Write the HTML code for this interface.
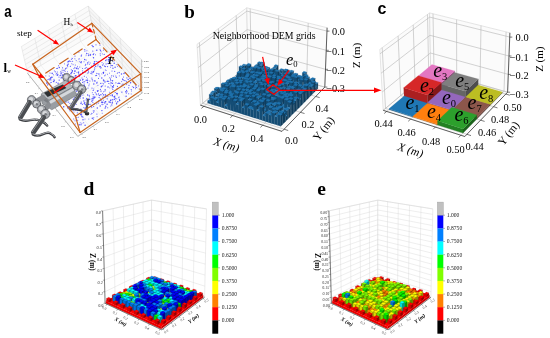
<!DOCTYPE html>
<html><head><meta charset="utf-8"><title>Figure</title>
<style>
html,body{margin:0;padding:0;background:#fff;}
body{width:550px;height:338px;overflow:hidden;}
svg{display:block;}
.ka{fill:#144d75;stroke:#144d75}.kb{fill:#103d5d;stroke:#103d5d}.kc{fill:#1e72ad;stroke:#1e72ad}.kd{fill:#b55f9b;stroke:#b55f9b}.ke{fill:#8c4978;stroke:#8c4978}.kf{fill:#e377c2;stroke:#e377c2}.kg{fill:#656565;stroke:#656565}.kh{fill:#4e4e4e;stroke:#4e4e4e}.ki{fill:#7f7f7f;stroke:#7f7f7f}.kj{fill:#96971b;stroke:#96971b}.kk{fill:#747515;stroke:#747515}.kl{fill:#bcbd22;stroke:#bcbd22}.km{fill:#ab1f20;stroke:#ab1f20}.kn{fill:#841818;stroke:#841818}.ko{fill:#d62728;stroke:#d62728}.kp{fill:#765297;stroke:#765297}.kq{fill:#5b3f75;stroke:#5b3f75}.kr{fill:#9467bd;stroke:#9467bd}.ks{fill:#70443c;stroke:#70443c}.kt{fill:#56352e;stroke:#56352e}.ku{fill:#8c564b;stroke:#8c564b}.kv{fill:#185f90;stroke:#185f90}.kw{fill:#13496f;stroke:#13496f}.kx{fill:#1f77b4;stroke:#1f77b4}.ky{fill:#cc650b;stroke:#cc650b}.kz{fill:#9e4e08;stroke:#9e4e08}.kaa{fill:#ff7f0e;stroke:#ff7f0e}.kab{fill:#238023;stroke:#238023}.kac{fill:#1b631b;stroke:#1b631b}.kad{fill:#2ca02c;stroke:#2ca02c}.kae{fill:#ea0000;stroke:#ea0000}.kaf{fill:#cc0000;stroke:#cc0000}.kag{fill:#ff0000;stroke:#ff0000}.kah{fill:#db0000;stroke:#720000}.kai{fill:#930000;stroke:#720000}.kaj{fill:#ff0000;stroke:#720000}.kak{fill:#006edb;stroke:#003972}.kal{fill:#004a93;stroke:#003972}.kam{fill:#0080ff;stroke:#003972}.kan{fill:#00db00;stroke:#007200}.kao{fill:#009300;stroke:#007200}.kap{fill:#00ff00;stroke:#007200}.kaq{fill:#00dbdb;stroke:#007272}.kar{fill:#009393;stroke:#007272}.kas{fill:#00ffff;stroke:#007272}.kat{fill:#6edb00;stroke:#397200}.kau{fill:#4a9300;stroke:#397200}.kav{fill:#80ff00;stroke:#397200}.kaw{fill:#0000db;stroke:#000072}.kax{fill:#000093;stroke:#000072}.kay{fill:#0000ff;stroke:#000072}.kaz{fill:#dbdb00;stroke:#727200}.kba{fill:#939300;stroke:#727200}.kbb{fill:#ffff00;stroke:#727200}.kbc{fill:#db6e00;stroke:#723900}.kbd{fill:#934a00;stroke:#723900}.kbe{fill:#ff8000;stroke:#723900}
</style></head><body>
<svg width="550" height="338" viewBox="0 0 550 338">
<rect width="550" height="338" fill="#fff"/>
<g id="panel-a">
<polygon points="27.6,73.4 94,33.5 141.8,93.3 77.8,136.4" fill="#fcfcfc"/>
<line x1="27.6" y1="73.4" x2="94" y2="33.5" stroke="#e2e2e2" stroke-width="0.4"/>
<line x1="37.6" y1="86" x2="103.6" y2="45.5" stroke="#e2e2e2" stroke-width="0.4"/>
<line x1="47.7" y1="98.6" x2="113.1" y2="57.4" stroke="#e2e2e2" stroke-width="0.4"/>
<line x1="57.7" y1="111.2" x2="122.7" y2="69.4" stroke="#e2e2e2" stroke-width="0.4"/>
<line x1="67.8" y1="123.8" x2="132.2" y2="81.3" stroke="#e2e2e2" stroke-width="0.4"/>
<line x1="77.8" y1="136.4" x2="141.8" y2="93.3" stroke="#e2e2e2" stroke-width="0.4"/>
<line x1="27.6" y1="73.4" x2="77.8" y2="136.4" stroke="#e2e2e2" stroke-width="0.4"/>
<line x1="40.9" y1="65.4" x2="90.6" y2="127.8" stroke="#e2e2e2" stroke-width="0.4"/>
<line x1="54.2" y1="57.4" x2="103.4" y2="119.2" stroke="#e2e2e2" stroke-width="0.4"/>
<line x1="67.4" y1="49.5" x2="116.2" y2="110.5" stroke="#e2e2e2" stroke-width="0.4"/>
<line x1="80.7" y1="41.5" x2="129" y2="101.9" stroke="#e2e2e2" stroke-width="0.4"/>
<line x1="94" y1="33.5" x2="141.8" y2="93.3" stroke="#e2e2e2" stroke-width="0.4"/>
<polygon points="21.4,46.5 88.3,6 94,33.5 27.6,73.4" fill="#fafafa"/>
<line x1="21.4" y1="46.5" x2="88.3" y2="6" stroke="#d6d6d6" stroke-width="0.45"/>
<line x1="22.4" y1="51" x2="89.2" y2="10.6" stroke="#d6d6d6" stroke-width="0.45"/>
<line x1="23.5" y1="55.5" x2="90.2" y2="15.2" stroke="#d6d6d6" stroke-width="0.45"/>
<line x1="24.5" y1="60" x2="91.2" y2="19.8" stroke="#d6d6d6" stroke-width="0.45"/>
<line x1="25.5" y1="64.4" x2="92.1" y2="24.3" stroke="#d6d6d6" stroke-width="0.45"/>
<line x1="26.6" y1="68.9" x2="93" y2="28.9" stroke="#d6d6d6" stroke-width="0.45"/>
<line x1="27.6" y1="73.4" x2="94" y2="33.5" stroke="#d6d6d6" stroke-width="0.45"/>
<line x1="21.4" y1="46.5" x2="27.6" y2="73.4" stroke="#d6d6d6" stroke-width="0.45"/>
<line x1="34.8" y1="38.4" x2="40.9" y2="65.4" stroke="#d6d6d6" stroke-width="0.45"/>
<line x1="48.2" y1="30.3" x2="54.2" y2="57.4" stroke="#d6d6d6" stroke-width="0.45"/>
<line x1="61.5" y1="22.2" x2="67.4" y2="49.5" stroke="#d6d6d6" stroke-width="0.45"/>
<line x1="74.9" y1="14.1" x2="80.7" y2="41.5" stroke="#d6d6d6" stroke-width="0.45"/>
<line x1="88.3" y1="6" x2="94" y2="33.5" stroke="#d6d6d6" stroke-width="0.45"/>
<polygon points="88.3,6 141.6,59.6 141.8,93.3 94,33.5" fill="#f6f6f6"/>
<line x1="88.3" y1="6" x2="141.6" y2="59.6" stroke="#d6d6d6" stroke-width="0.45"/>
<line x1="89.2" y1="10.6" x2="141.6" y2="65.2" stroke="#d6d6d6" stroke-width="0.45"/>
<line x1="90.2" y1="15.2" x2="141.7" y2="70.8" stroke="#d6d6d6" stroke-width="0.45"/>
<line x1="91.2" y1="19.8" x2="141.7" y2="76.5" stroke="#d6d6d6" stroke-width="0.45"/>
<line x1="92.1" y1="24.3" x2="141.7" y2="82.1" stroke="#d6d6d6" stroke-width="0.45"/>
<line x1="93" y1="28.9" x2="141.8" y2="87.7" stroke="#d6d6d6" stroke-width="0.45"/>
<line x1="94" y1="33.5" x2="141.8" y2="93.3" stroke="#d6d6d6" stroke-width="0.45"/>
<line x1="88.3" y1="6" x2="94" y2="33.5" stroke="#d6d6d6" stroke-width="0.45"/>
<line x1="99" y1="16.7" x2="103.6" y2="45.5" stroke="#d6d6d6" stroke-width="0.45"/>
<line x1="109.6" y1="27.4" x2="113.1" y2="57.4" stroke="#d6d6d6" stroke-width="0.45"/>
<line x1="120.3" y1="38.2" x2="122.7" y2="69.4" stroke="#d6d6d6" stroke-width="0.45"/>
<line x1="130.9" y1="48.9" x2="132.2" y2="81.3" stroke="#d6d6d6" stroke-width="0.45"/>
<line x1="141.6" y1="59.6" x2="141.8" y2="93.3" stroke="#d6d6d6" stroke-width="0.45"/>
<path d="M108.8 81.5h0M122.5 78.8h0M116.8 98.9h0M74.1 92.3h0M54.3 70.9h0M81 109.9h0M71.9 105.3h0M63.2 80.9h0M106.7 56.5h0M102.3 53.9h0M93.2 110.9h0M51.1 82.5h0M78.9 52.3h0M100.8 100.5h0M73.2 110.6h0M118.4 83.2h0M87.5 73.1h0M101.1 51.8h0M132.3 86.7h0M105.3 75h0M121.3 85.2h0M64.7 70.4h0M106.8 59.4h0M63.4 86.1h0M124.9 72.4h0M110.8 106.1h0M111.8 75.5h0M93.4 46.7h0M82 116.8h0M110.4 78.8h0M93.9 53.6h0M131.2 94h0M101.9 73.9h0M65.6 93.8h0M115.4 101.1h0M61.2 72.6h0M100.5 66.6h0M110.7 82.2h0M80.5 74h0M106.3 57.1h0M72 58.3h0M106.1 70.5h0M91.9 71.6h0M103.4 63.9h0M135.5 88.7h0M95.5 54.8h0M110.2 83.9h0M105.7 94.4h0M110.4 79.7h0M52.1 73h0M88.8 61.9h0M72 92.1h0M63.9 85.7h0M81.6 87h0M100.3 55.6h0M74.9 77h0M58.8 94.3h0M82.4 93.5h0M98.2 103.3h0M64.5 91.1h0M135.5 87h0M75.3 124h0M73.9 104.7h0M80.2 79.8h0M102.2 113.3h0M80.6 98.1h0M76.9 86.6h0M78.9 74.4h0M76.2 89.8h0M71.3 59.5h0M85.6 107.3h0M97.1 116.7h0M101.7 86.1h0M88.5 104.4h0M83 72.3h0M103.6 91.8h0M111.9 65.7h0M85 49.9h0M105.4 89.9h0M79.6 81.6h0M98.8 62.1h0M93 96.9h0M85 119.1h0M79.2 90.5h0M76.4 117.6h0M109.7 92.3h0M138.4 86h0M87.1 113.4h0M76.6 110h0M81.4 61.6h0M67.5 107.7h0M48.5 79.3h0M83.1 117.2h0M93.8 89h0M81.7 54.9h0M113 68.5h0M82.4 70.8h0M68.9 98.6h0M80.9 108.9h0M81.2 56.2h0M79.1 98.8h0M98 64.4h0M53.6 74.8h0M58.2 84.8h0M81.6 114.1h0M69.9 76.5h0M65.3 92.4h0M98.5 101.8h0M97.9 85.4h0M47.3 79.8h0M104.5 102.8h0M110.5 67.2h0M64.9 96.8h0M78.9 81.2h0M66.7 79.5h0M77 72.4h0M109.1 61.1h0M112.7 65.7h0M91.3 66.1h0M50.9 85.6h0M111.8 60.4h0M76.5 91.2h0M62.2 77.8h0M92.3 92.7h0M86.9 50.8h0M119.3 66.8h0M50.7 79.3h0M80.2 122.8h0M60.3 95.3h0M55.9 92.3h0M77 67.7h0M62 70.1h0M112.8 100.1h0M72.3 58.6h0M92 74h0M79.6 75.6h0M63 72.3h0M90.7 106.3h0M56.2 86.9h0M55.5 86.5h0M65.5 75.9h0M76.4 87.2h0M114.9 97.5h0M105.3 69.9h0M109.8 87.9h0M63.3 91.3h0M89.3 64.4h0M102.4 93.6h0M67.6 71.8h0M78.5 99.7h0M55.8 94.7h0M75.3 110.6h0M95.7 97.1h0M65.1 71.5h0M84.1 83.9h0M117.6 66.3h0M96.5 103.9h0M74.9 58.8h0M68.8 88.7h0M84.4 92h0M70.5 86.9h0M110.2 95.6h0M101.3 100h0M86.1 55.2h0M91.5 106.6h0M111.3 77h0M94.2 80.8h0M55.5 92.4h0M99.8 76h0M127.1 82.8h0M107.6 74.3h0M97.5 90.9h0M65.3 69.2h0M87.8 101.7h0M74 112.1h0M131.5 91h0M104.9 91.3h0M91 114.4h0M57.2 96.8h0M119.3 75.9h0M63.5 93.3h0M91.6 98.9h0M69.1 83.9h0M84 61.8h0M76.2 60.6h0M93.7 98.6h0M93.7 112.4h0M88.8 119.1h0M97.2 82.2h0M102 83.4h0M71.8 63.7h0M102 62.6h0M90.2 63h0M56.1 74.2h0M81.1 62.9h0M117.8 83.5h0M133.5 87.3h0M51.1 78h0M82.5 79.8h0M67.7 66.4h0M79.3 61.7h0M116.3 64.7h0M112.3 87h0M80.9 89.5h0M73.1 86.5h0M105 94.8h0M103.6 100.2h0M87.3 64.1h0M73.1 64.7h0M108.4 61.3h0M73.7 119h0M56.6 68.5h0M64.3 103.2h0M84.8 81.6h0M118.7 97.7h0M100.7 68.1h0M114.4 96.8h0M84.9 51.3h0M126.4 84.4h0M121.7 81.6h0M113.9 61.2h0M73.4 88.2h0M73.9 107h0M66.8 67.9h0M51.5 87.7h0M72.2 104.1h0M78.9 124.8h0M94 63.4h0M77.5 66.4h0M52.2 77.4h0M83.2 79.3h0M82.5 68.5h0M77.6 110.5h0M84.3 49.6h0M109.7 77.8h0M64.5 63.9h0M78.9 76.7h0M86.4 77.3h0M135.8 85.3h0M81.9 123.3h0M85.2 89.2h0M109.6 73.2h0M92.4 80.9h0M49.2 76.1h0M93.8 117.6h0M86.1 105.7h0M91.7 72.9h0M101.8 104.3h0M51 82.4h0M45.8 75.9h0" stroke="#2424ff" stroke-opacity=".78" stroke-width=".9" stroke-linecap="round" fill="none"/>
<path d="M77.7 120.2h0M105 89.8h0M83.7 122.7h0M49.5 79.8h0M117.2 94.7h0M81.7 115.8h0M54.3 92.7h0M102.9 104.6h0M104.2 54.4h0M60 92.8h0M76.2 104.2h0M94.1 96.3h0M62.6 74.8h0M109.1 101.3h0M119.9 83.5h0M72.8 76.7h0M103.6 83.8h0M90 104.2h0M107.2 98.8h0M92.9 72.3h0M75.5 84.8h0M93.8 97.2h0M64.7 86.7h0M104.9 103.1h0M52.6 87.4h0M75.3 65h0M66.3 96.6h0M68.4 102.1h0M74.3 90.6h0M70.3 92.4h0M93.1 72.5h0M102.9 97.1h0M105 108.1h0M92 88.1h0M78.6 73.1h0M59 77.1h0M100 45.1h0M70.4 66.3h0M86.1 60h0M70.7 77.4h0M88.5 55.6h0M95.2 92.2h0M72.3 78.4h0M82.5 82.3h0M110.9 80.2h0M96.9 114.1h0M105.6 66.6h0M99.5 95.5h0M81.6 111.2h0M117.5 86.3h0M88.9 85.7h0M128.7 93.7h0M89.2 95.3h0M53.6 91.2h0M99.3 95.4h0M91.8 101.3h0M96.9 73.4h0M81.7 114h0M77.3 112.8h0M100.3 98.7h0M117.1 88.6h0M107.1 81.3h0M92.1 45.4h0M62.6 67.8h0M56.8 73.5h0M94 64.5h0M131.2 89.5h0M82.7 79.8h0M103.2 72.2h0M112.6 83.5h0M96.7 102.2h0M117.2 93.4h0M69.1 85.4h0M79.7 67h0M78.8 59h0M53 91.7h0M46.9 83.4h0M93.6 106.5h0M47.6 84.9h0M99.1 97.4h0M112.7 99.5h0M83.9 81.9h0M98 61.8h0M87.6 62.8h0M93 99.9h0M90 104.5h0M66.9 102h0M68.7 108.7h0M67.2 94.3h0M81.3 55.7h0M63.2 70.2h0M65.8 68.4h0M67.4 87h0M92.8 51.1h0M107.6 66.6h0M68.5 82.1h0M84.4 76.2h0M96.6 75.2h0M65.8 95.2h0M74.5 79.5h0M74 68.6h0M88.6 54h0M79.2 58.8h0M67.8 61.9h0M98.5 93.9h0M113.5 76.1h0M88.5 71.1h0M101.1 67.7h0M106.1 63.9h0M112.4 86.5h0M72.5 70.7h0M86.2 67.5h0M74.7 90.6h0M81.2 102.1h0M112.9 68h0M88.6 72.7h0M70.8 61.3h0M57.3 72h0M75 70.7h0M103.4 50h0M51.9 77h0M126.6 90.4h0M62.8 75.1h0M96.8 94.7h0M124.4 87.5h0M109.1 102.2h0M54.6 90.4h0M50.9 80h0M107.7 107.7h0M82.9 95h0M115.8 76h0M48.8 83.9h0M58.5 65.7h0M100.5 89.3h0M100.2 53.8h0M111 85.7h0M104.7 82h0M89.9 81h0M82 78h0M85.1 72.2h0M69.7 83.1h0M74.2 105.7h0M56.3 82.3h0M76.9 91.2h0M71.3 69.7h0M94.7 67.9h0M67.4 78.4h0M78.7 71.7h0M108.8 83.5h0M126.9 77.9h0M98.5 78.3h0M90.9 73.3h0M119.1 97h0M85.3 65.2h0M83.9 107.6h0M113.6 85.4h0M91.9 78.1h0M123.5 77h0M98.4 90.7h0M74.9 67.3h0M126.3 93.1h0M110.7 65h0M97.9 65.8h0M116.3 77.4h0M89.2 84h0M96 44.8h0M55.3 71.8h0M98.2 62.5h0M114.7 71.4h0M71.3 76.1h0M65.8 74.3h0M69.3 86.4h0M67.1 97h0M90.1 55.5h0M103.4 94.9h0M81.3 124.7h0M57.6 68.3h0M115.9 82.8h0M112 65.5h0M111.8 104.9h0M87.6 79h0M105.6 107.8h0M74.2 73.4h0M116.6 104h0M97.3 90.7h0M50 73h0M86.6 98.6h0M73.5 94.7h0M50.5 77.7h0M92.1 66.4h0M115.7 98.6h0M107.8 96.2h0M72.6 61.2h0M128.7 87.8h0M100.1 49.2h0M94.1 110.9h0M127.1 91.7h0M60.8 71.7h0M70 110.8h0M61.3 77.4h0M76.2 75.8h0M123.6 80h0M57.2 75.4h0M93.2 90.4h0M61.1 78h0M133.7 87.6h0M96.2 61.5h0M129 85.4h0M85.7 64.3h0M87.6 70h0M96.1 93.8h0M126.4 81.2h0M112.8 89.5h0M49.9 84h0M52.5 89.8h0M80.6 80.2h0M82.4 104.3h0M100.5 83.2h0M105.2 81.9h0M88 68.4h0M71.7 78.9h0M92.2 79.5h0M51.4 77.2h0M116.4 103.8h0M84.9 86.4h0M103.5 94.9h0M104.7 75.7h0M69.9 103.3h0M63.4 91.1h0M92.8 102.2h0M87.8 62.9h0M75 56.1h0M93.3 119.1h0M80.9 95.7h0M117.4 73.1h0M102.7 85.8h0M89.4 96.7h0M94.6 69.8h0M91.8 107.2h0M93.2 94.6h0M112 71h0M104.6 97.4h0M105.2 86h0M64.5 91.7h0M82.2 116.7h0M103.5 73.3h0M110.6 59.9h0M114.9 96.1h0M110.6 100.5h0M112.4 102.1h0M67.9 107.9h0M78.6 72.2h0M86.2 99.9h0M105.8 95.3h0M78.2 117.2h0M75 120.7h0M115.2 92.5h0M112.2 88h0M108.3 59.9h0M136.5 87.5h0M92.1 100.3h0M85.1 68.4h0M88 88.1h0M91.9 113.4h0M108.6 57.4h0M119.4 99.3h0M62.1 75.8h0M97.6 91.3h0M54 79.2h0M77.1 94h0" stroke="#2424ff" stroke-opacity=".78" stroke-width="1.15" stroke-linecap="round" fill="none"/>
<path d="M130.6 82.8h0M105.8 106.3h0M78 95h0M116.8 93.4h0M75.4 75.7h0M68.7 61.5h0M108 87h0M98.8 101h0M96.8 83h0M115.1 67.3h0M79.9 124.7h0M105.5 96.8h0M58.2 86h0M59.2 80.1h0M112.3 94.9h0M85.2 104.4h0M108.1 63.5h0M70.3 107h0M85.1 108.7h0M84.2 85.2h0M72 77.9h0M61.1 96h0M110.9 99.9h0M73.4 99.3h0M74.9 71.3h0M68.4 85.4h0M79.6 75.2h0M97.3 108h0M81 103.4h0M84.7 59.5h0M72.2 92.6h0M52.2 73.6h0M93.5 57.8h0M92.8 98.5h0M114.1 96.7h0M76.9 109.1h0M114.4 99.2h0M126.1 96.3h0M119.2 72.6h0M100.5 50.6h0M54.2 80.7h0M73.5 93h0M94.5 97.7h0M78.2 90h0M80.7 114.4h0M105.8 60.4h0M87.6 94.9h0M112.3 95.8h0M94.5 103.7h0M77.8 98.5h0M124 73.4h0M79.2 95.7h0M84.3 103.3h0M93.6 71.5h0M102.7 65.1h0M62.6 90.7h0M72.3 90.5h0M68.5 77.5h0M71.5 72.4h0M83.2 98h0M83.9 100.9h0M100.2 106h0M111.8 83h0M108.9 59.4h0M79.3 75.9h0M47.1 82.4h0M95.9 75.6h0M61 97.4h0M57.8 74.7h0M113.3 86.9h0M58.1 83.2h0M75.7 77.9h0M114.2 63.3h0M133.5 82.1h0M69.4 93.6h0M102.7 102.3h0M60.2 75.5h0M130 78.2h0M100.9 94.7h0M107.1 104.3h0M116.7 103.1h0M101.3 86.8h0M121.9 92.1h0M76.4 68.5h0M92.3 118.2h0M58.4 97.7h0M89.7 99.3h0M112.5 80.7h0M63.7 106.8h0M50.1 78.6h0M103.5 79.9h0M81.5 85.5h0M93.3 54.5h0M84.8 102.7h0M68.5 106.6h0M88.4 104.2h0M82.5 91.7h0M68.3 64.1h0M60.9 90.8h0M92.9 46.6h0M86.2 80.2h0M59.3 67.4h0M72.4 70.9h0M61.1 73.8h0M121.5 74h0M78.8 89.9h0M119.7 100.5h0M72.8 95.6h0M71.8 72.6h0M109.7 59.1h0M98.9 73.9h0M80.3 96.5h0M89.3 99.4h0M87.5 82.5h0M103.5 72.5h0M128.2 79.4h0M90.4 54.7h0M96.8 50.2h0M103.9 80.8h0M93.8 84h0M123 84.2h0M61.9 100.6h0M119.1 83.2h0M95.7 66.3h0M102.7 102.6h0M101.7 102.2h0M95 80.9h0M124.9 80.6h0M64.5 98.2h0M94.5 61.7h0M70.9 73.8h0M68.8 92.5h0M117.8 101.7h0M87.6 80.6h0M68.5 90.3h0M66.7 81.9h0M112.2 102.9h0M80.9 62.2h0M53.5 81.4h0M104.6 66.1h0M68.2 82h0M70.8 77.8h0M85.1 125.2h0M82.8 72.8h0M110.2 102.3h0M101 91.1h0M67.4 65.3h0M69.9 94.8h0M99.8 66.7h0M107.9 81.2h0M105.3 101.8h0M86.7 70.5h0M101.9 110.6h0M58.6 95.1h0M83 119.7h0M64.7 73.9h0M69.2 60.9h0M69 98.7h0M105.7 101.7h0M86.8 53.4h0M94.2 63.5h0M84.5 86.2h0M101.8 78h0M78.1 68.7h0M64.8 75.8h0M75 97.5h0M65.9 86h0M122.7 79.6h0M65 101.9h0M125.8 91.7h0" stroke="#2424ff" stroke-opacity=".78" stroke-width="1.45" stroke-linecap="round" fill="none"/>
<line x1="27.6" y1="73.4" x2="77.8" y2="136.4" stroke="#8a8a8a" stroke-width="0.6"/>
<line x1="77.8" y1="136.4" x2="141.8" y2="93.3" stroke="#8a8a8a" stroke-width="0.6"/>
<line x1="141.8" y1="93.3" x2="141.6" y2="59.6" stroke="#9a9a9a" stroke-width="0.5"/>
<line x1="30.6" y1="77.2" x2="29.4" y2="77.9" stroke="#8a8a8a" stroke-width="0.4"/>
<text x="27.6" y="82.6" font-family="'Liberation Serif',serif" font-size="2.7" text-anchor="middle" fill="#444">0.0</text>
<line x1="39.4" y1="88.3" x2="38.2" y2="89" stroke="#8a8a8a" stroke-width="0.4"/>
<text x="36.4" y="93.7" font-family="'Liberation Serif',serif" font-size="2.7" text-anchor="middle" fill="#444">0.1</text>
<line x1="48.3" y1="99.4" x2="47.1" y2="100.1" stroke="#8a8a8a" stroke-width="0.4"/>
<text x="45.3" y="104.8" font-family="'Liberation Serif',serif" font-size="2.7" text-anchor="middle" fill="#444">0.2</text>
<line x1="57.1" y1="110.4" x2="55.9" y2="111.1" stroke="#8a8a8a" stroke-width="0.4"/>
<text x="54.1" y="115.8" font-family="'Liberation Serif',serif" font-size="2.7" text-anchor="middle" fill="#444">0.3</text>
<line x1="66" y1="121.5" x2="64.8" y2="122.2" stroke="#8a8a8a" stroke-width="0.4"/>
<text x="63" y="126.9" font-family="'Liberation Serif',serif" font-size="2.7" text-anchor="middle" fill="#444">0.4</text>
<line x1="74.8" y1="132.6" x2="73.6" y2="133.3" stroke="#8a8a8a" stroke-width="0.4"/>
<text x="71.8" y="138" font-family="'Liberation Serif',serif" font-size="2.7" text-anchor="middle" fill="#444">0.5</text>
<line x1="81.6" y1="133.8" x2="82.4" y2="135" stroke="#8a8a8a" stroke-width="0.4"/>
<text x="84.2" y="137.8" font-family="'Liberation Serif',serif" font-size="2.7" text-anchor="middle" fill="#444">0.0</text>
<line x1="92.9" y1="126.2" x2="93.7" y2="127.4" stroke="#8a8a8a" stroke-width="0.4"/>
<text x="95.5" y="130.2" font-family="'Liberation Serif',serif" font-size="2.7" text-anchor="middle" fill="#444">0.1</text>
<line x1="104.2" y1="118.6" x2="105" y2="119.8" stroke="#8a8a8a" stroke-width="0.4"/>
<text x="106.8" y="122.6" font-family="'Liberation Serif',serif" font-size="2.7" text-anchor="middle" fill="#444">0.2</text>
<line x1="115.4" y1="111.1" x2="116.2" y2="112.3" stroke="#8a8a8a" stroke-width="0.4"/>
<text x="118" y="115.1" font-family="'Liberation Serif',serif" font-size="2.7" text-anchor="middle" fill="#444">0.3</text>
<line x1="126.7" y1="103.5" x2="127.5" y2="104.7" stroke="#8a8a8a" stroke-width="0.4"/>
<text x="129.3" y="107.5" font-family="'Liberation Serif',serif" font-size="2.7" text-anchor="middle" fill="#444">0.4</text>
<line x1="138" y1="95.9" x2="138.8" y2="97.1" stroke="#8a8a8a" stroke-width="0.4"/>
<text x="140.6" y="99.9" font-family="'Liberation Serif',serif" font-size="2.7" text-anchor="middle" fill="#444">0.5</text>
<line x1="141.8" y1="61.4" x2="142.9" y2="61.4" stroke="#8a8a8a" stroke-width="0.35"/>
<text x="146.2" y="62.3" font-family="'Liberation Serif',serif" font-size="2.7" text-anchor="middle" fill="#444">0.00</text>
<line x1="141.8" y1="66.6" x2="142.9" y2="66.6" stroke="#8a8a8a" stroke-width="0.35"/>
<text x="146.2" y="67.5" font-family="'Liberation Serif',serif" font-size="2.7" text-anchor="middle" fill="#444">-0.05</text>
<line x1="141.8" y1="71.8" x2="142.9" y2="71.8" stroke="#8a8a8a" stroke-width="0.35"/>
<text x="146.2" y="72.7" font-family="'Liberation Serif',serif" font-size="2.7" text-anchor="middle" fill="#444">-0.10</text>
<line x1="141.8" y1="77.1" x2="142.9" y2="77.1" stroke="#8a8a8a" stroke-width="0.35"/>
<text x="146.2" y="78" font-family="'Liberation Serif',serif" font-size="2.7" text-anchor="middle" fill="#444">-0.15</text>
<line x1="141.8" y1="82.3" x2="142.9" y2="82.3" stroke="#8a8a8a" stroke-width="0.35"/>
<text x="146.2" y="83.2" font-family="'Liberation Serif',serif" font-size="2.7" text-anchor="middle" fill="#444">-0.20</text>
<line x1="141.8" y1="87.5" x2="142.9" y2="87.5" stroke="#8a8a8a" stroke-width="0.35"/>
<text x="146.2" y="88.4" font-family="'Liberation Serif',serif" font-size="2.7" text-anchor="middle" fill="#444">-0.25</text>
<line x1="141.8" y1="92.7" x2="142.9" y2="92.7" stroke="#8a8a8a" stroke-width="0.35"/>
<text x="146.2" y="93.6" font-family="'Liberation Serif',serif" font-size="2.7" text-anchor="middle" fill="#444">-0.30</text>
<g stroke-linecap="round" stroke-linejoin="round" fill="none">
<circle cx="66.6" cy="77.4" r="3.9" fill="#a9acb1" stroke="#54575c" stroke-width="0.8"/>
<circle cx="66.0" cy="76.7" r="1.95" fill="#d9dbde"/>
<circle cx="71.4" cy="80.0" r="3.5" fill="#a9acb1" stroke="#54575c" stroke-width="0.8"/>
<circle cx="70.80000000000001" cy="79.3" r="1.75" fill="#d9dbde"/>
<circle cx="71.7" cy="80.3" r="1.05" fill="#797c81"/>
<path d="M88.0 99.5 L86.3 112.0" stroke="#3a3c40" stroke-width="2.0"/>
<path d="M88.0 99.5 L86.3 112.0" stroke="#8b8e93" stroke-width="0.6" transform="translate(0 0)"/>
<ellipse cx="87.0" cy="113.8" rx="2.3" ry="1.6" fill="#26282b"/>
</g>
<polygon points="41.2,94 65.8,80.4 73,87 49,100.4" fill="#b4b8bd" stroke="#6f7277" stroke-width="0.5" stroke-linejoin="round"/>
<polygon points="44,92.8 62.8,84.4 66.4,88 47.7,96.9" fill="#2d3033"/>
<polygon points="41.2,94.6 49,100.4 73,87 77,95 51.8,109.8 42,103.6" fill="#9a9ea3" stroke="#5f6267" stroke-width="0.5" stroke-linejoin="round"/>
<polygon points="49.4,101 72.8,87.9 74.2,90.4 50.4,104" fill="#d5d8dc"/>
<polygon points="41.6,95.4 48.6,100.8 49.6,104.6 42.3,99.6" fill="#7c7f84"/>
<g stroke-linecap="round" stroke-linejoin="round" fill="none">
<circle cx="77.0" cy="85.6" r="4.4" fill="#a9acb1" stroke="#54575c" stroke-width="0.8"/>
<circle cx="76.4" cy="84.89999999999999" r="2.2" fill="#d9dbde"/>
<circle cx="81.8" cy="89.2" r="4.2" fill="#a9acb1" stroke="#54575c" stroke-width="0.8"/>
<circle cx="81.2" cy="88.5" r="2.1" fill="#d9dbde"/>
<circle cx="82.1" cy="89.5" r="1.26" fill="#797c81"/>
<path d="M80.6 92.4 L71.0 107.6" stroke="#54575c" stroke-width="4.0"/>
<path d="M80.6 92.4 L71.0 107.6" stroke="#9a9da2" stroke-width="0.9" transform="translate(-0.9 -0.4)"/>
<path d="M70.2 109.2 Q76 108.6 80.5 110.2 T88.0 113.2" stroke="#2c2e31" stroke-width="2.2"/>
<path d="M70.2 109.2 Q76 108.6 80.5 110.2 T88.0 113.2" stroke="#85888d" stroke-width="0.6" transform="translate(0 -0.4)"/>
<path d="M36 101.5 L43 97.5" stroke="#8b8e93" stroke-width="5"/>
<path d="M44.5 110.5 L48.5 105" stroke="#8b8e93" stroke-width="5"/>
<circle cx="31.6" cy="99.8" r="4.2" fill="#a9acb1" stroke="#54575c" stroke-width="0.8"/>
<circle cx="31.0" cy="99.1" r="2.1" fill="#d9dbde"/>
<circle cx="36.6" cy="104.0" r="4.0" fill="#a9acb1" stroke="#54575c" stroke-width="0.8"/>
<circle cx="36.0" cy="103.3" r="2.0" fill="#d9dbde"/>
<circle cx="36.9" cy="104.3" r="1.2" fill="#797c81"/>
<path d="M29.4 102.4 L20.4 117.4" stroke="#4a4d51" stroke-width="4.8"/>
<path d="M29.4 102.4 L20.4 117.4" stroke="#8e9196" stroke-width="1.0" transform="translate(-1.2 -0.6)"/>
<path d="M19.8 119.4 Q24 121.6 30 120.2 T40.6 121.0 Q45 122.6 47.2 125.6" stroke="#3a3c40" stroke-width="2.4"/>
<path d="M19.8 119.4 Q24 121.6 30 120.2 T40.6 121.0 Q45 122.6 47.2 125.6" stroke="#b4b7bb" stroke-width="0.9" transform="translate(0 -0.4)"/>
<circle cx="41.6" cy="109.4" r="4.2" fill="#a9acb1" stroke="#54575c" stroke-width="0.8"/>
<circle cx="41.0" cy="108.7" r="2.1" fill="#d9dbde"/>
<circle cx="45.4" cy="114.0" r="4.5" fill="#a9acb1" stroke="#54575c" stroke-width="0.8"/>
<circle cx="44.8" cy="113.3" r="2.25" fill="#d9dbde"/>
<circle cx="45.699999999999996" cy="114.3" r="1.3499999999999999" fill="#797c81"/>
<path d="M43.8 117.4 L33.4 132.4" stroke="#4a4d51" stroke-width="4.8"/>
<path d="M43.8 117.4 L33.4 132.4" stroke="#8e9196" stroke-width="1.0" transform="translate(-1.2 -0.6)"/>
<path d="M32.8 134.4 Q37 137.0 43 134.2 T51.0 134.0 Q53.8 135.2 54.6 137.2" stroke="#3a3c40" stroke-width="2.4"/>
<path d="M32.8 134.4 Q37 137.0 43 134.2 T51.0 134.0 Q53.8 135.2 54.6 137.2" stroke="#b4b7bb" stroke-width="0.9" transform="translate(0 -0.4)"/>
</g>
<line x1="32.8" y1="64.2" x2="91.9" y2="23.3" stroke="#c8641e" stroke-width="1.2" stroke-linecap="round"/>
<line x1="91.9" y1="23.3" x2="140.8" y2="73.8" stroke="#c8641e" stroke-width="1.2" stroke-linecap="round"/>
<line x1="140.8" y1="73.8" x2="75.4" y2="116.2" stroke="#c8641e" stroke-width="1.2" stroke-linecap="round"/>
<line x1="75.4" y1="116.2" x2="32.8" y2="64.2" stroke="#c8641e" stroke-width="1.2" stroke-linecap="round"/>
<line x1="32.8" y1="64.2" x2="39.5" y2="77.3" stroke="#c8641e" stroke-width="1.2" stroke-linecap="round"/>
<line x1="140.8" y1="73.8" x2="141.1" y2="90.4" stroke="#c8641e" stroke-width="1.2" stroke-linecap="round"/>
<line x1="75.4" y1="116.2" x2="80.1" y2="132.5" stroke="#c8641e" stroke-width="1.2" stroke-linecap="round"/>
<line x1="39.5" y1="77.3" x2="80.1" y2="132.5" stroke="#c8641e" stroke-width="1.2" stroke-linecap="round"/>
<line x1="80.1" y1="132.5" x2="141.1" y2="90.4" stroke="#c8641e" stroke-width="1.2" stroke-linecap="round"/>
<line x1="91.9" y1="23.3" x2="96.1" y2="39.6" stroke="#c8641e" stroke-width="1.2" stroke-linecap="round" stroke-dasharray="3.6 3"/>
<line x1="96.1" y1="39.6" x2="39.5" y2="77.3" stroke="#c8641e" stroke-width="1.2" stroke-linecap="round" stroke-dasharray="10 6.8"/>
<line x1="96.1" y1="39.6" x2="141.1" y2="90.4" stroke="#c8641e" stroke-width="1.2" stroke-linecap="round" stroke-dasharray="5.5 5.5"/>
<line x1="37.6" y1="30.2" x2="54.6" y2="41.7" stroke="#ff0000" stroke-width="1.2"/>
<polygon points="59.2,44.8 52.9,43.4 55.6,39.5" fill="#ff0000"/>
<line x1="77.3" y1="22.6" x2="88.8" y2="29.9" stroke="#ff0000" stroke-width="1.2"/>
<polygon points="93.5,32.8 87.1,31.6 89.7,27.6" fill="#ff0000"/>
<line x1="15" y1="65" x2="39.8" y2="75.8" stroke="#ff0000" stroke-width="1.2"/>
<polygon points="44.8,78 38.3,77.8 40.3,73.4" fill="#ff0000"/>
<line x1="54" y1="93" x2="112.4" y2="52.8" stroke="#ff0000" stroke-width="1.2"/>
<polygon points="117.3,49.4 113.4,55.2 110.5,50.9" fill="#ff0000"/>
<text x="17" y="36.2" font-family="'Liberation Serif',serif" font-size="9.2">step</text>
<text x="63.6" y="25.2" font-family="'Liberation Serif',serif" font-size="9.4">H<tspan font-size="4.6" dy="0.8">h</tspan></text>
<text x="3.6" y="72" font-family="'Liberation Serif',serif" font-size="13"><tspan font-weight="bold">l</tspan><tspan font-size="5.2" dy="1.2">w</tspan></text>
<text x="111.3" y="64" font-family="'Liberation Serif',serif" font-size="9.6" font-weight="bold" font-style="italic" text-anchor="middle">F</text>
<text x="8" y="17.4" font-family="'Liberation Sans',sans-serif" font-size="17" font-weight="bold" text-anchor="middle" textLength="7.4" lengthAdjust="spacingAndGlyphs">a</text>
</g>
<g id="panel-b">
<polygon points="200.4,105.2 282,131.4 324.8,87.1 247.9,65.2" fill="#fbfbfb" stroke="#cccccc" stroke-width="0.5" stroke-linejoin="round"/>
<polygon points="200.4,105.2 247.9,65.2 246.8,7.8 197,44.3" fill="#fbfbfb" stroke="#cccccc" stroke-width="0.5" stroke-linejoin="round"/>
<polygon points="247.9,65.2 324.8,87.1 327.1,27.7 246.8,7.8" fill="#fbfbfb" stroke="#cccccc" stroke-width="0.5" stroke-linejoin="round"/>
<line x1="203.9" y1="106.3" x2="251.2" y2="66.2" stroke="#b6b6b6" stroke-width="0.6"/>
<line x1="251.2" y1="66.2" x2="250.2" y2="8.6" stroke="#b6b6b6" stroke-width="0.6"/>
<line x1="232.7" y1="115.6" x2="278.5" y2="73.9" stroke="#b6b6b6" stroke-width="0.6"/>
<line x1="278.5" y1="73.9" x2="278.7" y2="15.7" stroke="#b6b6b6" stroke-width="0.6"/>
<line x1="262.7" y1="125.2" x2="306.7" y2="82" stroke="#b6b6b6" stroke-width="0.6"/>
<line x1="306.7" y1="82" x2="308.2" y2="23" stroke="#b6b6b6" stroke-width="0.6"/>
<line x1="202.7" y1="103.3" x2="284.1" y2="129.2" stroke="#b6b6b6" stroke-width="0.6"/>
<line x1="202.7" y1="103.3" x2="199.4" y2="42.5" stroke="#b6b6b6" stroke-width="0.6"/>
<line x1="220.8" y1="88" x2="300.4" y2="112.3" stroke="#b6b6b6" stroke-width="0.6"/>
<line x1="220.8" y1="88" x2="218.4" y2="28.6" stroke="#b6b6b6" stroke-width="0.6"/>
<line x1="237.8" y1="73.7" x2="315.8" y2="96.5" stroke="#b6b6b6" stroke-width="0.6"/>
<line x1="237.8" y1="73.7" x2="236.2" y2="15.5" stroke="#b6b6b6" stroke-width="0.6"/>
<line x1="200.4" y1="105.2" x2="247.9" y2="65.2" stroke="#b6b6b6" stroke-width="0.6"/>
<line x1="247.9" y1="65.2" x2="324.8" y2="87.1" stroke="#b6b6b6" stroke-width="0.6"/>
<line x1="199.4" y1="86.9" x2="247.6" y2="47.9" stroke="#b6b6b6" stroke-width="0.6"/>
<line x1="247.6" y1="47.9" x2="325.5" y2="69.3" stroke="#b6b6b6" stroke-width="0.6"/>
<line x1="198.3" y1="67.5" x2="247.2" y2="29.6" stroke="#b6b6b6" stroke-width="0.6"/>
<line x1="247.2" y1="29.6" x2="326.3" y2="50.3" stroke="#b6b6b6" stroke-width="0.6"/>
<line x1="197.2" y1="47.8" x2="246.9" y2="11.1" stroke="#b6b6b6" stroke-width="0.6"/>
<line x1="246.9" y1="11.1" x2="327" y2="31.1" stroke="#b6b6b6" stroke-width="0.6"/>
<g stroke-width=".2" stroke-linejoin="round">
<path class="ka" d="M246.8 67.6l2.7 .8-.1-3-2.6-.8z"/>
<path class="kb" d="M249.5 68.4l1.5-1.3 0-3-1.6 1.3z"/>
<path class="kc" d="M246.8 64.6l2.6 .8 1.6-1.3-2.7-.8z"/>
<path class="kc" d="M249.5 68.4l2.7 .8 1.5-1.3-2.7-.8z"/>
<path class="kc" d="M252.2 69.2l2.7 .8 1.5-1.3-2.7-.8z"/>
<path class="ka" d="M254.8 66l2.7 .8 0-.5-2.7-.8z"/>
<path class="kc" d="M254.8 65.5l2.7 .8 1.5-1.3-2.7-.8z"/>
<path class="ka" d="M257.5 66.5l2.7 .8 0-3.7-2.7-.8z"/>
<path class="kc" d="M257.5 62.8l2.7 .8 1.5-1.3-2.7-.8z"/>
<path class="ka" d="M260.2 64l2.7 .8 0-.9-2.7-.8z"/>
<path class="kb" d="M263 67.1l1.5-1.3-.1-3.2-1.5 1.3z"/>
<path class="kc" d="M260.2 63.1l2.7 .8 1.5-1.3-2.7-.8z"/>
<path class="ka" d="M263 67.4l2.7 .8 0-.3-2.7-.8z"/>
<path class="kb" d="M265.7 68.1l1.5-1.3 0-.3-1.5 1.4z"/>
<path class="kc" d="M263 67.1l2.7 .8 1.5-1.4-2.7-.7z"/>
<path class="ka" d="M265.7 69.7l2.8 .8-.1-1.6-2.7-.8z"/>
<path class="kb" d="M268.5 70.8l1.4-1.3 0-2-1.5 1.4z"/>
<path class="kc" d="M265.7 68.1l2.7 .8 1.5-1.4-2.7-.7z"/>
<path class="ka" d="M268.5 71.8l2.7 .8 0-1-2.7-.8z"/>
<path class="kc" d="M268.5 70.8l2.7 .8 1.5-1.3-2.8-.8z"/>
<path class="kc" d="M271.2 70.4l2.8 .8 1.4-1.3-2.7-.8z"/>
<path class="ka" d="M274 66.6l2.8 .8 0-.9-2.8-.8z"/>
<path class="kb" d="M276.7 75.2l1.5-1.3 0-8.7-1.4 1.3z"/>
<path class="kc" d="M274 65.7l2.8 .8 1.4-1.3-2.7-.8z"/>
<path class="kc" d="M276.7 75.2l2.8 .8 1.5-1.3-2.8-.8z"/>
<path class="ka" d="M279.5 72.6l2.8 .8 .1-2.9-2.8-.8z"/>
<path class="kb" d="M282.3 77.4l1.5-1.3 0-6.9-1.4 1.3z"/>
<path class="kc" d="M279.6 69.7l2.8 .8 1.4-1.3-2.8-.8z"/>
<path class="kc" d="M282.3 77.4l2.8 .8 1.5-1.3-2.8-.8z"/>
<path class="kb" d="M287.9 77.9l1.5-1.3 0-6.5-1.4 1.3z"/>
<path class="kc" d="M285.2 70.6l2.8 .8 1.4-1.3-2.8-.8z"/>
<path class="kc" d="M287.9 77.9l2.8 .9 1.5-1.4-2.8-.8z"/>
<path class="kb" d="M293.6 79l1.4-1.4 0-.2-1.4 1.4z"/>
<path class="kc" d="M290.8 78l2.8 .8 1.4-1.4-2.8-.8z"/>
<path class="kc" d="M293.6 79l2.8 .8 1.5-1.4-2.9-.8z"/>
<path class="ka" d="M296.4 79.1l2.9 .8 0-1.1-2.8-.8z"/>
<path class="kb" d="M299.3 80.4l1.4-1.3 0-1.7-1.4 1.4z"/>
<path class="kc" d="M296.5 78l2.8 .8 1.4-1.4-2.8-.8z"/>
<path class="kc" d="M299.3 80.4l2.8 .8 1.5-1.3-2.9-.8z"/>
<path class="ka" d="M302.2 79l2.9 .8 .1-6.3-2.9-.8z"/>
<path class="kb" d="M305.1 79.9l1.4-1.3 .1-6.5-1.4 1.4z"/>
<path class="kc" d="M302.3 72.7l2.9 .8 1.4-1.4-2.9-.8z"/>
<path class="kb" d="M307.9 82.2l1.4-1.4 .1-1.4-1.4 1.4z"/>
<path class="kc" d="M305.1 79.9l2.9 .9 1.4-1.4-2.9-.8z"/>
<path class="kc" d="M307.9 82.2l2.9 .8 1.4-1.4-2.9-.8z"/>
<path class="kb" d="M313.7 83.3l1.4-1.4 .1-3.6-1.4 1.4z"/>
<path class="kc" d="M310.9 78.8l2.9 .9 1.4-1.4-2.9-.8z"/>
<path class="ka" d="M313.7 85.3l2.9 .9 0-2.1-2.9-.8z"/>
<path class="kb" d="M316.5 89.9l1.3-1.4 .2-5.8-1.4 1.4z"/>
<path class="kc" d="M313.7 83.3l2.9 .8 1.4-1.4-2.9-.8z"/>
<path class="kc" d="M245.3 68.9l2.7 .8 1.5-1.3-2.7-.8z"/>
<path class="kb" d="M250.6 68.8l1.6-1.3-.1-.6-1.5 1.3z"/>
<path class="kc" d="M247.9 67.4l2.7 .8 1.5-1.3-2.6-.8z"/>
<path class="kc" d="M250.6 68.8l2.7 .8 1.5-1.3-2.6-.8z"/>
<path class="ka" d="M253.3 68.5l2.7 .8 0-1.2-2.7-.8z"/>
<path class="kc" d="M253.3 67.3l2.7 .8 1.5-1.3-2.7-.8z"/>
<path class="ka" d="M256.1 72l2.7 .8-.1-4.2-2.7-.8z"/>
<path class="kc" d="M256 67.8l2.7 .8 1.5-1.3-2.7-.8z"/>
<path class="ka" d="M258.7 69.6l2.8 .8-.1-4.3-2.7-.8z"/>
<path class="kb" d="M261.5 68.7l1.5-1.3-.1-2.6-1.5 1.3z"/>
<path class="kc" d="M258.7 65.3l2.7 .8 1.5-1.3-2.7-.8z"/>
<path class="kb" d="M264.2 71l1.5-1.3 0-1.5-1.5 1.3z"/>
<path class="kc" d="M261.5 68.7l2.7 .8 1.5-1.3-2.7-.8z"/>
<path class="ka" d="M264.2 72.2l2.8 .8 0-1.2-2.8-.8z"/>
<path class="kb" d="M267 73.2l1.5-1.4 0-1.3-1.5 1.3z"/>
<path class="kc" d="M264.2 71l2.8 .8 1.5-1.3-2.8-.8z"/>
<path class="ka" d="M267 73.2l2.7 .8 0-.1-2.7-.7z"/>
<path class="kc" d="M267 73.2l2.7 .7 1.5-1.3-2.7-.8z"/>
<path class="ka" d="M269.7 75.1l2.8 .8 0-5-2.8-.8z"/>
<path class="kc" d="M269.7 70.1l2.8 .8 1.5-1.3-2.8-.8z"/>
<path class="ka" d="M272.5 74.8l2.8 .8 0-6.9-2.8-.8z"/>
<path class="kb" d="M275.3 73.7l1.5-1.4 0-4.9-1.5 1.3z"/>
<path class="kc" d="M272.5 67.9l2.8 .8 1.5-1.3-2.8-.8z"/>
<path class="kc" d="M275.3 73.7l2.8 .8 1.4-1.4-2.7-.8z"/>
<path class="kb" d="M280.9 75.9l1.4-1.4 0-1.1-1.4 1.3z"/>
<path class="kc" d="M278.1 74l2.8 .7 1.4-1.3-2.8-.8z"/>
<path class="ka" d="M280.9 78.8l2.8 .8 0-2.9-2.8-.8z"/>
<path class="kc" d="M280.9 75.9l2.8 .8 1.4-1.4-2.8-.8z"/>
<path class="ka" d="M283.7 75l2.8 .8 .1-4.9-2.9-.8z"/>
<path class="kb" d="M286.5 73l1.5-1.3 0-2.2-1.4 1.4z"/>
<path class="kc" d="M283.7 70.1l2.9 .8 1.4-1.4-2.8-.7z"/>
<path class="kc" d="M286.5 73l2.9 .8 1.4-1.3-2.8-.8z"/>
<path class="ka" d="M289.3 78l2.9 .8 .1-6.6-2.9-.8z"/>
<path class="kb" d="M292.2 74.8l1.5-1.3 0-2.7-1.4 1.4z"/>
<path class="kc" d="M289.4 71.4l2.9 .8 1.4-1.4-2.8-.8z"/>
<path class="ka" d="M292.2 78.1l2.8 .9 .1-3.4-2.9-.8z"/>
<path class="kb" d="M295 80.4l1.4-1.3 .1-4.8-1.4 1.3z"/>
<path class="kc" d="M292.2 74.8l2.9 .8 1.4-1.3-2.8-.8z"/>
<path class="kc" d="M295 80.4l2.9 .8 1.4-1.3-2.9-.8z"/>
<path class="kb" d="M300.8 80.4l1.4-1.4 .1-2.8-1.5 1.3z"/>
<path class="kc" d="M297.9 76.7l2.9 .8 1.5-1.3-2.9-.9z"/>
<path class="kc" d="M300.8 80.4l2.9 .8 1.4-1.4-2.9-.8z"/>
<path class="ka" d="M303.7 80l2.9 .9 .1-4.6-2.9-.9z"/>
<path class="kb" d="M306.5 83.2l1.4-1.3 .2-7-1.4 1.4z"/>
<path class="kc" d="M303.8 75.4l2.9 .9 1.4-1.4-2.9-.8z"/>
<path class="kc" d="M306.5 83.2l2.9 .9 1.4-1.4-2.9-.8z"/>
<path class="ka" d="M309.5 82l2.9 .9 .1-2.4-3-.8z"/>
<path class="kb" d="M312.3 86.7l1.4-1.4 .2-6.2-1.4 1.4z"/>
<path class="kc" d="M309.5 79.7l3 .8 1.4-1.4-3-.8z"/>
<path class="kb" d="M315.1 91.3l1.4-1.4 .1-3.7-1.4 1.4z"/>
<path class="kc" d="M312.3 86.7l2.9 .9 1.4-1.4-2.9-.9z"/>
<path class="kc" d="M243.8 70.2l2.6 .8 1.6-1.3-2.7-.8z"/>
<path class="ka" d="M246.4 70.7l2.7 .7-.1-5.3-2.7-.8z"/>
<path class="kb" d="M249.1 68.6l1.5-1.3 0-2.5-1.6 1.3z"/>
<path class="kc" d="M246.3 65.3l2.7 .8 1.6-1.3-2.7-.7z"/>
<path class="kb" d="M251.8 69.8l1.5-1.3 0-.4-1.5 1.3z"/>
<path class="kc" d="M249.1 68.6l2.7 .8 1.5-1.3-2.7-.8z"/>
<path class="ka" d="M251.8 72.2l2.7 .7 0-2.3-2.7-.8z"/>
<path class="kb" d="M254.5 73.3l1.6-1.3-.1-2.7-1.5 1.3z"/>
<path class="kc" d="M251.8 69.8l2.7 .8 1.5-1.3-2.7-.8z"/>
<path class="kc" d="M254.5 73.3l2.8 .8 1.5-1.3-2.7-.8z"/>
<path class="ka" d="M257.2 72.1l2.8 .8 0-1.2-2.8-.7z"/>
<path class="kc" d="M257.2 71l2.8 .7 1.5-1.3-2.8-.8z"/>
<path class="ka" d="M260 71.2l2.7 .8 0-2.5-2.8-.8z"/>
<path class="kb" d="M262.7 73.6l1.5-1.4 0-4-1.5 1.3z"/>
<path class="kc" d="M259.9 68.7l2.8 .8 1.5-1.3-2.8-.8z"/>
<path class="kb" d="M265.5 74.6l1.5-1.4 0-.2-1.5 1.3z"/>
<path class="kc" d="M262.7 73.6l2.8 .7 1.5-1.3-2.8-.8z"/>
<path class="kb" d="M268.2 76.4l1.5-1.3 0-1.1-1.5 1.4z"/>
<path class="kc" d="M265.5 74.6l2.7 .8 1.5-1.4-2.7-.8z"/>
<path class="kc" d="M268.2 76.4l2.8 .8 1.5-1.3-2.8-.8z"/>
<path class="kc" d="M271 76.2l2.8 .8 1.5-1.4-2.8-.8z"/>
<path class="ka" d="M273.8 75.1l2.8 .8 0-1.5-2.8-.8z"/>
<path class="kc" d="M273.8 73.6l2.8 .8 1.5-1.3-2.8-.8z"/>
<path class="kb" d="M279.4 80.2l1.5-1.4 0-5.6-1.5 1.3z"/>
<path class="kc" d="M276.6 73.7l2.8 .8 1.5-1.3-2.8-.8z"/>
<path class="kc" d="M279.4 80.2l2.8 .8 1.5-1.4-2.8-.8z"/>
<path class="kc" d="M282.2 76.3l2.9 .9 1.4-1.4-2.8-.8z"/>
<path class="kb" d="M287.9 79.3l1.4-1.3 .1-4.5-1.5 1.4z"/>
<path class="kc" d="M285.1 74l2.8 .9 1.5-1.4-2.9-.8z"/>
<path class="kc" d="M287.9 79.3l2.8 .8 1.5-1.3-2.9-.8z"/>
<path class="kc" d="M290.7 79.5l2.9 .8 1.4-1.3-2.8-.9z"/>
<path class="kb" d="M296.5 76.5l1.5-1.4 0-1.4-1.4 1.3z"/>
<path class="kc" d="M293.7 74.2l2.9 .8 1.4-1.3-2.9-.8z"/>
<path class="ka" d="M296.5 78.7l2.9 .9 0-2.3-2.9-.8z"/>
<path class="kc" d="M296.5 76.5l2.9 .8 1.5-1.4-2.9-.8z"/>
<path class="ka" d="M299.4 81.1l2.8 .8 .1-4-2.9-.8z"/>
<path class="kb" d="M302.3 81.4l1.4-1.4 .1-3.5-1.5 1.4z"/>
<path class="kc" d="M299.4 77.1l2.9 .8 1.5-1.4-2.9-.8z"/>
<path class="kc" d="M302.3 81.4l2.9 .9 1.4-1.4-2.9-.9z"/>
<path class="ka" d="M305.2 78.2l3 .8 0-.8-2.9-.8z"/>
<path class="kb" d="M308.1 83.4l1.4-1.4 .1-5.1-1.4 1.3z"/>
<path class="kc" d="M305.3 77.4l2.9 .8 1.4-1.3-2.9-.9z"/>
<path class="ka" d="M308 85.1l2.9 .8 .1-1.6-2.9-.9z"/>
<path class="kc" d="M308.1 83.4l2.9 .9 1.4-1.4-2.9-.9z"/>
<path class="ka" d="M311 83.7l2.9 .9 .1-1.9-3-.8z"/>
<path class="kb" d="M313.7 92.7l1.4-1.4 .3-10-1.4 1.4z"/>
<path class="kc" d="M311 81.9l3 .8 1.4-1.4-2.9-.8z"/>
<path class="ka" d="M242.2 71.5l2.7 .8-.1-6.3-2.7-.8z"/>
<path class="kb" d="M244.9 72l1.5-1.3-.1-6-1.5 1.3z"/>
<path class="kc" d="M242.1 65.2l2.7 .8 1.5-1.3-2.7-.8z"/>
<path class="kc" d="M244.9 72l2.7 .7 1.5-1.3-2.7-.7z"/>
<path class="ka" d="M247.5 70l2.8 .8-.1-.7-2.7-.8z"/>
<path class="kb" d="M250.3 73.5l1.5-1.3 0-3.5-1.6 1.4z"/>
<path class="kc" d="M247.5 69.3l2.7 .8 1.6-1.4-2.7-.7z"/>
<path class="ka" d="M250.3 73.9l2.7 .8 0-.4-2.7-.8z"/>
<path class="kc" d="M250.3 73.5l2.7 .8 1.5-1.4-2.7-.7z"/>
<path class="ka" d="M253 71.1l2.7 .8 0-3.4-2.8-.8z"/>
<path class="kb" d="M255.7 73.4l1.5-1.3 0-4.9-1.5 1.3z"/>
<path class="kc" d="M252.9 67.7l2.8 .8 1.5-1.3-2.8-.8z"/>
<path class="ka" d="M255.7 74.1l2.8 .8 0-.7-2.8-.8z"/>
<path class="kc" d="M255.7 73.4l2.8 .8 1.5-1.3-2.8-.8z"/>
<path class="kc" d="M258.4 72.5l2.8 .8 1.5-1.3-2.7-.8z"/>
<path class="ka" d="M261.2 72.3l2.8 .8-.1-.7-2.7-.8z"/>
<path class="kc" d="M261.2 71.6l2.7 .8 1.6-1.4-2.8-.8z"/>
<path class="kb" d="M266.7 73.7l1.5-1.4 0-2.9-1.5 1.3z"/>
<path class="kc" d="M263.9 69.9l2.8 .8 1.5-1.3-2.8-.8z"/>
<path class="kc" d="M266.7 73.7l2.8 .7 1.5-1.3-2.8-.8z"/>
<path class="ka" d="M269.5 75.2l2.8 .8 0-5.5-2.8-.8z"/>
<path class="kb" d="M272.3 76.4l1.5-1.3 0-5.9-1.5 1.3z"/>
<path class="kc" d="M269.5 69.7l2.8 .8 1.5-1.3-2.8-.8z"/>
<path class="ka" d="M272.3 77.6l2.8 .8 0-1.2-2.8-.8z"/>
<path class="kc" d="M272.3 76.4l2.8 .8 1.5-1.3-2.8-.8z"/>
<path class="ka" d="M275.1 78.7l2.8 .8 0-7.8-2.8-.8z"/>
<path class="kb" d="M277.9 81.1l1.5-1.4 0-9.3-1.5 1.3z"/>
<path class="kc" d="M275.1 70.9l2.8 .8 1.5-1.3-2.8-.8z"/>
<path class="kc" d="M277.9 81.1l2.8 .8 1.5-1.4-2.8-.8z"/>
<path class="ka" d="M280.7 78.4l2.9 .8 0-2.7-2.8-.8z"/>
<path class="kc" d="M280.8 75.7l2.8 .8 1.5-1.3-2.9-.8z"/>
<path class="ka" d="M283.6 81l2.8 .8 .1-7.2-2.9-.8z"/>
<path class="kc" d="M283.6 73.8l2.9 .8 1.4-1.4-2.8-.8z"/>
<path class="ka" d="M286.5 75.5l2.8 .8 .1-2.6-2.9-.8z"/>
<path class="kb" d="M289.3 79.4l1.4-1.3 .1-5.8-1.4 1.4z"/>
<path class="kc" d="M286.5 72.9l2.9 .8 1.4-1.4-2.8-.8z"/>
<path class="kc" d="M289.3 79.4l2.9 .8 1.4-1.3-2.9-.8z"/>
<path class="kb" d="M295 80.1l1.5-1.4 .1-3.9-1.5 1.4z"/>
<path class="kc" d="M292.2 75.4l2.9 .8 1.5-1.4-2.9-.8z"/>
<path class="kb" d="M297.9 82.5l1.5-1.4 0-1.5-1.5 1.4z"/>
<path class="kc" d="M295 80.1l2.9 .9 1.5-1.4-2.9-.9z"/>
<path class="kc" d="M297.9 82.5l2.9 .8 1.4-1.4-2.8-.8z"/>
<path class="kc" d="M300.9 80.7l2.9 .8 1.4-1.4-2.9-.8z"/>
<path class="ka" d="M303.7 84.4l2.9 .9 .1-4.9-2.9-.8z"/>
<path class="kb" d="M306.6 86.5l1.4-1.4 .2-6.1-1.5 1.4z"/>
<path class="kc" d="M303.8 79.6l2.9 .8 1.5-1.4-3-.8z"/>
<path class="kc" d="M306.6 86.5l2.9 .8 1.4-1.4-2.9-.8z"/>
<path class="ka" d="M309.6 85.2l2.9 .9 0-.1-2.9-.9z"/>
<path class="kb" d="M312.3 94.2l1.4-1.5 .2-8.1-1.4 1.4z"/>
<path class="kc" d="M309.6 85.1l2.9 .9 1.4-1.4-2.9-.9z"/>
<path class="kc" d="M240.7 72.8l2.7 .8 1.5-1.3-2.7-.8z"/>
<path class="kc" d="M243.3 73l2.7 .8 1.6-1.3-2.7-.8z"/>
<path class="kb" d="M248.8 75.2l1.5-1.3 0-3.1-1.6 1.3z"/>
<path class="kc" d="M246 71.4l2.7 .7 1.6-1.3-2.8-.8z"/>
<path class="kc" d="M248.8 75.2l2.7 .8 1.5-1.3-2.7-.8z"/>
<path class="kb" d="M254.2 75.5l1.5-1.4 0-2.2-1.5 1.4z"/>
<path class="kc" d="M251.4 72.5l2.8 .8 1.5-1.4-2.7-.8z"/>
<path class="kc" d="M254.2 75.5l2.7 .8 1.6-1.4-2.8-.8z"/>
<path class="ka" d="M256.9 74.8l2.8 .8-.1-6.7-2.8-.8z"/>
<path class="kb" d="M259.7 73.6l1.5-1.3-.1-4.7-1.5 1.3z"/>
<path class="kc" d="M256.8 68.1l2.8 .8 1.5-1.3-2.7-.8z"/>
<path class="kc" d="M259.7 73.6l2.7 .8 1.6-1.3-2.8-.8z"/>
<path class="ka" d="M262.4 74.3l2.8 .8 0-3.7-2.8-.8z"/>
<path class="kb" d="M265.2 74.3l1.5-1.3 0-2.9-1.5 1.3z"/>
<path class="kc" d="M262.4 70.6l2.8 .8 1.5-1.3-2.8-.8z"/>
<path class="kb" d="M268 76.5l1.5-1.3 0-1.4-1.5 1.3z"/>
<path class="kc" d="M265.2 74.3l2.8 .8 1.5-1.3-2.8-.8z"/>
<path class="kb" d="M270.8 78.9l1.5-1.3 0-1.6-1.5 1.3z"/>
<path class="kc" d="M268 76.5l2.8 .8 1.5-1.3-2.8-.8z"/>
<path class="kb" d="M273.6 80l1.5-1.3 0-.3-1.5 1.3z"/>
<path class="kc" d="M270.8 78.9l2.8 .8 1.5-1.3-2.8-.8z"/>
<path class="kc" d="M273.6 80l2.8 .9 1.5-1.4-2.8-.8z"/>
<path class="ka" d="M276.4 80l2.9 .8 0-3.1-2.9-.8z"/>
<path class="kb" d="M279.3 79.8l1.4-1.4 .1-2-1.5 1.3z"/>
<path class="kc" d="M276.4 76.9l2.9 .8 1.5-1.3-2.9-.8z"/>
<path class="kb" d="M282.1 82.3l1.5-1.3 0-1.8-1.5 1.4z"/>
<path class="kc" d="M279.3 79.8l2.8 .8 1.5-1.4-2.9-.8z"/>
<path class="kc" d="M282.1 82.3l2.8 .9 1.5-1.4-2.8-.8z"/>
<path class="ka" d="M285 79.8l2.8 .8 .1-2.9-2.9-.9z"/>
<path class="kb" d="M287.9 77.9l1.4-1.4 0-.2-1.4 1.4z"/>
<path class="kc" d="M285 76.8l2.9 .9 1.4-1.4-2.8-.8z"/>
<path class="kc" d="M287.9 77.9l2.8 .8 1.5-1.4-2.9-.8z"/>
<path class="ka" d="M290.7 83.6l2.9 .8 .1-7.4-2.9-.8z"/>
<path class="kb" d="M293.7 77.1l1.4-1.4 0-.1-1.4 1.4z"/>
<path class="kc" d="M290.8 76.2l2.9 .8 1.4-1.4-2.9-.8z"/>
<path class="ka" d="M293.6 82.4l2.9 .9 .1-5.4-2.9-.8z"/>
<path class="kb" d="M296.5 83.3l1.4-1.4 .1-5.4-1.4 1.4z"/>
<path class="kc" d="M293.7 77.1l2.9 .8 1.4-1.4-2.9-.8z"/>
<path class="ka" d="M296.4 86.2l2.9 .8 .1-2.8-2.9-.9z"/>
<path class="kc" d="M296.5 83.3l2.9 .9 1.4-1.4-2.9-.9z"/>
<path class="ka" d="M299.3 86l2.9 .9 .2-6.7-2.9-.9z"/>
<path class="kb" d="M302.3 85.8l1.4-1.4 .1-5.6-1.4 1.4z"/>
<path class="kc" d="M299.5 79.3l2.9 .9 1.4-1.4-2.9-.9z"/>
<path class="ka" d="M302.2 88.1l2.9 .9 .1-2.3-2.9-.9z"/>
<path class="kc" d="M302.3 85.8l2.9 .9 1.4-1.4-2.9-.9z"/>
<path class="ka" d="M305.2 88.1l2.9 .8 .1-3-3-.8z"/>
<path class="kb" d="M308.2 86.7l1.4-1.5 0-.7-1.4 1.4z"/>
<path class="kc" d="M305.2 85.1l3 .8 1.4-1.4-2.9-.9z"/>
<path class="kb" d="M310.9 95.6l1.4-1.4 .2-8.1-1.4 1.4z"/>
<path class="kc" d="M308.2 86.7l2.9 .8 1.4-1.4-2.9-.9z"/>
<path class="ka" d="M239 71.5l2.7 .8-.1-4.8-2.7-.8z"/>
<path class="kb" d="M241.6 68.7l1.6-1.3 0-1.2-1.6 1.3z"/>
<path class="kc" d="M238.9 66.7l2.7 .8 1.6-1.3-2.7-.8z"/>
<path class="ka" d="M241.7 70l2.7 .7 0-1.2-2.8-.8z"/>
<path class="kb" d="M244.4 71.6l1.6-1.3-.1-2.1-1.5 1.3z"/>
<path class="kc" d="M241.6 68.7l2.8 .8 1.5-1.3-2.7-.8z"/>
<path class="ka" d="M244.5 75.7l2.7 .8-.1-4.1-2.7-.8z"/>
<path class="kb" d="M247.2 76.1l1.6-1.4-.1-3.6-1.6 1.3z"/>
<path class="kc" d="M244.4 71.6l2.7 .8 1.6-1.3-2.7-.8z"/>
<path class="kc" d="M247.2 76.1l2.7 .8 1.6-1.4-2.7-.8z"/>
<path class="ka" d="M250 77.3l2.7 .8-.1-4.9-2.7-.8z"/>
<path class="kb" d="M252.6 75l1.6-1.4 0-1.7-1.6 1.3z"/>
<path class="kc" d="M249.9 72.4l2.7 .8 1.6-1.3-2.8-.8z"/>
<path class="ka" d="M252.7 76.8l2.7 .8 0-1.8-2.8-.8z"/>
<path class="kb" d="M255.4 76.1l1.5-1.3 0-.4-1.5 1.4z"/>
<path class="kc" d="M252.6 75l2.8 .8 1.5-1.4-2.7-.8z"/>
<path class="ka" d="M255.4 76.7l2.8 .8 0-.6-2.8-.8z"/>
<path class="kc" d="M255.4 76.1l2.8 .8 1.5-1.3-2.8-.8z"/>
<path class="ka" d="M258.2 77.8l2.7 .8 0-4.6-2.8-.8z"/>
<path class="kb" d="M260.9 75.7l1.5-1.4 0-1.6-1.5 1.3z"/>
<path class="kc" d="M258.1 73.2l2.8 .8 1.5-1.3-2.8-.8z"/>
<path class="ka" d="M260.9 76.4l2.8 .8 0-.7-2.8-.8z"/>
<path class="kc" d="M260.9 75.7l2.8 .8 1.5-1.4-2.8-.8z"/>
<path class="ka" d="M263.7 75.3l2.8 .8 0-2.1-2.8-.8z"/>
<path class="kb" d="M266.5 75.7l1.5-1.4 0-1.7-1.5 1.4z"/>
<path class="kc" d="M263.7 73.2l2.8 .8 1.5-1.4-2.8-.8z"/>
<path class="ka" d="M266.5 79.2l2.8 .9 0-3.6-2.8-.8z"/>
<path class="kc" d="M266.5 75.7l2.8 .8 1.5-1.4-2.8-.8z"/>
<path class="ka" d="M269.3 76.9l2.8 .8 0-3.9-2.8-.8z"/>
<path class="kb" d="M272.1 75.6l1.5-1.3 0-1.9-1.5 1.4z"/>
<path class="kc" d="M269.3 73l2.8 .8 1.5-1.4-2.8-.8z"/>
<path class="ka" d="M272.1 78.7l2.8 .9 0-3.2-2.8-.8z"/>
<path class="kb" d="M274.9 81.4l1.5-1.4 0-4.9-1.5 1.3z"/>
<path class="kc" d="M272.1 75.6l2.8 .8 1.5-1.3-2.8-.8z"/>
<path class="ka" d="M274.9 82l2.9 .8 0-.6-2.9-.8z"/>
<path class="kc" d="M274.9 81.4l2.9 .8 1.5-1.4-2.9-.8z"/>
<path class="kb" d="M280.6 80.5l1.5-1.4 0-1.2-1.5 1.4z"/>
<path class="kc" d="M277.8 78.5l2.8 .8 1.5-1.4-2.8-.8z"/>
<path class="kc" d="M280.6 80.5l2.9 .8 1.5-1.4-2.9-.8z"/>
<path class="kc" d="M283.5 81.2l2.8 .8 1.5-1.4-2.8-.8z"/>
<path class="ka" d="M286.4 81.7l2.8 .8 .1-4-2.9-.8z"/>
<path class="kb" d="M289.2 85l1.5-1.4 .1-6.5-1.5 1.4z"/>
<path class="kc" d="M286.4 77.7l2.9 .8 1.5-1.4-2.9-.8z"/>
<path class="kc" d="M289.2 85l2.9 .8 1.5-1.4-2.9-.8z"/>
<path class="ka" d="M292.1 83.9l2.9 .8 0 0-2.9-.9z"/>
<path class="kb" d="M295 87.6l1.4-1.4 .1-2.9-1.5 1.4z"/>
<path class="kc" d="M292.1 83.8l2.9 .9 1.5-1.4-2.9-.9z"/>
<path class="kc" d="M295 87.6l2.9 .8 1.4-1.4-2.9-.8z"/>
<path class="ka" d="M297.9 89.1l2.9 .8 0-1.6-2.9-.9z"/>
<path class="kb" d="M300.8 89.6l1.4-1.5 0-1.2-1.4 1.4z"/>
<path class="kc" d="M297.9 87.4l2.9 .9 1.4-1.4-2.9-.9z"/>
<path class="kc" d="M300.8 89.6l2.9 .8 1.4-1.4-2.9-.9z"/>
<path class="ka" d="M303.7 90.9l2.9 .9 .1-1.5-3-.8z"/>
<path class="kc" d="M303.7 89.5l3 .8 1.4-1.4-2.9-.8z"/>
<path class="kb" d="M309.5 97.1l1.4-1.5 .2-9.7-1.4 1.4z"/>
<path class="kc" d="M306.8 86.4l2.9 .9 1.4-1.4-2.9-.9z"/>
<path class="ka" d="M237.5 74.2l2.7 .8 0-1.4-2.7-.8z"/>
<path class="kc" d="M237.5 72.8l2.7 .8 1.5-1.3-2.7-.8z"/>
<path class="ka" d="M240.2 75.7l2.7 .8-.1-4.4-2.7-.8z"/>
<path class="kb" d="M242.9 77.1l1.6-1.4-.1-5-1.6 1.4z"/>
<path class="kc" d="M240.1 71.3l2.7 .8 1.6-1.4-2.7-.7z"/>
<path class="kc" d="M242.9 77.1l2.8 .8 1.5-1.4-2.7-.8z"/>
<path class="ka" d="M245.6 76.1l2.8 .8-.1-1.6-2.7-.8z"/>
<path class="kb" d="M248.4 78.7l1.6-1.4-.1-3.3-1.6 1.3z"/>
<path class="kc" d="M245.6 74.5l2.7 .8 1.6-1.3-2.7-.8z"/>
<path class="kc" d="M248.4 78.7l2.7 .8 1.6-1.4-2.7-.8z"/>
<path class="kc" d="M251.1 78.1l2.8 .8 1.5-1.3-2.7-.8z"/>
<path class="kb" d="M256.6 79.1l1.6-1.3 0-.3-1.6 1.3z"/>
<path class="kc" d="M253.9 78l2.7 .8 1.6-1.3-2.8-.8z"/>
<path class="kc" d="M256.6 79.1l2.8 .8 1.5-1.3-2.7-.8z"/>
<path class="kc" d="M259.4 77.7l2.8 .8 1.5-1.3-2.8-.8z"/>
<path class="kb" d="M265 80.6l1.5-1.4 0-3.1-1.5 1.4z"/>
<path class="kc" d="M262.2 76.6l2.8 .9 1.5-1.4-2.8-.8z"/>
<path class="kc" d="M265 80.6l2.8 .8 1.5-1.3-2.8-.9z"/>
<path class="ka" d="M267.8 80.5l2.8 .8 0-2.2-2.8-.8z"/>
<path class="kb" d="M270.6 80.1l1.5-1.4 0-1-1.5 1.4z"/>
<path class="kc" d="M267.8 78.3l2.8 .8 1.5-1.4-2.8-.8z"/>
<path class="kb" d="M273.4 83.3l1.5-1.3 0-2.4-1.5 1.3z"/>
<path class="kc" d="M270.6 80.1l2.8 .8 1.5-1.3-2.8-.9z"/>
<path class="kc" d="M273.4 83.3l2.9 .9 1.5-1.4-2.9-.8z"/>
<path class="ka" d="M276.3 84.2l2.8 .8 0-5.7-2.8-.8z"/>
<path class="kb" d="M279.1 81.4l1.5-1.3 0-2.1-1.5 1.3z"/>
<path class="kc" d="M276.3 78.5l2.8 .8 1.5-1.3-2.8-.9z"/>
<path class="ka" d="M279.1 82.8l2.9 .9 0-1.4-2.9-.9z"/>
<path class="kc" d="M279.1 81.4l2.9 .9 1.5-1.4-2.9-.8z"/>
<path class="kb" d="M284.9 83.1l1.5-1.4 0-1.6-1.5 1.4z"/>
<path class="kc" d="M282 80.7l2.9 .8 1.5-1.4-2.9-.8z"/>
<path class="kc" d="M284.9 83.1l2.9 .8 1.4-1.4-2.8-.8z"/>
<path class="ka" d="M287.8 80.4l2.9 .8 0-.8-2.9-.9z"/>
<path class="kb" d="M290.6 85.3l1.5-1.4 .1-4.9-1.5 1.4z"/>
<path class="kc" d="M287.8 79.5l2.9 .9 1.5-1.4-2.9-.8z"/>
<path class="kc" d="M290.6 85.3l2.9 .8 1.5-1.4-2.9-.8z"/>
<path class="ka" d="M293.6 85.2l2.9 .8 0-2.2-2.9-.9z"/>
<path class="kb" d="M296.4 90.5l1.5-1.4 .1-6.7-1.5 1.4z"/>
<path class="kc" d="M293.6 82.9l2.9 .9 1.5-1.4-2.9-.9z"/>
<path class="ka" d="M296.4 91.4l2.9 .9 0-.9-2.9-.9z"/>
<path class="kc" d="M296.4 90.5l2.9 .9 1.5-1.5-2.9-.8z"/>
<path class="kb" d="M302.2 92.3l1.5-1.4 0-.5-1.4 1.4z"/>
<path class="kc" d="M299.3 91l3 .8 1.4-1.4-2.9-.9z"/>
<path class="kc" d="M302.2 92.3l3 .9 1.4-1.4-2.9-.9z"/>
<path class="kb" d="M308 98.5l1.5-1.4 .2-10.9-1.4 1.5z"/>
<path class="kc" d="M305.3 86.8l3 .9 1.4-1.5-2.9-.8z"/>
<path class="ka" d="M235.9 76.8l2.8 .8-.1-1.2-2.7-.8z"/>
<path class="kb" d="M238.6 77.1l1.6-1.4 0-.7-1.6 1.4z"/>
<path class="kc" d="M235.9 75.6l2.7 .8 1.6-1.4-2.7-.8z"/>
<path class="kc" d="M238.6 77.1l2.8 .8 1.5-1.4-2.7-.8z"/>
<path class="ka" d="M241.3 76.7l2.8 .8-.1-4.3-2.8-.8z"/>
<path class="kb" d="M244.1 77.5l1.5-1.4-.1-4.3-1.5 1.4z"/>
<path class="kc" d="M241.2 72.4l2.8 .8 1.5-1.4-2.7-.8z"/>
<path class="ka" d="M244.1 79.2l2.7 .8 0-1.7-2.7-.8z"/>
<path class="kb" d="M246.8 78.6l1.6-1.4 0-.3-1.6 1.4z"/>
<path class="kc" d="M244.1 77.5l2.7 .8 1.6-1.4-2.8-.8z"/>
<path class="kc" d="M246.8 78.6l2.8 .8 1.5-1.4-2.7-.8z"/>
<path class="ka" d="M249.5 77.2l2.8 .8 0-.4-2.8-.8z"/>
<path class="kb" d="M252.3 78.5l1.5-1.4 0-.8-1.5 1.3z"/>
<path class="kc" d="M249.5 76.8l2.8 .8 1.5-1.3-2.7-.8z"/>
<path class="kc" d="M252.3 78.5l2.8 .8 1.5-1.4-2.8-.8z"/>
<path class="ka" d="M255 74.7l2.8 .8 0-2-2.8-.8z"/>
<path class="kb" d="M257.8 73.6l1.5-1.3 0-.1-1.5 1.3z"/>
<path class="kc" d="M255 72.7l2.8 .8 1.5-1.3-2.8-.8z"/>
<path class="ka" d="M257.8 79l2.8 .8 0-5.4-2.8-.8z"/>
<path class="kb" d="M260.6 76.7l1.5-1.3 0-2.3-1.5 1.3z"/>
<path class="kc" d="M257.8 73.6l2.8 .8 1.5-1.3-2.8-.8z"/>
<path class="ka" d="M260.6 77.8l2.8 .9 0-1.1-2.8-.9z"/>
<path class="kc" d="M260.6 76.7l2.8 .9 1.5-1.4-2.8-.8z"/>
<path class="kb" d="M266.3 81.9l1.5-1.4 0-3.7-1.6 1.3z"/>
<path class="kc" d="M263.4 77.3l2.8 .8 1.6-1.3-2.9-.8z"/>
<path class="kc" d="M266.3 81.9l2.8 .8 1.5-1.4-2.8-.8z"/>
<path class="kc" d="M269.1 77.8l2.8 .9 1.5-1.4-2.8-.8z"/>
<path class="ka" d="M271.9 81.5l2.9 .8 0-3.9-2.9-.8z"/>
<path class="kb" d="M274.8 85.6l1.5-1.4 0-7.2-1.5 1.4z"/>
<path class="kc" d="M271.9 77.6l2.9 .8 1.5-1.4-2.9-.8z"/>
<path class="kc" d="M274.8 85.6l2.8 .8 1.5-1.4-2.8-.8z"/>
<path class="kc" d="M277.6 84.2l2.9 .9 1.5-1.4-2.9-.9z"/>
<path class="ka" d="M280.5 84l2.9 .8 0-4.1-2.9-.8z"/>
<path class="kc" d="M280.5 79.9l2.9 .8 1.5-1.4-2.9-.8z"/>
<path class="ka" d="M283.4 82.6l2.9 .8 0-2-2.9-.9z"/>
<path class="kb" d="M286.3 81.8l1.5-1.4 0-.4-1.5 1.4z"/>
<path class="kc" d="M283.4 80.5l2.9 .9 1.5-1.4-2.9-.9z"/>
<path class="ka" d="M286.3 82l2.9 .9 0-.3-2.9-.8z"/>
<path class="kc" d="M286.3 81.8l2.9 .8 1.5-1.4-2.9-.8z"/>
<path class="ka" d="M289.2 86.6l2.9 .9 0-4.4-2.9-.9z"/>
<path class="kb" d="M292.1 86.6l1.5-1.4 0-3.5-1.5 1.4z"/>
<path class="kc" d="M289.2 82.2l2.9 .9 1.5-1.4-2.9-.9z"/>
<path class="kb" d="M294.9 92.9l1.5-1.5 .1-5.4-1.5 1.4z"/>
<path class="kc" d="M292.1 86.6l2.9 .8 1.5-1.4-2.9-.8z"/>
<path class="kc" d="M294.9 92.9l2.9 .8 1.5-1.4-2.9-.9z"/>
<path class="ka" d="M297.9 88.6l3 .9 0-3.1-2.9-.9z"/>
<path class="kb" d="M300.9 87.6l1.5-1.5 0-1.2-1.5 1.5z"/>
<path class="kc" d="M298 85.5l2.9 .9 1.5-1.5-2.9-.8z"/>
<path class="ka" d="M300.8 91.3l3 .9 .1-3.8-3-.8z"/>
<path class="kc" d="M300.9 87.6l3 .8 1.4-1.4-2.9-.9z"/>
<path class="ka" d="M303.9 87.9l3 .9 0-2.7-2.9-.8z"/>
<path class="kb" d="M306.6 100l1.4-1.5 .4-13.8-1.5 1.4z"/>
<path class="kc" d="M304 85.3l2.9 .8 1.5-1.4-3-.9z"/>
<path class="kc" d="M234.4 78.2l2.7 .8 1.6-1.4-2.8-.8z"/>
<path class="ka" d="M237.1 79l2.7 .8-.2-6.6-2.7-.8z"/>
<path class="kb" d="M239.8 78l1.5-1.3-.1-4.8-1.6 1.3z"/>
<path class="kc" d="M236.9 72.4l2.7 .8 1.6-1.3-2.7-.8z"/>
<path class="kb" d="M242.5 80.6l1.6-1.4 0-1.7-1.6 1.3z"/>
<path class="kc" d="M239.8 78l2.7 .8 1.6-1.3-2.8-.8z"/>
<path class="kc" d="M242.5 80.6l2.8 .8 1.5-1.4-2.7-.8z"/>
<path class="ka" d="M245.3 80.5l2.7 .8-.1-4.6-2.7-.8z"/>
<path class="kb" d="M248 78.5l1.5-1.3 0-1.9-1.6 1.4z"/>
<path class="kc" d="M245.2 75.9l2.7 .8 1.6-1.4-2.8-.8z"/>
<path class="ka" d="M248 82.2l2.8 .8-.1-3.7-2.7-.8z"/>
<path class="kc" d="M248 78.5l2.7 .8 1.6-1.3-2.8-.8z"/>
<path class="ka" d="M250.8 81.1l2.7 .8 0-4.3-2.8-.9z"/>
<path class="kc" d="M250.7 76.7l2.8 .9 1.5-1.4-2.8-.8z"/>
<path class="ka" d="M253.5 77.2l2.8 .8-.1-1.1-2.8-.9z"/>
<path class="kb" d="M256.3 80.4l1.5-1.4 0-3.5-1.6 1.4z"/>
<path class="kc" d="M253.4 76l2.8 .9 1.6-1.4-2.8-.8z"/>
<path class="kc" d="M256.3 80.4l2.8 .8 1.5-1.4-2.8-.8z"/>
<path class="ka" d="M259.1 80.5l2.8 .8 0-1.3-2.8-.8z"/>
<path class="kc" d="M259.1 79.2l2.8 .8 1.5-1.3-2.8-.9z"/>
<path class="ka" d="M261.9 77.2l2.8 .8 0-.6-2.9-.8z"/>
<path class="kb" d="M264.7 77.9l1.5-1.3 0-.6-1.5 1.4z"/>
<path class="kc" d="M261.8 76.6l2.9 .8 1.5-1.4-2.8-.8z"/>
<path class="ka" d="M264.7 83.7l2.9 .8-.1-5.7-2.8-.9z"/>
<path class="kc" d="M264.7 77.9l2.8 .9 1.6-1.4-2.9-.8z"/>
<path class="ka" d="M267.6 85l2.8 .8 0-8.4-2.9-.8z"/>
<path class="kb" d="M270.4 82.8l1.5-1.3 0-5.4-1.5 1.3z"/>
<path class="kc" d="M267.5 76.6l2.9 .8 1.5-1.3-2.8-.9z"/>
<path class="ka" d="M270.4 83.5l2.8 .8 0-.6-2.8-.9z"/>
<path class="kb" d="M273.2 85l1.6-1.4 0-1.3-1.6 1.4z"/>
<path class="kc" d="M270.4 82.8l2.8 .9 1.6-1.4-2.9-.8z"/>
<path class="kc" d="M273.2 85l2.9 .8 1.5-1.4-2.8-.8z"/>
<path class="ka" d="M276.1 83.1l2.9 .9 0-2.2-2.9-.9z"/>
<path class="kb" d="M279 85.4l1.5-1.4 0-3.6-1.5 1.4z"/>
<path class="kc" d="M276.1 80.9l2.9 .9 1.5-1.4-2.9-.9z"/>
<path class="kc" d="M279 85.4l2.9 .8 1.5-1.4-2.9-.8z"/>
<path class="kc" d="M281.9 84l2.9 .8 1.5-1.4-2.9-.8z"/>
<path class="ka" d="M284.8 88.2l2.9 .8 0-4.7-2.9-.8z"/>
<path class="kb" d="M287.7 88.1l1.5-1.5 0-3.7-1.5 1.4z"/>
<path class="kc" d="M284.8 83.5l2.9 .8 1.5-1.4-2.9-.9z"/>
<path class="ka" d="M287.7 88.9l2.9 .9 0-.9-2.9-.8z"/>
<path class="kc" d="M287.7 88.1l2.9 .8 1.5-1.4-2.9-.9z"/>
<path class="ka" d="M290.5 93.4l3 .8 0-5.4-2.9-.8z"/>
<path class="kc" d="M290.6 88l2.9 .8 1.5-1.4-2.9-.8z"/>
<path class="ka" d="M293.5 91.8l2.9 .8 .1-6.6-2.9-.9z"/>
<path class="kb" d="M296.5 90l1.4-1.4 .1-4.1-1.5 1.5z"/>
<path class="kc" d="M293.6 85.1l2.9 .9 1.5-1.5-2.9-.8z"/>
<path class="ka" d="M296.4 92.3l3 .8 0-2.2-2.9-.9z"/>
<path class="kb" d="M299.4 92.8l1.4-1.5 .1-1.8-1.5 1.4z"/>
<path class="kc" d="M296.5 90l2.9 .9 1.5-1.4-3-.9z"/>
<path class="kc" d="M299.4 92.8l2.9 .9 1.5-1.5-3-.9z"/>
<path class="ka" d="M302.4 89.4l3 .9 0-.1-3-.8z"/>
<path class="kb" d="M305.1 101.4l1.5-1.4 .3-11.2-1.5 1.4z"/>
<path class="kc" d="M302.4 89.4l3 .8 1.5-1.4-3-.9z"/>
<path class="kc" d="M232.8 79.5l2.7 .8 1.6-1.3-2.7-.8z"/>
<path class="kc" d="M235.5 80.3l2.7 .8 1.6-1.3-2.7-.8z"/>
<path class="ka" d="M238.2 81.1l2.7 .8 0-1.8-2.7-.8z"/>
<path class="kb" d="M240.9 81.9l1.6-1.3 0-1.9-1.6 1.4z"/>
<path class="kc" d="M238.2 79.3l2.7 .8 1.6-1.4-2.7-.8z"/>
<path class="kc" d="M240.9 81.9l2.8 .9 1.6-1.4-2.8-.8z"/>
<path class="ka" d="M243.7 82l2.7 .9 0-.2-2.7-.8z"/>
<path class="kb" d="M246.5 83.6l1.5-1.4 0-.9-1.6 1.4z"/>
<path class="kc" d="M243.7 81.9l2.7 .8 1.6-1.4-2.7-.8z"/>
<path class="kc" d="M246.5 83.6l2.7 .8 1.6-1.4-2.8-.8z"/>
<path class="ka" d="M249.2 82.6l2.8 .8 0-.2-2.8-.8z"/>
<path class="kc" d="M249.2 82.4l2.8 .8 1.5-1.3-2.7-.8z"/>
<path class="ka" d="M252 83.2l2.8 .8-.1-4.6-2.8-.8z"/>
<path class="kc" d="M251.9 78.6l2.8 .8 1.6-1.4-2.8-.8z"/>
<path class="ka" d="M254.7 77.3l2.8 .8 0-1.7-2.9-.8z"/>
<path class="kb" d="M257.5 81.9l1.6-1.4-.1-5.5-1.5 1.4z"/>
<path class="kc" d="M254.6 75.6l2.9 .8 1.5-1.4-2.8-.8z"/>
<path class="kc" d="M257.5 81.9l2.8 .8 1.6-1.4-2.8-.8z"/>
<path class="ka" d="M260.3 83.9l2.9 .8-.1-5.3-2.8-.9z"/>
<path class="kb" d="M263.2 85.1l1.5-1.4 0-5.7-1.6 1.4z"/>
<path class="kc" d="M260.3 78.5l2.8 .9 1.6-1.4-2.8-.8z"/>
<path class="kb" d="M266 86.4l1.6-1.4 0-.5-1.6 1.4z"/>
<path class="kc" d="M263.2 85.1l2.8 .8 1.6-1.4-2.9-.8z"/>
<path class="kc" d="M266 86.4l2.9 .8 1.5-1.4-2.8-.8z"/>
<path class="kc" d="M268.9 84.9l2.8 .8 1.5-1.4-2.8-.8z"/>
<path class="kc" d="M271.7 85l2.9 .9 1.5-1.5-2.9-.8z"/>
<path class="ka" d="M274.6 85l2.9 .9 0-.5-2.9-.9z"/>
<path class="kb" d="M277.5 86l1.5-1.4 0-.6-1.5 1.4z"/>
<path class="kc" d="M274.6 84.5l2.9 .9 1.5-1.4-2.9-.9z"/>
<path class="ka" d="M277.5 88.1l2.8 .9 .1-2.2-2.9-.8z"/>
<path class="kc" d="M277.5 86l2.9 .8 1.5-1.4-2.9-.8z"/>
<path class="ka" d="M280.4 87.3l2.9 .8 0-3.2-2.9-.8z"/>
<path class="kb" d="M283.3 89.6l1.5-1.4 0-4.7-1.5 1.4z"/>
<path class="kc" d="M280.4 84.1l2.9 .8 1.5-1.4-2.9-.9z"/>
<path class="kc" d="M283.3 89.6l2.9 .9 1.5-1.5-2.9-.8z"/>
<path class="ka" d="M286.1 93.1l3 .9 0-2.8-2.9-.8z"/>
<path class="kb" d="M289 94.8l1.5-1.4 .1-3.6-1.5 1.4z"/>
<path class="kc" d="M286.2 90.4l2.9 .8 1.5-1.4-2.9-.9z"/>
<path class="kc" d="M289 94.8l3 .9 1.5-1.5-3-.8z"/>
<path class="kc" d="M292 93.2l2.9 .9 1.5-1.5-2.9-.8z"/>
<path class="kc" d="M294.9 93.7l3 .9 1.5-1.5-3-.8z"/>
<path class="kc" d="M298 91.3l2.9 .8 1.5-1.4-3-.9z"/>
<path class="kb" d="M303.7 102.9l1.4-1.5 .3-11.1-1.5 1.5z"/>
<path class="kc" d="M301 90.9l2.9 .9 1.5-1.5-3-.9z"/>
<path class="kb" d="M233.9 81.7l1.6-1.4 0-.1-1.6 1.4z"/>
<path class="kc" d="M231.2 80.8l2.7 .8 1.6-1.4-2.7-.8z"/>
<path class="kc" d="M233.9 81.7l2.7 .8 1.6-1.4-2.7-.8z"/>
<path class="kc" d="M236.6 82.5l2.8 .8 1.5-1.4-2.7-.8z"/>
<path class="kc" d="M239.4 83.2l2.7 .8 1.6-1.4-2.8-.8z"/>
<path class="kc" d="M242.1 83.4l2.8 .8 1.5-1.3-2.7-.9z"/>
<path class="ka" d="M244.7 77.2l2.8 .8 0-.5-2.8-.8z"/>
<path class="kb" d="M247.6 84l1.6-1.4-.1-6.5-1.6 1.4z"/>
<path class="kc" d="M244.7 76.7l2.8 .8 1.6-1.4-2.8-.8z"/>
<path class="kc" d="M247.6 84l2.8 .8 1.6-1.4-2.8-.8z"/>
<path class="kc" d="M250.4 84.5l2.8 .9 1.6-1.4-2.8-.8z"/>
<path class="kc" d="M253.1 78.7l2.8 .8 1.6-1.4-2.8-.8z"/>
<path class="ka" d="M255.9 80.1l2.8 .8 0-.6-2.8-.8z"/>
<path class="kb" d="M258.8 85.3l1.5-1.4 0-5-1.6 1.4z"/>
<path class="kc" d="M255.9 79.5l2.8 .8 1.6-1.4-2.8-.8z"/>
<path class="kc" d="M258.8 85.3l2.8 .8 1.6-1.4-2.9-.8z"/>
<path class="ka" d="M261.6 86.2l2.9 .9-.1-5.6-2.8-.8z"/>
<path class="kc" d="M261.6 80.7l2.8 .8 1.6-1.4-2.9-.8z"/>
<path class="ka" d="M264.4 83l2.9 .8 0-1.8-2.9-.9z"/>
<path class="kb" d="M267.3 84l1.5-1.4 0-2-1.5 1.4z"/>
<path class="kc" d="M264.4 81.1l2.9 .9 1.5-1.4-2.8-.9z"/>
<path class="ka" d="M267.3 88.3l2.9 .9 0-4.3-2.9-.9z"/>
<path class="kc" d="M267.3 84l2.9 .9 1.5-1.4-2.9-.9z"/>
<path class="kb" d="M273 86.5l1.6-1.5 0-3.3-1.6 1.4z"/>
<path class="kc" d="M270.2 82.3l2.8 .8 1.6-1.4-2.9-.8z"/>
<path class="kb" d="M275.9 89.6l1.6-1.5 0-2.2-1.6 1.4z"/>
<path class="kc" d="M273 86.5l2.9 .8 1.6-1.4-2.9-.9z"/>
<path class="kc" d="M275.9 89.6l2.9 .8 1.5-1.4-2.8-.9z"/>
<path class="kc" d="M278.8 88.7l2.9 .9 1.6-1.5-2.9-.8z"/>
<path class="ka" d="M281.7 93.2l2.9 .9 .1-5.2-2.9-.9z"/>
<path class="kb" d="M284.6 94.6l1.5-1.5 .1-5.7-1.5 1.5z"/>
<path class="kc" d="M281.8 88l2.9 .9 1.5-1.5-2.9-.8z"/>
<path class="kc" d="M284.6 94.6l3 .9 1.5-1.5-3-.9z"/>
<path class="ka" d="M287.6 87.5l3 .9 0-.6-3-.8z"/>
<path class="kb" d="M290.6 87.9l1.5-1.4 0-.1-1.5 1.4z"/>
<path class="kc" d="M287.6 87l3 .8 1.5-1.4-3-.9z"/>
<path class="ka" d="M290.5 92l3 .8 .1-4-3-.9z"/>
<path class="kb" d="M293.5 91.9l1.5-1.4 0-3.2-1.4 1.5z"/>
<path class="kc" d="M290.6 87.9l3 .9 1.4-1.5-2.9-.8z"/>
<path class="kc" d="M293.5 91.9l3 .9 1.5-1.5-3-.8z"/>
<path class="kb" d="M299.5 92l1.5-1.5 0 0-1.5 1.4z"/>
<path class="kc" d="M296.5 91.1l3 .8 1.5-1.4-3-.9z"/>
<path class="kb" d="M302.2 104.4l1.5-1.5 .3-11.5-1.5 1.4z"/>
<path class="kc" d="M299.5 92l3 .8 1.5-1.4-3-.9z"/>
<path class="kb" d="M232.3 83.1l1.6-1.4-.1-1.3-1.6 1.3z"/>
<path class="kc" d="M229.5 80.9l2.7 .8 1.6-1.3-2.7-.8z"/>
<path class="kc" d="M232.3 83.1l2.7 .8 1.6-1.4-2.7-.8z"/>
<path class="kc" d="M235 82.5l2.7 .9 1.6-1.4-2.7-.8z"/>
<path class="ka" d="M237.6 79.5l2.8 .8-.1-1.5-2.7-.8z"/>
<path class="kb" d="M240.4 81.6l1.6-1.4-.1-2.7-1.6 1.3z"/>
<path class="kc" d="M237.6 78l2.7 .8 1.6-1.3-2.7-.8z"/>
<path class="kc" d="M240.4 81.6l2.8 .8 1.6-1.4-2.8-.8z"/>
<path class="ka" d="M243.2 83.9l2.8 .8-.1-5.3-2.8-.8z"/>
<path class="kc" d="M243.1 78.6l2.8 .8 1.6-1.4-2.8-.8z"/>
<path class="ka" d="M245.9 79.9l2.8 .8 0-.6-2.8-.8z"/>
<path class="kb" d="M248.8 84.4l1.6-1.4-.1-4.3-1.6 1.4z"/>
<path class="kc" d="M245.9 79.3l2.8 .8 1.6-1.4-2.8-.8z"/>
<path class="kc" d="M248.8 84.4l2.8 .8 1.6-1.4-2.8-.8z"/>
<path class="ka" d="M251.5 82.8l2.9 .9-.1-5.2-2.8-.8z"/>
<path class="kb" d="M254.3 81.5l1.6-1.4 0-3-1.6 1.4z"/>
<path class="kc" d="M251.5 77.7l2.8 .8 1.6-1.4-2.9-.8z"/>
<path class="kc" d="M254.3 81.5l2.9 .8 1.5-1.4-2.8-.8z"/>
<path class="ka" d="M257.2 85.6l2.8 .9 0-5.5-2.9-.8z"/>
<path class="kb" d="M260.1 87.6l1.5-1.4 0-6.6-1.6 1.4z"/>
<path class="kc" d="M257.1 80.2l2.9 .8 1.6-1.4-2.9-.8z"/>
<path class="kc" d="M260.1 87.6l2.8 .9 1.6-1.4-2.9-.9z"/>
<path class="ka" d="M262.9 84.4l2.8 .9 0-.1-2.8-.8z"/>
<path class="kb" d="M265.8 89.7l1.5-1.4 0-4.5-1.6 1.4z"/>
<path class="kc" d="M262.9 84.4l2.8 .8 1.6-1.4-2.9-.8z"/>
<path class="ka" d="M265.8 90.5l2.8 .9 0-.8-2.8-.9z"/>
<path class="kc" d="M265.8 89.7l2.8 .9 1.6-1.4-2.9-.9z"/>
<path class="ka" d="M268.6 84.3l2.9 .9 0-1.8-2.9-.8z"/>
<path class="kb" d="M271.5 86.3l1.5-1.4 0-2.9-1.5 1.4z"/>
<path class="kc" d="M268.6 82.6l2.9 .8 1.5-1.4-2.8-.8z"/>
<path class="ka" d="M271.5 89.4l2.9 .8 0-3.1-2.9-.8z"/>
<path class="kc" d="M271.5 86.3l2.9 .8 1.5-1.4-2.9-.8z"/>
<path class="kc" d="M274.4 86.4l2.9 .9 1.5-1.5-2.9-.8z"/>
<path class="ka" d="M277.3 87.5l2.9 .8 0-2.1-2.9-.9z"/>
<path class="kb" d="M280.2 94.7l1.5-1.5 .1-8.4-1.6 1.4z"/>
<path class="kc" d="M277.3 85.3l2.9 .9 1.6-1.4-2.9-.9z"/>
<path class="kc" d="M280.2 94.7l2.9 .8 1.5-1.4-2.9-.9z"/>
<path class="kc" d="M283.1 92l3 .8 1.5-1.4-2.9-.9z"/>
<path class="ka" d="M286.1 93l2.9 .8 .1-4-3-.8z"/>
<path class="kb" d="M289 93.4l1.5-1.4 .1-3.6-1.5 1.4z"/>
<path class="kc" d="M286.1 89l3 .8 1.5-1.4-3-.9z"/>
<path class="ka" d="M289 93.5l3 .9 0-.1-3-.9z"/>
<path class="kc" d="M289 93.4l3 .9 1.5-1.5-3-.8z"/>
<path class="ka" d="M292 94.3l3 .9 0-3.5-3-.9z"/>
<path class="kc" d="M292 90.8l3 .9 1.5-1.5-3-.8z"/>
<path class="kb" d="M298 92.8l1.5-1.4 0-.9-1.5 1.5z"/>
<path class="kc" d="M295 91.1l3 .9 1.5-1.5-3-.9z"/>
<path class="ka" d="M297.9 97.8l3 .9 .1-5-3-.9z"/>
<path class="kb" d="M300.8 105.9l1.4-1.5 .3-12.2-1.5 1.5z"/>
<path class="kc" d="M298 92.8l3 .9 1.5-1.5-3-.8z"/>
<path class="kc" d="M227.9 82.1l2.7 .8 1.6-1.4-2.7-.8z"/>
<path class="kc" d="M230.5 79l2.7 .8 1.6-1.3-2.7-.8z"/>
<path class="kb" d="M236 80.8l1.6-1.3 0-1.8-1.7 1.4z"/>
<path class="kc" d="M233.2 78.3l2.7 .8 1.7-1.4-2.8-.8z"/>
<path class="kc" d="M236 80.8l2.8 .9 1.6-1.4-2.8-.8z"/>
<path class="ka" d="M238.9 86.4l2.8 .9-.2-5.7-2.8-.8z"/>
<path class="kb" d="M241.6 85.3l1.6-1.4-.1-3.6-1.6 1.3z"/>
<path class="kc" d="M238.7 80.8l2.8 .8 1.6-1.3-2.7-.9z"/>
<path class="kc" d="M241.6 85.3l2.8 .8 1.6-1.4-2.8-.8z"/>
<path class="ka" d="M244.3 83.3l2.8 .9 0-2.1-2.8-.9z"/>
<path class="kb" d="M247.1 83.1l1.6-1.4 0-1-1.6 1.4z"/>
<path class="kc" d="M244.3 81.2l2.8 .9 1.6-1.4-2.8-.8z"/>
<path class="kb" d="M250 84.2l1.5-1.4 0-.3-1.6 1.4z"/>
<path class="kc" d="M247.1 83.1l2.8 .8 1.6-1.4-2.8-.8z"/>
<path class="kc" d="M250 84.2l2.8 .9 1.6-1.4-2.9-.9z"/>
<path class="ka" d="M252.8 88l2.9 .8-.1-5.5-2.9-.8z"/>
<path class="kb" d="M255.6 87l1.6-1.4 0-3.7-1.6 1.4z"/>
<path class="kc" d="M252.7 82.5l2.9 .8 1.6-1.4-2.9-.8z"/>
<path class="kc" d="M255.6 87l2.9 .9 1.5-1.4-2.8-.9z"/>
<path class="ka" d="M258.5 87.4l2.8 .8 0-4.6-2.9-.8z"/>
<path class="kb" d="M261.3 85.8l1.6-1.4 0-2.2-1.6 1.4z"/>
<path class="kc" d="M258.4 82.8l2.9 .8 1.6-1.4-2.9-.8z"/>
<path class="kb" d="M264.2 92l1.6-1.5-.1-5.2-1.5 1.4z"/>
<path class="kc" d="M261.3 85.8l2.9 .9 1.5-1.4-2.8-.9z"/>
<path class="kc" d="M264.2 92l2.9 .8 1.5-1.4-2.8-.9z"/>
<path class="ka" d="M267.1 91.1l2.9 .8-.1-5.3-2.9-.8z"/>
<path class="kb" d="M270 90.8l1.5-1.4 0-4.2-1.6 1.4z"/>
<path class="kc" d="M267 85.8l2.9 .8 1.6-1.4-2.9-.9z"/>
<path class="ka" d="M270 91.9l2.9 .8 0-1-2.9-.9z"/>
<path class="kc" d="M270 90.8l2.9 .9 1.5-1.5-2.9-.8z"/>
<path class="ka" d="M272.9 88.9l2.9 .9 0-2.7-3-.9z"/>
<path class="kb" d="M275.8 88.9l1.5-1.4 0-1.8-1.5 1.4z"/>
<path class="kc" d="M272.8 86.2l3 .9 1.5-1.4-2.9-.9z"/>
<path class="ka" d="M275.8 89.9l2.9 .8 0-.9-2.9-.9z"/>
<path class="kc" d="M275.8 88.9l2.9 .9 1.5-1.5-2.9-.8z"/>
<path class="ka" d="M278.7 90.8l2.9 .8 0-2.3-2.9-.8z"/>
<path class="kb" d="M281.6 93.1l1.5-1.5 .1-3.7-1.6 1.4z"/>
<path class="kc" d="M278.7 88.5l2.9 .8 1.6-1.4-3-.9z"/>
<path class="ka" d="M281.6 94.4l3 .9 0-1.3-3-.9z"/>
<path class="kb" d="M284.6 94.4l1.5-1.4 0-.5-1.5 1.5z"/>
<path class="kc" d="M281.6 93.1l3 .9 1.5-1.5-3-.9z"/>
<path class="ka" d="M284.5 96.4l3 .9 0-2-2.9-.9z"/>
<path class="kc" d="M284.6 94.4l2.9 .9 1.5-1.5-2.9-.8z"/>
<path class="kc" d="M287.5 94.9l3 .9 1.5-1.4-3-.9z"/>
<path class="ka" d="M290.5 98l2.9 .8 .1-2.2-3-.8z"/>
<path class="kc" d="M290.5 95.8l3 .8 1.5-1.4-3-.9z"/>
<path class="ka" d="M293.4 97.5l3 .9 .1-5.6-3-.9z"/>
<path class="kb" d="M296.4 99.3l1.5-1.5 .1-6.5-1.5 1.5z"/>
<path class="kc" d="M293.5 91.9l3 .9 1.5-1.5-3-.8z"/>
<path class="kb" d="M299.3 107.4l1.5-1.5 .1-7.2-1.5 1.5z"/>
<path class="kc" d="M296.4 99.3l3 .9 1.5-1.5-3-.9z"/>
<path class="ka" d="M226.3 85l2.7 .8-.1-4.1-2.8-.8z"/>
<path class="kc" d="M226.1 80.9l2.8 .8 1.6-1.4-2.7-.8z"/>
<path class="ka" d="M228.9 83.1l2.8 .8-.1-3.5-2.8-.8z"/>
<path class="kc" d="M228.8 79.6l2.8 .8 1.6-1.4-2.8-.8z"/>
<path class="ka" d="M231.6 82.2l2.8 .8-.1-3.7-2.8-.8z"/>
<path class="kb" d="M234.3 80.4l1.6-1.4 0-1.1-1.6 1.4z"/>
<path class="kc" d="M231.5 78.5l2.8 .8 1.6-1.4-2.8-.8z"/>
<path class="ka" d="M234.5 85.2l2.7 .8-.1-4.8-2.8-.8z"/>
<path class="kb" d="M237.3 87.8l1.6-1.4-.2-6.6-1.6 1.4z"/>
<path class="kc" d="M234.3 80.4l2.8 .8 1.6-1.4-2.8-.8z"/>
<path class="kc" d="M237.3 87.8l2.8 .9 1.6-1.4-2.8-.9z"/>
<path class="kc" d="M240 85.2l2.8 .8 1.6-1.4-2.8-.8z"/>
<path class="ka" d="M242.8 88l2.8 .8-.1-3.2-2.8-.9z"/>
<path class="kc" d="M242.7 84.7l2.8 .9 1.6-1.4-2.8-.9z"/>
<path class="ka" d="M245.6 87.2l2.8 .9-.1-5.1-2.8-.8z"/>
<path class="kc" d="M245.5 82.2l2.8 .8 1.6-1.4-2.8-.8z"/>
<path class="ka" d="M248.4 90.8l2.9 .9-.2-9.1-2.8-.9z"/>
<path class="kb" d="M251.2 89.4l1.6-1.4-.1-6.9-1.6 1.5z"/>
<path class="kc" d="M248.3 81.7l2.8 .9 1.6-1.5-2.8-.8z"/>
<path class="kc" d="M251.2 89.4l2.9 .8 1.6-1.4-2.9-.8z"/>
<path class="ka" d="M254 87.3l2.9 .8 0-1.8-2.9-.9z"/>
<path class="kb" d="M256.9 88.8l1.6-1.4-.1-2.6-1.5 1.5z"/>
<path class="kc" d="M254 85.4l2.9 .9 1.5-1.5-2.8-.8z"/>
<path class="ka" d="M256.9 92.1l2.9 .9-.1-3.4-2.8-.8z"/>
<path class="kc" d="M256.9 88.8l2.8 .8 1.6-1.4-2.8-.8z"/>
<path class="ka" d="M259.8 90.5l2.8 .9 0-6.1-2.9-.9z"/>
<path class="kb" d="M262.6 93.1l1.6-1.4 0-7.8-1.6 1.4z"/>
<path class="kc" d="M259.7 84.4l2.9 .9 1.6-1.4-2.9-.9z"/>
<path class="kc" d="M262.6 93.1l2.9 .9 1.6-1.4-2.9-.9z"/>
<path class="kc" d="M265.5 92.5l2.9 .9 1.6-1.5-2.9-.8z"/>
<path class="kc" d="M268.4 93.3l2.9 .9 1.6-1.5-2.9-.8z"/>
<path class="kb" d="M274.2 91.3l1.6-1.4 0-.1-1.6 1.4z"/>
<path class="kc" d="M271.3 90.3l2.9 .9 1.6-1.4-2.9-.9z"/>
<path class="kb" d="M277.1 92.2l1.6-1.4 0-.1-1.6 1.5z"/>
<path class="kc" d="M274.2 91.3l2.9 .9 1.6-1.5-2.9-.8z"/>
<path class="kb" d="M280.1 95.9l1.5-1.5 0-2.8-1.5 1.5z"/>
<path class="kc" d="M277.1 92.2l3 .9 1.5-1.5-2.9-.8z"/>
<path class="kb" d="M283 97.9l1.5-1.5 .1-1.1-1.6 1.5z"/>
<path class="kc" d="M280.1 95.9l2.9 .9 1.6-1.5-3-.9z"/>
<path class="kc" d="M283 97.9l3 .9 1.5-1.5-3-.9z"/>
<path class="kb" d="M288.9 99.4l1.6-1.4 0-2.3-1.5 1.5z"/>
<path class="kc" d="M286 96.3l3 .9 1.5-1.5-3-.8z"/>
<path class="kc" d="M288.9 99.4l3 .9 1.5-1.5-2.9-.8z"/>
<path class="ka" d="M291.9 102.3l3 .9 0-3.3-3-.9z"/>
<path class="kc" d="M291.9 99l3 .9 1.5-1.5-3-.9z"/>
<path class="kb" d="M297.8 108.9l1.5-1.5 .2-9.6-1.5 1.5z"/>
<path class="kc" d="M295 98.4l3 .9 1.5-1.5-3-.9z"/>
<path class="kc" d="M224.6 86.4l2.8 .8 1.6-1.4-2.7-.8z"/>
<path class="ka" d="M227.4 87.2l2.7 .8-.1-2.7-2.7-.9z"/>
<path class="kc" d="M227.3 84.4l2.7 .9 1.7-1.4-2.8-.8z"/>
<path class="ka" d="M230.1 86l2.7 .8 0-2.4-2.8-.8z"/>
<path class="kb" d="M232.8 86.6l1.7-1.4-.1-2.2-1.6 1.4z"/>
<path class="kc" d="M230 83.6l2.8 .8 1.6-1.4-2.8-.8z"/>
<path class="kb" d="M235.6 87.6l1.6-1.4 0-.2-1.6 1.4z"/>
<path class="kc" d="M232.8 86.6l2.8 .8 1.6-1.4-2.7-.8z"/>
<path class="kc" d="M235.6 87.6l2.8 .9 1.6-1.4-2.8-.9z"/>
<path class="ka" d="M238.3 86.6l2.8 .9-.1-4.1-2.8-.8z"/>
<path class="kb" d="M241.2 89.4l1.6-1.4-.1-6-1.7 1.4z"/>
<path class="kc" d="M238.2 82.6l2.8 .8 1.7-1.4-2.8-.8z"/>
<path class="ka" d="M241.2 90l2.8 .9 0-.7-2.8-.8z"/>
<path class="kc" d="M241.2 89.4l2.8 .8 1.6-1.4-2.8-.8z"/>
<path class="kb" d="M246.8 92.3l1.6-1.5 0-2.7-1.6 1.4z"/>
<path class="kc" d="M244 88.7l2.8 .8 1.6-1.4-2.8-.9z"/>
<path class="kc" d="M246.8 92.3l2.9 .8 1.6-1.4-2.9-.9z"/>
<path class="ka" d="M249.6 91.8l2.9 .8-.1-7.1-2.9-.9z"/>
<path class="kb" d="M252.4 88.7l1.6-1.4 0-3.3-1.6 1.5z"/>
<path class="kc" d="M249.5 84.6l2.9 .9 1.6-1.5-2.9-.8z"/>
<path class="ka" d="M252.5 91.6l2.8 .9 0-2.9-2.9-.9z"/>
<path class="kb" d="M255.3 93.6l1.6-1.5 0-4-1.6 1.5z"/>
<path class="kc" d="M252.4 88.7l2.9 .9 1.6-1.5-2.9-.8z"/>
<path class="kc" d="M255.3 93.6l2.9 .8 1.6-1.4-2.9-.9z"/>
<path class="kc" d="M258.2 92l2.8 .8 1.6-1.4-2.8-.9z"/>
<path class="kb" d="M263.9 93.1l1.6-1.5 0-.7-1.6 1.5z"/>
<path class="kc" d="M261 91.5l2.9 .9 1.6-1.5-2.9-.8z"/>
<path class="kc" d="M263.9 93.1l2.9 .9 1.6-1.5-2.9-.9z"/>
<path class="ka" d="M266.8 90.7l2.9 .8 0-4.6-2.9-.9z"/>
<path class="kb" d="M269.7 90.4l1.6-1.4 0-3.6-1.6 1.5z"/>
<path class="kc" d="M266.8 86l2.9 .9 1.6-1.5-2.9-.8z"/>
<path class="ka" d="M269.7 94.5l3 .8 0-4-3-.9z"/>
<path class="kb" d="M272.7 92.7l1.5-1.5 0-1.4-1.5 1.5z"/>
<path class="kc" d="M269.7 90.4l3 .9 1.5-1.5-2.9-.8z"/>
<path class="kb" d="M275.6 93.7l1.5-1.5 0-.1-1.5 1.5z"/>
<path class="kc" d="M272.7 92.7l2.9 .9 1.5-1.5-2.9-.9z"/>
<path class="kc" d="M275.6 93.7l2.9 .9 1.6-1.5-3-.9z"/>
<path class="ka" d="M278.5 98.6l3 .9 0-6.9-3-.8z"/>
<path class="kb" d="M281.5 98l1.5-1.5 .1-5.3-1.6 1.4z"/>
<path class="kc" d="M278.5 91.8l3 .8 1.6-1.4-3-.9z"/>
<path class="kc" d="M281.5 98l3 .9 1.5-1.5-3-.9z"/>
<path class="kc" d="M284.5 95.8l3 .9 1.5-1.5-3-.9z"/>
<path class="kb" d="M290.4 103.8l1.5-1.5 .1-6.8-1.5 1.5z"/>
<path class="kc" d="M287.5 96.1l3 .9 1.5-1.5-3-.9z"/>
<path class="kc" d="M290.4 103.8l3 .9 1.5-1.5-3-.9z"/>
<path class="ka" d="M293.5 98.8l3 .9 0-.8-3-.9z"/>
<path class="kb" d="M296.3 110.5l1.5-1.6 .2-11.5-1.5 1.5z"/>
<path class="kc" d="M293.5 98l3 .9 1.5-1.5-3-.9z"/>
<path class="kb" d="M225.7 88.6l1.7-1.4-.2-3.6-1.6 1.4z"/>
<path class="kc" d="M222.8 84.2l2.8 .8 1.6-1.4-2.7-.8z"/>
<path class="kc" d="M225.7 88.6l2.8 .9 1.6-1.5-2.7-.8z"/>
<path class="ka" d="M228.5 89.4l2.7 .8 0-2-2.8-.8z"/>
<path class="kc" d="M228.4 87.4l2.8 .8 1.6-1.4-2.7-.8z"/>
<path class="ka" d="M231.2 89.6l2.8 .8-.1-4.1-2.8-.9z"/>
<path class="kb" d="M233.9 88.1l1.7-1.4-.1-1.8-1.6 1.4z"/>
<path class="kc" d="M231.1 85.4l2.8 .9 1.6-1.4-2.8-.9z"/>
<path class="kc" d="M233.9 88.1l2.8 .8 1.7-1.4-2.8-.8z"/>
<path class="kb" d="M239.6 91.4l1.6-1.4-.1-2.5-1.6 1.4z"/>
<path class="kc" d="M236.7 88.1l2.8 .8 1.6-1.4-2.8-.9z"/>
<path class="kc" d="M239.6 91.4l2.8 .9 1.6-1.4-2.8-.9z"/>
<path class="ka" d="M242.3 89.2l2.8 .8 0-2.8-2.8-.9z"/>
<path class="kb" d="M245.1 89.6l1.7-1.4-.1-2.5-1.6 1.5z"/>
<path class="kc" d="M242.3 86.3l2.8 .9 1.6-1.5-2.8-.8z"/>
<path class="kb" d="M248 93.2l1.6-1.4 0-2.8-1.6 1.4z"/>
<path class="kc" d="M245.1 89.6l2.9 .8 1.6-1.4-2.8-.8z"/>
<path class="kc" d="M248 93.2l2.9 .9 1.6-1.5-2.9-.8z"/>
<path class="kc" d="M250.9 93.1l2.8 .9 1.6-1.5-2.8-.9z"/>
<path class="ka" d="M253.6 87.2l2.9 .9 0-.4-2.9-.9z"/>
<path class="kb" d="M256.5 90.3l1.6-1.5 0-2.6-1.6 1.5z"/>
<path class="kc" d="M253.6 86.8l2.9 .9 1.6-1.5-2.9-.8z"/>
<path class="ka" d="M256.5 90.9l2.9 .9 0-.7-2.9-.8z"/>
<path class="kc" d="M256.5 90.3l2.9 .8 1.6-1.4-2.9-.9z"/>
<path class="ka" d="M259.4 90.7l2.9 .8 0-.8-2.9-.9z"/>
<path class="kb" d="M262.3 93.9l1.6-1.4 0-3.3-1.6 1.5z"/>
<path class="kc" d="M259.4 89.8l2.9 .9 1.6-1.5-2.9-.9z"/>
<path class="kc" d="M262.3 93.9l2.9 .9 1.6-1.5-2.9-.8z"/>
<path class="ka" d="M265.3 97.6l2.9 .8-.1-5.4-2.9-.9z"/>
<path class="kb" d="M268.2 95.9l1.5-1.4 0-3-1.6 1.5z"/>
<path class="kc" d="M265.2 92.1l2.9 .9 1.6-1.5-2.9-.8z"/>
<path class="ka" d="M268.2 97.8l2.9 .9 0-1.9-2.9-.9z"/>
<path class="kc" d="M268.2 95.9l2.9 .9 1.6-1.5-3-.8z"/>
<path class="ka" d="M271.1 97.1l2.9 .9 0-5-2.9-.9z"/>
<path class="kb" d="M274 94.8l1.6-1.5 0-1.8-1.6 1.5z"/>
<path class="kc" d="M271.1 92.1l2.9 .9 1.6-1.5-2.9-.9z"/>
<path class="ka" d="M274 99.6l3 .9 0-4.8-3-.9z"/>
<path class="kb" d="M277 100.1l1.5-1.5 0-4.4-1.5 1.5z"/>
<path class="kc" d="M274 94.8l3 .9 1.5-1.5-2.9-.9z"/>
<path class="kc" d="M277 100.1l2.9 .9 1.6-1.5-3-.9z"/>
<path class="ka" d="M279.9 100.6l3 .9 0-7.2-2.9-.9z"/>
<path class="kb" d="M282.9 95l1.6-1.5 0-.7-1.6 1.5z"/>
<path class="kc" d="M280 93.4l2.9 .9 1.6-1.5-3-.9z"/>
<path class="ka" d="M282.9 95.6l3 .9 0-.6-3-.9z"/>
<path class="kb" d="M285.9 97.5l1.6-1.5 0-1.6-1.6 1.5z"/>
<path class="kc" d="M282.9 95l3 .9 1.6-1.5-3-.9z"/>
<path class="kc" d="M285.9 97.5l3 .9 1.6-1.5-3-.9z"/>
<path class="ka" d="M288.9 102.7l3 .9 .1-7.2-3-.9z"/>
<path class="kb" d="M291.9 100.3l1.6-1.5 0-3.9-1.5 1.5z"/>
<path class="kc" d="M289 95.5l3 .9 1.5-1.5-3-.9z"/>
<path class="ka" d="M291.9 101l3 .9 .1-.7-3.1-.9z"/>
<path class="kb" d="M294.8 112l1.5-1.5 .2-10.8-1.5 1.5z"/>
<path class="kc" d="M291.9 100.3l3.1 .9 1.5-1.5-3-.9z"/>
<path class="ka" d="M221.3 89.2l2.8 .8-.2-5.4-2.8-.8z"/>
<path class="kc" d="M221.1 83.8l2.8 .8 1.6-1.4-2.7-.8z"/>
<path class="ka" d="M224.1 89.9l2.7 .8-.2-6.4-2.8-.8z"/>
<path class="kb" d="M226.8 90.8l1.7-1.4-.2-6.5-1.7 1.4z"/>
<path class="kc" d="M223.8 83.5l2.8 .8 1.7-1.4-2.8-.8z"/>
<path class="kc" d="M226.8 90.8l2.8 .8 1.6-1.4-2.7-.8z"/>
<path class="ka" d="M229.6 91.7l2.8 .9 0-.8-2.8-.8z"/>
<path class="kc" d="M229.6 91l2.8 .8 1.6-1.4-2.8-.8z"/>
<path class="kc" d="M232.3 88.9l2.8 .9 1.6-1.5-2.8-.8z"/>
<path class="ka" d="M235 86.4l2.8 .8-.1-3.4-2.8-.9z"/>
<path class="kb" d="M237.8 87.6l1.6-1.4-.1-3.9-1.6 1.5z"/>
<path class="kc" d="M234.9 82.9l2.8 .9 1.6-1.5-2.8-.8z"/>
<path class="kb" d="M240.7 90.6l1.6-1.4 0-2.2-1.7 1.5z"/>
<path class="kc" d="M237.8 87.6l2.8 .9 1.7-1.5-2.9-.8z"/>
<path class="kc" d="M240.7 90.6l2.8 .9 1.6-1.5-2.8-.8z"/>
<path class="kb" d="M246.3 87.3l1.6-1.5 0-.4-1.6 1.4z"/>
<path class="kc" d="M243.4 86l2.9 .8 1.6-1.4-2.9-.8z"/>
<path class="ka" d="M246.3 88.6l2.9 .9-.1-1.4-2.8-.8z"/>
<path class="kb" d="M249.2 90.9l1.6-1.5 0-2.7-1.7 1.4z"/>
<path class="kc" d="M246.3 87.3l2.8 .8 1.7-1.4-2.9-.9z"/>
<path class="ka" d="M249.2 93.7l2.9 .9 0-2.8-2.9-.9z"/>
<path class="kc" d="M249.2 90.9l2.9 .9 1.6-1.5-2.9-.9z"/>
<path class="ka" d="M252.1 94.2l2.9 .8-.1-5.5-2.9-.8z"/>
<path class="kb" d="M254.9 92.4l1.6-1.5 0-2.8-1.6 1.4z"/>
<path class="kc" d="M252 88.7l2.9 .8 1.6-1.4-2.9-.9z"/>
<path class="ka" d="M255 95.8l2.9 .9-.1-3.4-2.9-.9z"/>
<path class="kc" d="M254.9 92.4l2.9 .9 1.6-1.5-2.9-.9z"/>
<path class="kc" d="M257.8 92.1l2.9 .9 1.6-1.5-2.9-.8z"/>
<path class="ka" d="M260.8 97.1l2.9 .9-.1-8.1-2.9-.9z"/>
<path class="kb" d="M263.7 99l1.6-1.4-.1-9.2-1.6 1.5z"/>
<path class="kc" d="M260.7 89l2.9 .9 1.6-1.5-2.9-.9z"/>
<path class="kc" d="M263.7 99l2.9 .9 1.6-1.5-2.9-.8z"/>
<path class="kc" d="M266.6 99.3l2.9 .9 1.6-1.5-2.9-.9z"/>
<path class="kb" d="M272.5 101.1l1.5-1.5 0-1.6-1.5 1.5z"/>
<path class="kc" d="M269.5 98.6l3 .9 1.5-1.5-2.9-.9z"/>
<path class="kc" d="M272.5 101.1l2.9 .9 1.6-1.5-3-.9z"/>
<path class="kb" d="M278.4 102.1l1.5-1.5 0-.1-1.5 1.5z"/>
<path class="kc" d="M275.4 101.1l3 .9 1.5-1.5-2.9-.9z"/>
<path class="kc" d="M278.4 102.1l2.9 .9 1.6-1.5-3-.9z"/>
<path class="kc" d="M281.4 97.1l3 .9 1.5-1.5-3-.9z"/>
<path class="ka" d="M284.3 103.3l3 .9 .1-6.6-3-.9z"/>
<path class="kb" d="M287.3 104.2l1.6-1.5 .1-6.6-1.6 1.5z"/>
<path class="kc" d="M284.4 96.7l3 .9 1.6-1.5-3.1-.9z"/>
<path class="kc" d="M287.3 104.2l3 .9 1.6-1.5-3-.9z"/>
<path class="kb" d="M293.3 113.5l1.5-1.5 .1-10.1-1.5 1.5z"/>
<path class="kc" d="M290.4 102.5l3 .9 1.5-1.5-3-.9z"/>
<path class="kc" d="M219.6 90.6l2.8 .8 1.7-1.4-2.8-.8z"/>
<path class="ka" d="M222.4 91.4l2.8 .9 0-.2-2.8-.8z"/>
<path class="kc" d="M222.4 91.3l2.8 .8 1.6-1.4-2.7-.8z"/>
<path class="ka" d="M225 88l2.8 .8-.1-2.3-2.8-.9z"/>
<path class="kb" d="M227.9 93.2l1.7-1.5-.2-6.6-1.7 1.4z"/>
<path class="kc" d="M224.9 85.6l2.8 .9 1.7-1.4-2.8-.9z"/>
<path class="kc" d="M227.9 93.2l2.8 .8 1.7-1.4-2.8-.9z"/>
<path class="ka" d="M230.6 91l2.8 .8-.1-4.5-2.8-.9z"/>
<path class="kb" d="M233.3 87.8l1.7-1.4 0-.5-1.7 1.4z"/>
<path class="kc" d="M230.5 86.4l2.8 .9 1.7-1.4-2.9-.9z"/>
<path class="kc" d="M233.3 87.8l2.8 .9 1.7-1.5-2.8-.8z"/>
<path class="ka" d="M236.2 92.3l2.9 .9-.2-5.6-2.8-.8z"/>
<path class="kc" d="M236.1 86.8l2.8 .8 1.7-1.4-2.9-.8z"/>
<path class="ka" d="M239.1 93.7l2.8 .9-.2-7.3-2.8-.8z"/>
<path class="kc" d="M238.9 86.5l2.8 .8 1.7-1.4-2.9-.9z"/>
<path class="ka" d="M241.9 93.5l2.8 .9-.1-6.9-2.9-.9z"/>
<path class="kb" d="M244.7 90.1l1.6-1.5-.1-2.6-1.6 1.5z"/>
<path class="kc" d="M241.7 86.6l2.9 .9 1.6-1.5-2.8-.8z"/>
<path class="ka" d="M244.8 94.7l2.8 .9-.1-4.7-2.8-.8z"/>
<path class="kb" d="M247.6 95.2l1.6-1.5 0-4.2-1.7 1.4z"/>
<path class="kc" d="M244.7 90.1l2.8 .8 1.7-1.4-2.9-.9z"/>
<path class="ka" d="M247.6 96.3l2.9 .8 0-1-2.9-.9z"/>
<path class="kc" d="M247.6 95.2l2.9 .9 1.6-1.5-2.9-.9z"/>
<path class="kb" d="M253.4 97.3l1.6-1.5 0-.8-1.6 1.5z"/>
<path class="kc" d="M250.5 95.6l2.9 .9 1.6-1.5-2.9-.8z"/>
<path class="kc" d="M253.4 97.3l2.9 .9 1.6-1.5-2.9-.9z"/>
<path class="ka" d="M256.2 93.2l2.9 .9 0-3-3-.9z"/>
<path class="kb" d="M259.2 98.6l1.6-1.5-.1-7.5-1.6 1.5z"/>
<path class="kc" d="M256.1 90.2l3 .9 1.6-1.5-2.9-.9z"/>
<path class="kc" d="M259.2 98.6l2.9 .8 1.6-1.4-2.9-.9z"/>
<path class="ka" d="M262.1 101.4l2.9 .9 0-6.8-3-.9z"/>
<path class="kb" d="M265 99.4l1.6-1.5 0-3.9-1.6 1.5z"/>
<path class="kc" d="M262 94.6l3 .9 1.6-1.5-3-.9z"/>
<path class="ka" d="M265 100.9l2.9 .9 0-1.5-2.9-.9z"/>
<path class="kc" d="M265 99.4l2.9 .9 1.6-1.5-2.9-.9z"/>
<path class="kb" d="M270.9 102.1l1.6-1.5 0-1.8-1.6 1.5z"/>
<path class="kc" d="M267.9 99.4l3 .9 1.6-1.5-3-.9z"/>
<path class="kc" d="M270.9 102.1l2.9 .9 1.6-1.5-2.9-.9z"/>
<path class="kc" d="M273.8 100.2l3 .9 1.6-1.5-3-.9z"/>
<path class="ka" d="M276.8 103.7l3 .9 0-7-3-.9z"/>
<path class="kb" d="M279.8 97.8l1.6-1.5 0-.2-1.6 1.5z"/>
<path class="kc" d="M276.8 96.7l3 .9 1.6-1.5-3-.9z"/>
<path class="ka" d="M279.8 105.8l3 .9 0-8-3-.9z"/>
<path class="kb" d="M282.8 104.8l1.5-1.5 .1-6.1-1.6 1.5z"/>
<path class="kc" d="M279.8 97.8l3 .9 1.6-1.5-3-.9z"/>
<path class="ka" d="M282.8 104.9l3 .9 0-.1-3-.9z"/>
<path class="kc" d="M282.8 104.8l3 .9 1.5-1.5-3-.9z"/>
<path class="kc" d="M285.9 98.9l3 .9 1.5-1.5-3-.9z"/>
<path class="ka" d="M288.9 100.2l3 1 0-1.5-3-.9z"/>
<path class="kb" d="M291.7 115.1l1.6-1.6 .2-15.4-1.6 1.6z"/>
<path class="kc" d="M288.9 98.8l3 .9 1.6-1.6-3.1-.9z"/>
<path class="kc" d="M217.9 92l2.8 .9 1.7-1.5-2.8-.8z"/>
<path class="kc" d="M220.7 92.9l2.8 .8 1.7-1.4-2.8-.9z"/>
<path class="kb" d="M226.2 93.3l1.7-1.4-.1-3.1-1.7 1.5z"/>
<path class="kc" d="M223.3 89.4l2.8 .9 1.7-1.5-2.8-.8z"/>
<path class="kc" d="M226.2 93.3l2.8 .9 1.7-1.5-2.8-.8z"/>
<path class="kc" d="M229 92.4l2.8 .9 1.6-1.5-2.8-.8z"/>
<path class="ka" d="M231.8 94.3l2.8 .8-.2-7.9-2.8-.8z"/>
<path class="kb" d="M234.6 93.7l1.6-1.4-.1-6.5-1.7 1.4z"/>
<path class="kc" d="M231.6 86.4l2.8 .8 1.7-1.4-2.9-.8z"/>
<path class="kb" d="M237.4 95.2l1.7-1.5 0-.5-1.7 1.4z"/>
<path class="kc" d="M234.6 93.7l2.8 .9 1.7-1.4-2.9-.9z"/>
<path class="kc" d="M237.4 95.2l2.9 .9 1.6-1.5-2.8-.9z"/>
<path class="kb" d="M243.1 96.2l1.7-1.5-.1-.3-1.6 1.4z"/>
<path class="kc" d="M240.2 95l2.9 .8 1.6-1.4-2.8-.9z"/>
<path class="kb" d="M246 97.7l1.6-1.4 0-.7-1.6 1.4z"/>
<path class="kc" d="M243.1 96.2l2.9 .8 1.6-1.4-2.8-.9z"/>
<path class="kc" d="M246 97.7l2.9 .9 1.6-1.5-2.9-.8z"/>
<path class="kb" d="M251.6 93.1l1.7-1.5 0-1.5-1.7 1.5z"/>
<path class="kc" d="M248.7 90.7l2.9 .9 1.7-1.5-2.9-.9z"/>
<path class="ka" d="M251.7 98.8l2.9 .9 0-5.7-3-.9z"/>
<path class="kb" d="M254.6 94.7l1.6-1.5 0-.7-1.6 1.5z"/>
<path class="kc" d="M251.6 93.1l3 .9 1.6-1.5-2.9-.9z"/>
<path class="ka" d="M254.6 99.4l2.9 .9 0-4.8-2.9-.8z"/>
<path class="kb" d="M257.5 96.8l1.6-1.5 0-1.2-1.6 1.4z"/>
<path class="kc" d="M254.6 94.7l2.9 .8 1.6-1.4-2.9-.9z"/>
<path class="kb" d="M260.5 102.9l1.6-1.5-.1-5.2-1.6 1.5z"/>
<path class="kc" d="M257.5 96.8l2.9 .9 1.6-1.5-2.9-.9z"/>
<path class="kc" d="M260.5 102.9l2.9 .9 1.6-1.5-2.9-.9z"/>
<path class="kc" d="M263.4 102.4l2.9 .9 1.6-1.5-2.9-.9z"/>
<path class="ka" d="M266.3 102.6l3 1 0-6.9-3-.9z"/>
<path class="kb" d="M269.3 103.1l1.6-1.5 0-6.4-1.6 1.5z"/>
<path class="kc" d="M266.3 95.8l3 .9 1.6-1.5-3-.9z"/>
<path class="kc" d="M269.3 103.1l3 .9 1.5-1.5-2.9-.9z"/>
<path class="kb" d="M275.2 105.2l1.6-1.5 0-5.7-1.6 1.5z"/>
<path class="kc" d="M272.2 98.6l3 .9 1.6-1.5-3-.9z"/>
<path class="kb" d="M278.2 107.3l1.6-1.5 0-1.2-1.6 1.6z"/>
<path class="kc" d="M275.2 105.2l3 1 1.6-1.6-3-.9z"/>
<path class="kc" d="M278.2 107.3l3 1 1.6-1.6-3-.9z"/>
<path class="ka" d="M281.2 106.5l3 .9 0 0-3-1z"/>
<path class="kc" d="M281.2 106.4l3 1 1.6-1.6-3-.9z"/>
<path class="ka" d="M284.2 107.9l3 .9 .1-8.4-3-.9z"/>
<path class="kb" d="M287.3 101.8l1.6-1.6 0-1.3-1.6 1.5z"/>
<path class="kc" d="M284.3 99.5l3 .9 1.6-1.5-3-.9z"/>
<path class="ka" d="M287.3 106.9l3 .9 .1-5.1-3.1-.9z"/>
<path class="kb" d="M290.2 116.7l1.5-1.6 .2-13.9-1.5 1.5z"/>
<path class="kc" d="M287.3 101.8l3.1 .9 1.5-1.5-3-1z"/>
<path class="kc" d="M216 88.4l2.8 .9 1.7-1.5-2.8-.8z"/>
<path class="ka" d="M219 93l2.7 .8-.1-4.1-2.8-.9z"/>
<path class="kc" d="M218.8 88.8l2.8 .9 1.7-1.4-2.8-.9z"/>
<path class="ka" d="M221.6 89.1l2.8 .8-.1-.3-2.8-.9z"/>
<path class="kb" d="M224.4 91l1.7-1.4-.1-1.5-1.7 1.5z"/>
<path class="kc" d="M221.5 88.7l2.8 .9 1.7-1.5-2.8-.8z"/>
<path class="ka" d="M224.6 96l2.8 .9-.2-5-2.8-.9z"/>
<path class="kb" d="M227.3 93l1.6-1.4 0-1.1-1.7 1.4z"/>
<path class="kc" d="M224.4 91l2.8 .9 1.7-1.4-2.8-.9z"/>
<path class="ka" d="M227.3 95.3l2.8 .9 0-2.3-2.8-.9z"/>
<path class="kb" d="M230.1 95.7l1.7-1.4-.1-1.8-1.6 1.4z"/>
<path class="kc" d="M227.3 93l2.8 .9 1.6-1.4-2.8-.9z"/>
<path class="ka" d="M230.2 97.2l2.8 .9 0-1.5-2.9-.9z"/>
<path class="kc" d="M230.1 95.7l2.9 .9 1.6-1.5-2.8-.8z"/>
<path class="ka" d="M232.9 95.6l2.9 .9-.1-2.1-2.8-.8z"/>
<path class="kc" d="M232.9 93.6l2.8 .8 1.7-1.4-2.9-.9z"/>
<path class="kb" d="M238.6 95.5l1.6-1.5 0-.3-1.6 1.4z"/>
<path class="kc" d="M235.7 94.3l2.9 .8 1.6-1.4-2.8-.9z"/>
<path class="kc" d="M238.6 95.5l2.8 .8 1.7-1.4-2.9-.9z"/>
<path class="ka" d="M241.3 91l2.9 .9 0-1-2.9-.8z"/>
<path class="kb" d="M244.3 95.2l1.6-1.5-.1-4.2-1.6 1.4z"/>
<path class="kc" d="M241.3 90.1l2.9 .8 1.6-1.4-2.9-.9z"/>
<path class="ka" d="M244.3 97.2l2.9 .8-.1-1.9-2.8-.9z"/>
<path class="kc" d="M244.3 95.2l2.8 .9 1.7-1.5-2.9-.9z"/>
<path class="ka" d="M247.1 95.3l2.9 .9 0-3.7-2.9-.9z"/>
<path class="kb" d="M250.1 100.3l1.6-1.5-.1-7.8-1.6 1.5z"/>
<path class="kc" d="M247.1 91.6l2.9 .9 1.6-1.5-2.9-.8z"/>
<path class="kc" d="M250.1 100.3l2.9 .9 1.6-1.5-2.9-.9z"/>
<path class="kc" d="M253 100.9l2.9 .9 1.6-1.5-2.9-.9z"/>
<path class="ka" d="M255.9 101.1l2.9 .9 0-3.5-2.9-.9z"/>
<path class="kb" d="M258.9 103.2l1.6-1.5-.1-4.7-1.6 1.5z"/>
<path class="kc" d="M255.9 97.6l2.9 .9 1.6-1.5-2.9-.9z"/>
<path class="kc" d="M258.9 103.2l2.9 .9 1.6-1.5-2.9-.9z"/>
<path class="kc" d="M261.8 103.5l2.9 .9 1.6-1.5-2.9-.9z"/>
<path class="kc" d="M264.7 104.2l3 .9 1.6-1.5-3-1z"/>
<path class="kc" d="M267.7 103.7l3 .9 1.6-1.5-3-.9z"/>
<path class="ka" d="M270.7 102.5l2.9 .9 0-3.2-3-.9z"/>
<path class="kb" d="M273.6 103.6l1.6-1.5 0-3.4-1.6 1.5z"/>
<path class="kc" d="M270.6 99.3l3 .9 1.6-1.5-3-.9z"/>
<path class="kc" d="M273.6 103.6l3 .9 1.6-1.5-3-.9z"/>
<path class="ka" d="M276.6 109.1l3 .9 .1-5.6-3.1-.9z"/>
<path class="kb" d="M279.6 108.1l1.6-1.6 0-3.6-1.5 1.5z"/>
<path class="kc" d="M276.6 103.5l3.1 .9 1.5-1.5-3-1z"/>
<path class="kb" d="M282.7 109.4l1.5-1.5 0-.5-1.5 1.6z"/>
<path class="kc" d="M279.6 108.1l3.1 .9 1.5-1.6-3-.9z"/>
<path class="ka" d="M282.7 110l3 .9 0-.5-3-1z"/>
<path class="kc" d="M282.7 109.4l3 1 1.5-1.6-3-.9z"/>
<path class="kb" d="M288.7 118.2l1.5-1.5 .1-8.9-1.5 1.6z"/>
<path class="kc" d="M285.7 108.4l3.1 1 1.5-1.6-3-.9z"/>
<path class="ka" d="M214.3 90.5l2.8 .8-.1-2-2.8-.9z"/>
<path class="kb" d="M217.3 94.4l1.7-1.4-.3-5.2-1.7 1.5z"/>
<path class="kc" d="M214.2 88.4l2.8 .9 1.7-1.5-2.7-.8z"/>
<path class="kc" d="M217.3 94.4l2.7 .9 1.7-1.5-2.7-.8z"/>
<path class="ka" d="M220.1 96.6l2.8 .9-.2-6.1-2.8-.9z"/>
<path class="kb" d="M222.9 97.5l1.7-1.5-.2-6.1-1.7 1.5z"/>
<path class="kc" d="M219.9 90.5l2.8 .9 1.7-1.5-2.8-.8z"/>
<path class="kc" d="M222.9 97.5l2.8 .9 1.7-1.5-2.8-.9z"/>
<path class="kb" d="M228.5 98.7l1.7-1.5-.1-1-1.6 1.4z"/>
<path class="kc" d="M225.6 96.8l2.9 .8 1.6-1.4-2.8-.9z"/>
<path class="kc" d="M228.5 98.7l2.8 .9 1.7-1.5-2.8-.9z"/>
<path class="kc" d="M231.3 97.1l2.8 .9 1.7-1.5-2.9-.9z"/>
<path class="ka" d="M234.1 97.8l2.8 .9-.1-6.3-2.9-.8z"/>
<path class="kc" d="M233.9 91.6l2.9 .8 1.6-1.4-2.8-.9z"/>
<path class="ka" d="M236.7 91.3l2.9 .8 0-1.9-2.9-.9z"/>
<path class="kb" d="M239.6 92.5l1.7-1.5-.1-2.3-1.6 1.5z"/>
<path class="kc" d="M236.7 89.3l2.9 .9 1.6-1.5-2.8-.8z"/>
<path class="ka" d="M239.7 97.2l2.9 .9-.1-4.7-2.9-.9z"/>
<path class="kb" d="M242.6 98.6l1.7-1.4-.1-5.3-1.7 1.5z"/>
<path class="kc" d="M239.6 92.5l2.9 .9 1.7-1.5-2.9-.9z"/>
<path class="kc" d="M242.6 98.6l2.9 .9 1.7-1.5-2.9-.8z"/>
<path class="kc" d="M245.5 96.8l2.9 .9 1.6-1.5-2.9-.9z"/>
<path class="ka" d="M248.3 95.3l3 .9-.1-1.8-2.9-.9z"/>
<path class="kb" d="M251.3 96l1.6-1.4 0-1.7-1.7 1.5z"/>
<path class="kc" d="M248.3 93.5l2.9 .9 1.7-1.5-2.9-.9z"/>
<path class="ka" d="M251.4 104.2l2.9 .9-.1-8.2-2.9-.9z"/>
<path class="kb" d="M254.3 102.6l1.6-1.5-.1-5.7-1.6 1.5z"/>
<path class="kc" d="M251.3 96l2.9 .9 1.6-1.5-2.9-.8z"/>
<path class="kc" d="M254.3 102.6l2.9 .9 1.6-1.5-2.9-.9z"/>
<path class="kc" d="M257.2 102.5l2.9 .9 1.7-1.5-3-.9z"/>
<path class="kc" d="M260.1 102.6l3 .9 1.6-1.5-2.9-.9z"/>
<path class="kc" d="M263.1 101.2l3 .9 1.6-1.5-3-.9z"/>
<path class="ka" d="M266.1 107.3l3 .9-.1-6.8-3-.9z"/>
<path class="kb" d="M269 104.1l1.7-1.6-.1-2.6-1.6 1.5z"/>
<path class="kc" d="M266 100.5l3 .9 1.6-1.5-2.9-.9z"/>
<path class="kc" d="M269 104.1l3 .9 1.6-1.6-2.9-.9z"/>
<path class="ka" d="M272 108.4l3 .9 0-3.8-3-.9z"/>
<path class="kb" d="M275 110.6l1.6-1.5 0-5.1-1.6 1.5z"/>
<path class="kc" d="M272 104.6l3 .9 1.6-1.5-3-.9z"/>
<path class="kc" d="M275 110.6l3.1 .9 1.5-1.5-3-.9z"/>
<path class="kb" d="M281.1 111.5l1.6-1.5 0-3.4-1.6 1.5z"/>
<path class="kc" d="M278.1 107.2l3 .9 1.6-1.5-3-1z"/>
<path class="ka" d="M281.1 113.3l3 1 0-1.8-3-1z"/>
<path class="kc" d="M281.1 111.5l3 1 1.6-1.6-3-.9z"/>
<path class="ka" d="M284.1 114.3l3 1 .1-4.9-3.1-.9z"/>
<path class="kb" d="M287.1 119.8l1.6-1.6 .1-9.3-1.6 1.5z"/>
<path class="kc" d="M284.1 109.5l3.1 .9 1.6-1.5-3.1-1z"/>
<path class="kb" d="M215.5 95.3l1.7-1.4-.1-2.6-1.7 1.5z"/>
<path class="kc" d="M212.6 91.9l2.8 .9 1.7-1.5-2.8-.8z"/>
<path class="ka" d="M215.6 97.2l2.8 .9-.1-1.9-2.8-.9z"/>
<path class="kb" d="M218.4 98.1l1.7-1.5-.1-1.9-1.7 1.5z"/>
<path class="kc" d="M215.5 95.3l2.8 .9 1.7-1.5-2.8-.8z"/>
<path class="kc" d="M218.4 98.1l2.8 .9 1.7-1.5-2.8-.9z"/>
<path class="kc" d="M221.2 99l2.8 .8 1.7-1.4-2.8-.9z"/>
<path class="ka" d="M224 99.7l2.8 .9-.2-7.2-2.9-.9z"/>
<path class="kb" d="M226.8 98.7l1.7-1.5-.2-5.3-1.7 1.5z"/>
<path class="kc" d="M223.7 92.5l2.9 .9 1.7-1.5-2.9-.9z"/>
<path class="ka" d="M226.8 100.7l2.9 .9-.1-2.1-2.8-.8z"/>
<path class="kc" d="M226.8 98.7l2.8 .8 1.7-1.4-2.8-.9z"/>
<path class="ka" d="M229.6 98.7l2.8 .8-.1-4.2-2.9-.9z"/>
<path class="kb" d="M232.4 99.3l1.7-1.5-.1-4-1.7 1.5z"/>
<path class="kc" d="M229.4 94.4l2.9 .9 1.7-1.5-2.9-.9z"/>
<path class="kc" d="M232.4 99.3l2.9 .9 1.6-1.5-2.8-.9z"/>
<path class="ka" d="M235.1 95.5l2.9 .8-.1-2.7-2.9-.9z"/>
<path class="kb" d="M238.1 98.7l1.6-1.5-.1-5.1-1.7 1.5z"/>
<path class="kc" d="M235 92.7l2.9 .9 1.7-1.5-2.9-.8z"/>
<path class="ka" d="M238.1 99.4l2.9 .9 0-.7-2.9-.9z"/>
<path class="kc" d="M238.1 98.7l2.9 .9 1.6-1.5-2.9-.9z"/>
<path class="kc" d="M240.9 96.4l2.9 .9 1.7-1.5-2.9-.9z"/>
<path class="ka" d="M243.9 100.8l2.9 .9-.2-7.8-2.9-.9z"/>
<path class="kb" d="M246.7 96.8l1.6-1.5 0-2.9-1.7 1.5z"/>
<path class="kc" d="M243.7 93l2.9 .9 1.7-1.5-2.9-.9z"/>
<path class="kb" d="M249.8 105.7l1.6-1.5-.1-8-1.7 1.5z"/>
<path class="kc" d="M246.7 96.8l2.9 .9 1.7-1.5-3-.9z"/>
<path class="kc" d="M249.8 105.7l2.9 .9 1.6-1.5-2.9-.9z"/>
<path class="kb" d="M255.5 102.9l1.7-1.5 0-.5-1.7 1.5z"/>
<path class="kc" d="M252.6 101.5l2.9 .9 1.7-1.5-3-.9z"/>
<path class="ka" d="M255.6 106.7l2.9 .9 0-3.8-3-.9z"/>
<path class="kc" d="M255.5 102.9l3 .9 1.6-1.5-2.9-.9z"/>
<path class="ka" d="M258.5 102.5l3 .9-.1-1.8-2.9-.9z"/>
<path class="kc" d="M258.5 100.7l2.9 .9 1.7-1.5-3-.9z"/>
<path class="ka" d="M261.4 99.7l3 .9 0-.7-3-.9z"/>
<path class="kb" d="M264.5 108.8l1.6-1.5-.1-8.9-1.6 1.5z"/>
<path class="kc" d="M261.4 99l3 .9 1.6-1.5-3-.9z"/>
<path class="ka" d="M264.5 108.9l2.9 .9 0 0-2.9-1z"/>
<path class="kc" d="M264.5 108.8l2.9 1 1.7-1.6-3-.9z"/>
<path class="kb" d="M270.4 109.9l1.6-1.5 0-5.2-1.6 1.5z"/>
<path class="kc" d="M267.4 103.8l3 .9 1.6-1.5-3-.9z"/>
<path class="kc" d="M270.4 109.9l3 1 1.6-1.6-3-.9z"/>
<path class="kc" d="M273.4 108.9l3.1 .9 1.6-1.6-3.1-.9z"/>
<path class="kb" d="M279.5 114.9l1.6-1.6 0-6-1.6 1.6z"/>
<path class="kc" d="M276.5 107.9l3 1 1.6-1.6-3-.9z"/>
<path class="kb" d="M282.5 115.9l1.6-1.6 0 0-1.6 1.6z"/>
<path class="kc" d="M279.5 114.9l3 1 1.6-1.6-3-1z"/>
<path class="kb" d="M285.5 121.4l1.6-1.6 0-4.5-1.5 1.5z"/>
<path class="kc" d="M282.5 115.9l3.1 .9 1.5-1.5-3-1z"/>
<path class="ka" d="M210.9 92.9l2.8 .9-.1-.7-2.8-.9z"/>
<path class="kb" d="M213.9 98.7l1.7-1.5-.2-5.6-1.8 1.5z"/>
<path class="kc" d="M210.8 92.2l2.8 .9 1.8-1.5-2.8-.9z"/>
<path class="kc" d="M213.9 98.7l2.8 .9 1.7-1.5-2.8-.9z"/>
<path class="ka" d="M216.6 98.7l2.9 .9 0 0-2.9-.9z"/>
<path class="kc" d="M216.6 98.7l2.9 .9 1.7-1.5-2.8-.9z"/>
<path class="ka" d="M219.4 98.9l2.8 .9-.1-3.8-2.8-.9z"/>
<path class="kb" d="M222.3 101.2l1.7-1.5-.2-5.2-1.7 1.5z"/>
<path class="kc" d="M219.3 95.1l2.8 .9 1.7-1.5-2.8-.9z"/>
<path class="kb" d="M225.1 102.2l1.7-1.5 0-.1-1.7 1.5z"/>
<path class="kc" d="M222.3 101.2l2.8 .9 1.7-1.5-2.8-.9z"/>
<path class="kc" d="M225.1 102.2l2.9 .9 1.7-1.5-2.9-.9z"/>
<path class="ka" d="M228 103.1l2.8 .9-.1-3-2.8-.9z"/>
<path class="kc" d="M227.9 100.1l2.8 .9 1.7-1.5-2.8-.8z"/>
<path class="kc" d="M230.7 99.5l2.8 .9 1.7-1.5-2.8-.9z"/>
<path class="ka" d="M233.6 101.6l2.9 .8-.2-4.6-2.9-.9z"/>
<path class="kb" d="M236.4 100.9l1.7-1.5-.1-3.1-1.7 1.5z"/>
<path class="kc" d="M233.4 96.9l2.9 .9 1.7-1.5-2.9-.8z"/>
<path class="kc" d="M236.4 100.9l2.9 .9 1.7-1.5-2.9-.9z"/>
<path class="ka" d="M239.2 96.2l2.9 .9-.1-.8-2.9-.9z"/>
<path class="kb" d="M242.2 102.3l1.7-1.5-.2-6-1.7 1.5z"/>
<path class="kc" d="M239.1 95.4l2.9 .9 1.7-1.5-2.9-.9z"/>
<path class="kc" d="M242.2 102.3l2.9 .9 1.7-1.5-2.9-.9z"/>
<path class="ka" d="M245.2 105.2l2.9 .9-.2-8.9-2.9-.9z"/>
<path class="kb" d="M247.9 99.7l1.7-1.5 0-2.5-1.7 1.5z"/>
<path class="kc" d="M245 96.3l2.9 .9 1.7-1.5-3-.9z"/>
<path class="ka" d="M248.1 105.7l2.9 .9-.1-6-3-.9z"/>
<path class="kb" d="M250.9 102.8l1.7-1.5 0-2.2-1.7 1.5z"/>
<path class="kc" d="M247.9 99.7l3 .9 1.7-1.5-3-.9z"/>
<path class="ka" d="M251 106.6l2.9 .9 0-3.7-3-1z"/>
<path class="kb" d="M253.9 108.2l1.7-1.5-.1-4.5-1.6 1.6z"/>
<path class="kc" d="M250.9 102.8l3 1 1.6-1.6-2.9-.9z"/>
<path class="kc" d="M253.9 108.2l3 .9 1.6-1.5-2.9-.9z"/>
<path class="kc" d="M256.8 104l3 .9 1.7-1.5-3-.9z"/>
<path class="ka" d="M259.8 106.5l3 1 0-5.4-3-.9z"/>
<path class="kb" d="M262.8 110.5l1.7-1.6-.1-8.3-1.6 1.5z"/>
<path class="kc" d="M259.8 101.2l3 .9 1.6-1.5-3-.9z"/>
<path class="kc" d="M262.8 110.5l3 .9 1.6-1.6-2.9-.9z"/>
<path class="ka" d="M265.8 112.2l3 1 0-7.4-3-1z"/>
<path class="kb" d="M268.8 107.1l1.6-1.5 0-1.4-1.6 1.6z"/>
<path class="kc" d="M265.8 104.8l3 1 1.6-1.6-3-.9z"/>
<path class="ka" d="M268.8 110.2l3 1 0-3.1-3-1z"/>
<path class="kb" d="M271.8 109l1.6-1.6 0-.9-1.6 1.6z"/>
<path class="kc" d="M268.8 107.1l3 1 1.6-1.6-3-.9z"/>
<path class="ka" d="M271.8 113.8l3.1 .9 0-4.8-3.1-.9z"/>
<path class="kc" d="M271.8 109l3.1 .9 1.6-1.5-3.1-1z"/>
<path class="ka" d="M274.9 110.6l3 .9 0-1.6-3-.9z"/>
<path class="kb" d="M277.9 112.9l1.6-1.6 0-2.9-1.6 1.5z"/>
<path class="kc" d="M274.9 109l3 .9 1.6-1.5-3-1z"/>
<path class="ka" d="M277.9 113.5l3 .9 .1-.5-3.1-1z"/>
<path class="kc" d="M277.9 112.9l3.1 1 1.5-1.6-3-1z"/>
<path class="kb" d="M284 123l1.5-1.6 .1-9.1-1.6 1.6z"/>
<path class="kc" d="M281 113l3 .9 1.6-1.6-3-.9z"/>
<path class="ka" d="M209.4 99.2l2.7 .9-.2-4.8-2.8-.9z"/>
<path class="kb" d="M212.1 99.4l1.7-1.4-.1-4.2-1.8 1.5z"/>
<path class="kc" d="M209.1 94.4l2.8 .9 1.8-1.5-2.8-.9z"/>
<path class="kc" d="M212.1 99.4l2.8 .9 1.7-1.5-2.8-.8z"/>
<path class="kc" d="M214.9 100.2l2.8 .9 1.8-1.5-2.9-.9z"/>
<path class="ka" d="M217.7 100.5l2.8 .9 0-.1-2.8-.9z"/>
<path class="kc" d="M217.7 100.4l2.8 .9 1.7-1.5-2.8-.9z"/>
<path class="kc" d="M220.4 97.5l2.8 .8 1.7-1.4-2.8-.9z"/>
<path class="ka" d="M223.2 97.4l2.8 .8 0-.4-2.8-.9z"/>
<path class="kb" d="M226.3 104.6l1.7-1.5-.3-6.8-1.7 1.5z"/>
<path class="kc" d="M223.2 96.9l2.8 .9 1.7-1.5-2.8-.8z"/>
<path class="kc" d="M226.3 104.6l2.8 .9 1.7-1.5-2.8-.9z"/>
<path class="ka" d="M228.8 97l2.9 .9 0-1.4-2.9-.9z"/>
<path class="kb" d="M231.9 103.1l1.7-1.5-.2-6.6-1.7 1.5z"/>
<path class="kc" d="M228.8 95.6l2.9 .9 1.7-1.5-2.9-.9z"/>
<path class="kc" d="M231.9 103.1l2.9 .9 1.7-1.6-2.9-.8z"/>
<path class="kc" d="M234.7 100.9l2.9 .9 1.7-1.5-2.9-.9z"/>
<path class="ka" d="M237.6 102.6l2.9 .9-.1-4.9-2.9-.9z"/>
<path class="kb" d="M240.4 98.9l1.7-1.5 0-.3-1.7 1.5z"/>
<path class="kc" d="M237.5 97.7l2.9 .9 1.7-1.5-2.9-.9z"/>
<path class="kb" d="M243.5 106.7l1.7-1.5-.2-6.9-1.7 1.5z"/>
<path class="kc" d="M240.4 98.9l2.9 .9 1.7-1.5-2.9-.9z"/>
<path class="kc" d="M243.5 106.7l2.9 .9 1.7-1.5-2.9-.9z"/>
<path class="kb" d="M249.3 108.1l1.7-1.5 0 0-1.7 1.5z"/>
<path class="kc" d="M246.4 107.2l2.9 .9 1.7-1.5-2.9-.9z"/>
<path class="kc" d="M249.3 108.1l3 1 1.6-1.6-2.9-.9z"/>
<path class="ka" d="M252.3 107.3l2.9 .9-.1-5.7-2.9-.9z"/>
<path class="kb" d="M255.2 103.9l1.6-1.5 0-1.5-1.7 1.6z"/>
<path class="kc" d="M252.2 101.6l2.9 .9 1.7-1.6-3-.9z"/>
<path class="kb" d="M258.2 108.1l1.6-1.6 0-3.2-1.7 1.5z"/>
<path class="kc" d="M255.2 103.9l2.9 .9 1.7-1.5-3-.9z"/>
<path class="ka" d="M258.2 108.9l3 .9 0-.8-3-.9z"/>
<path class="kb" d="M261.2 110.9l1.6-1.6 0-1.8-1.6 1.5z"/>
<path class="kc" d="M258.2 108.1l3 .9 1.6-1.5-3-1z"/>
<path class="kb" d="M264.2 113.8l1.6-1.6 0-2-1.6 1.6z"/>
<path class="kc" d="M261.2 110.9l3 .9 1.6-1.6-3-.9z"/>
<path class="ka" d="M264.2 113.8l3 1 0-.1-3-.9z"/>
<path class="kc" d="M264.2 113.8l3 .9 1.6-1.5-3-1z"/>
<path class="kb" d="M270.2 115.4l1.6-1.6 0-2.6-1.6 1.5z"/>
<path class="kc" d="M267.2 111.8l3 .9 1.6-1.5-3-1z"/>
<path class="kc" d="M270.2 115.4l3 .9 1.7-1.6-3.1-.9z"/>
<path class="kb" d="M276.3 115.1l1.6-1.6 0-2-1.6 1.6z"/>
<path class="kc" d="M273.2 112.1l3.1 1 1.6-1.6-3-.9z"/>
<path class="kc" d="M276.3 115.1l3 .9 1.6-1.6-3-.9z"/>
<path class="ka" d="M279.4 112.8l3 .9 0-.7-3-1z"/>
<path class="kb" d="M282.4 124.6l1.6-1.6 0-11.6-1.6 1.6z"/>
<path class="kc" d="M279.4 112l3 1 1.6-1.6-3-.9z"/>
<path class="ka" d="M207.7 103.1l2.8 .9-.1-2.4-2.8-.9z"/>
<path class="kc" d="M207.6 100.7l2.8 .9 1.7-1.5-2.7-.9z"/>
<path class="ka" d="M210.5 104l2.8 .9-.3-6.4-2.8-.9z"/>
<path class="kb" d="M213 98.8l1.8-1.4 0-.4-1.8 1.5z"/>
<path class="kc" d="M210.2 97.6l2.8 .9 1.8-1.5-2.8-.9z"/>
<path class="ka" d="M213.3 104.9l2.8 .8-.2-6-2.9-.9z"/>
<path class="kb" d="M216 102l1.7-1.5-.1-2.3-1.7 1.5z"/>
<path class="kc" d="M213 98.8l2.9 .9 1.7-1.5-2.8-.8z"/>
<path class="ka" d="M216.1 105.7l2.9 .9-.2-3.7-2.8-.9z"/>
<path class="kc" d="M216 102l2.8 .9 1.7-1.5-2.8-.9z"/>
<path class="ka" d="M219 106.6l2.8 .9-.4-9.2-2.8-.9z"/>
<path class="kb" d="M221.4 98.8l1.8-1.4 0-.6-1.8 1.5z"/>
<path class="kc" d="M218.6 97.4l2.8 .9 1.8-1.5-2.9-.8z"/>
<path class="ka" d="M221.8 107.5l2.8 .9-.3-8.7-2.9-.9z"/>
<path class="kb" d="M224.5 105.5l1.7-1.5-.2-5.8-1.7 1.5z"/>
<path class="kc" d="M221.4 98.8l2.9 .9 1.7-1.5-2.8-.8z"/>
<path class="ka" d="M224.6 108.4l2.9 .9-.1-2.9-2.9-.9z"/>
<path class="kc" d="M224.5 105.5l2.9 .9 1.7-1.5-2.9-.9z"/>
<path class="ka" d="M227.5 109.3l2.9 1-.4-10.9-2.9-.9z"/>
<path class="kc" d="M227.1 98.5l2.9 .9 1.7-1.5-2.9-.9z"/>
<path class="ka" d="M230.4 110.3l2.8 .9-.4-13.1-2.9-.9z"/>
<path class="kb" d="M232.9 100.2l1.7-1.5-.1-2.1-1.7 1.5z"/>
<path class="kc" d="M229.9 97.2l2.9 .9 1.7-1.5-2.9-.9z"/>
<path class="ka" d="M233.2 111.2l2.9 .9-.3-11-2.9-.9z"/>
<path class="kb" d="M235.9 104.1l1.7-1.5-.1-3-1.7 1.5z"/>
<path class="kc" d="M232.9 100.2l2.9 .9 1.7-1.5-2.9-.9z"/>
<path class="ka" d="M236.1 112.1l2.9 .9-.2-8-2.9-.9z"/>
<path class="kc" d="M235.9 104.1l2.9 .9 1.7-1.5-2.9-.9z"/>
<path class="ka" d="M239 113l2.9 .9-.3-12.7-2.9-.9z"/>
<path class="kb" d="M241.8 107.4l1.7-1.5-.2-6.2-1.7 1.5z"/>
<path class="kc" d="M238.7 100.3l2.9 .9 1.7-1.5-2.9-.9z"/>
<path class="ka" d="M241.9 113.9l3 1-.2-6.6-2.9-.9z"/>
<path class="kc" d="M241.8 107.4l2.9 .9 1.7-1.5-2.9-.9z"/>
<path class="ka" d="M244.9 114.9l2.9 .9-.2-10.3-3-.9z"/>
<path class="kb" d="M247.6 107.8l1.7-1.6 0-2.3-1.7 1.6z"/>
<path class="kc" d="M244.6 104.6l3 .9 1.7-1.6-3-.9z"/>
<path class="ka" d="M247.8 115.8l2.9 .9-.1-8-3-.9z"/>
<path class="kb" d="M250.6 108.8l1.7-1.5-.1-.2-1.6 1.6z"/>
<path class="kc" d="M247.6 107.8l3 .9 1.6-1.6-2.9-.9z"/>
<path class="ka" d="M250.7 116.7l3 1-.1-7.9-3-1z"/>
<path class="kc" d="M250.6 108.8l3 1 1.6-1.6-2.9-.9z"/>
<path class="ka" d="M253.7 117.7l2.9 .9-.1-12.9-3-.9z"/>
<path class="kb" d="M256.5 110.4l1.7-1.5-.1-4.7-1.6 1.5z"/>
<path class="kc" d="M253.5 104.8l3 .9 1.6-1.5-3-1z"/>
<path class="ka" d="M256.6 118.6l3 .9-.1-8.1-3-1z"/>
<path class="kc" d="M256.5 110.4l3 1 1.7-1.6-3-.9z"/>
<path class="ka" d="M259.6 119.5l3 1-.1-13-3-.9z"/>
<path class="kb" d="M262.6 115.4l1.6-1.6-.1-7.9-1.6 1.6z"/>
<path class="kc" d="M259.5 106.6l3 .9 1.6-1.6-3-.9z"/>
<path class="ka" d="M262.6 120.5l3 .9 0-5-3-1z"/>
<path class="kc" d="M262.6 115.4l3 1 1.6-1.6-3-1z"/>
<path class="ka" d="M265.6 121.4l3 1 0-8.7-3.1-.9z"/>
<path class="kb" d="M268.6 114.6l1.6-1.6 0-.9-1.6 1.6z"/>
<path class="kc" d="M265.5 112.8l3.1 .9 1.6-1.6-3-.9z"/>
<path class="ka" d="M268.6 122.4l3 1 0-7.8-3-1z"/>
<path class="kc" d="M268.6 114.6l3 1 1.6-1.6-3-1z"/>
<path class="ka" d="M271.6 123.4l3.1 .9 0-10.8-3.1-.9z"/>
<path class="kb" d="M274.7 116.3l1.6-1.6 0-2.8-1.6 1.6z"/>
<path class="kc" d="M271.6 112.6l3.1 .9 1.6-1.6-3.1-.9z"/>
<path class="ka" d="M274.7 124.3l3 1 0-8-3-1z"/>
<path class="kc" d="M274.7 116.3l3 1 1.6-1.6-3-1z"/>
<path class="ka" d="M277.7 125.3l3.1 1 0-11-3.1-.9z"/>
<path class="kb" d="M280.8 126.3l1.6-1.7 0-10.9-1.6 1.6z"/>
<path class="kc" d="M277.7 114.4l3.1 .9 1.6-1.6-3-.9z"/>
</g>
<line x1="200.4" y1="105.2" x2="282" y2="131.4" stroke="#222" stroke-width="0.7"/>
<line x1="282" y1="131.4" x2="324.8" y2="87.1" stroke="#222" stroke-width="0.7"/>
<line x1="324.8" y1="87.1" x2="327.1" y2="27.7" stroke="#222" stroke-width="0.7"/>
<line x1="203.9" y1="106.3" x2="201.4" y2="108.4" stroke="#222" stroke-width="0.6"/>
<line x1="232.7" y1="115.6" x2="230.3" y2="117.7" stroke="#222" stroke-width="0.6"/>
<line x1="262.7" y1="125.2" x2="260.4" y2="127.4" stroke="#222" stroke-width="0.6"/>
<text x="200.5" y="122.5" font-family="'Liberation Serif',serif" font-size="10.4" text-anchor="middle">0.0</text>
<text x="228.5" y="132.3" font-family="'Liberation Serif',serif" font-size="10.4" text-anchor="middle">0.2</text>
<text x="257" y="141.8" font-family="'Liberation Serif',serif" font-size="10.4" text-anchor="middle">0.4</text>
<line x1="284.1" y1="129.2" x2="288.2" y2="130.5" stroke="#222" stroke-width="0.6"/>
<line x1="300.4" y1="112.3" x2="304.5" y2="113.5" stroke="#222" stroke-width="0.6"/>
<line x1="315.8" y1="96.5" x2="319.7" y2="97.6" stroke="#222" stroke-width="0.6"/>
<text x="291.5" y="144" font-family="'Liberation Serif',serif" font-size="10.4" text-anchor="middle">0.0</text>
<text x="308" y="127.5" font-family="'Liberation Serif',serif" font-size="10.4" text-anchor="middle">0.2</text>
<text x="322" y="111.8" font-family="'Liberation Serif',serif" font-size="10.4" text-anchor="middle">0.4</text>
<line x1="324.8" y1="87.1" x2="327.3" y2="87.1" stroke="#222" stroke-width="0.6"/>
<line x1="325.5" y1="69.3" x2="328" y2="69.3" stroke="#222" stroke-width="0.6"/>
<line x1="326.3" y1="50.3" x2="328.8" y2="50.3" stroke="#222" stroke-width="0.6"/>
<line x1="327" y1="31.1" x2="329.5" y2="31.1" stroke="#222" stroke-width="0.6"/>
<text x="345" y="35" font-family="'Liberation Serif',serif" font-size="10.4" text-anchor="end">0.0</text>
<text x="345" y="54.8" font-family="'Liberation Serif',serif" font-size="10.4" text-anchor="end">−0.1</text>
<text x="345" y="74.2" font-family="'Liberation Serif',serif" font-size="10.4" text-anchor="end">−0.2</text>
<text x="345" y="91.5" font-family="'Liberation Serif',serif" font-size="10.4" text-anchor="end">−0.3</text>
<text font-family="'Liberation Serif',serif" font-size="11.6" font-style="italic" text-anchor="middle" transform="translate(225.5 148.3) rotate(17)">X (m)</text>
<text font-family="'Liberation Serif',serif" font-size="11.4" text-anchor="middle" transform="translate(326.6 131) rotate(-52)">Y (m)</text>
<text font-family="'Liberation Serif',serif" font-size="11" text-anchor="middle" transform="translate(359.5 55.4) rotate(-90)">Z (m)</text>
<text x="264.1" y="38.7" font-family="'Liberation Serif',serif" font-size="9.8" text-anchor="middle">Neighborhood DEM grids</text>
<text x="286" y="64.5" font-family="'Liberation Serif',serif" font-size="16.5"><tspan font-style="italic">e</tspan><tspan font-size="8.6" dy="2.6">0</tspan></text>
<polygon points="266.8,89.4 273,84.8 279.8,89.4 274.2,94.4" fill="none" stroke="#ff0000" stroke-width="1.2" stroke-linejoin="round"/>
<line x1="262.6" y1="56.8" x2="267.3" y2="79.1" stroke="#ff0000" stroke-width="1.2"/>
<polygon points="268.5,85 264.6,79.2 269.7,78.1" fill="#ff0000"/>
<line x1="289" y1="70.3" x2="280.9" y2="81" stroke="#ff0000" stroke-width="1.2"/>
<polygon points="277.3,85.8 279.1,79 283.3,82.2" fill="#ff0000"/>
<text x="189.5" y="17.5" font-family="'Liberation Serif',serif" font-size="19" font-weight="bold" text-anchor="middle">b</text>
</g>
<g id="panel-c">
<polygon points="383.2,110.3 464.8,136.5 507.6,92.2 430.7,70.3" fill="#fbfbfb" stroke="#cccccc" stroke-width="0.5" stroke-linejoin="round"/>
<polygon points="383.2,110.3 430.7,70.3 429.6,12.9 379.8,49.4" fill="#fbfbfb" stroke="#cccccc" stroke-width="0.5" stroke-linejoin="round"/>
<polygon points="430.7,70.3 507.6,92.2 509.9,32.8 429.6,12.9" fill="#fbfbfb" stroke="#cccccc" stroke-width="0.5" stroke-linejoin="round"/>
<line x1="386.7" y1="111.4" x2="434" y2="71.3" stroke="#b6b6b6" stroke-width="0.6"/>
<line x1="434" y1="71.3" x2="433" y2="13.7" stroke="#b6b6b6" stroke-width="0.6"/>
<line x1="410.6" y1="119.1" x2="456.7" y2="77.7" stroke="#b6b6b6" stroke-width="0.6"/>
<line x1="456.7" y1="77.7" x2="456.6" y2="19.6" stroke="#b6b6b6" stroke-width="0.6"/>
<line x1="435.4" y1="127" x2="480" y2="84.4" stroke="#b6b6b6" stroke-width="0.6"/>
<line x1="480" y1="84.4" x2="481" y2="25.6" stroke="#b6b6b6" stroke-width="0.6"/>
<line x1="460.9" y1="135.2" x2="504" y2="91.2" stroke="#b6b6b6" stroke-width="0.6"/>
<line x1="504" y1="91.2" x2="506.1" y2="31.9" stroke="#b6b6b6" stroke-width="0.6"/>
<line x1="385.5" y1="108.4" x2="466.9" y2="134.3" stroke="#b6b6b6" stroke-width="0.6"/>
<line x1="385.5" y1="108.4" x2="382.2" y2="47.6" stroke="#b6b6b6" stroke-width="0.6"/>
<line x1="400.7" y1="95.6" x2="480.6" y2="120.2" stroke="#b6b6b6" stroke-width="0.6"/>
<line x1="400.7" y1="95.6" x2="398.1" y2="35.9" stroke="#b6b6b6" stroke-width="0.6"/>
<line x1="415.1" y1="83.5" x2="493.6" y2="106.7" stroke="#b6b6b6" stroke-width="0.6"/>
<line x1="415.1" y1="83.5" x2="413.2" y2="24.9" stroke="#b6b6b6" stroke-width="0.6"/>
<line x1="428.7" y1="72" x2="505.9" y2="94.1" stroke="#b6b6b6" stroke-width="0.6"/>
<line x1="428.7" y1="72" x2="427.5" y2="14.4" stroke="#b6b6b6" stroke-width="0.6"/>
<line x1="383.2" y1="110.3" x2="430.7" y2="70.3" stroke="#b6b6b6" stroke-width="0.6"/>
<line x1="430.7" y1="70.3" x2="507.6" y2="92.2" stroke="#b6b6b6" stroke-width="0.6"/>
<line x1="382.2" y1="92" x2="430.4" y2="53" stroke="#b6b6b6" stroke-width="0.6"/>
<line x1="430.4" y1="53" x2="508.3" y2="74.4" stroke="#b6b6b6" stroke-width="0.6"/>
<line x1="381.1" y1="73.2" x2="430" y2="35.3" stroke="#b6b6b6" stroke-width="0.6"/>
<line x1="430" y1="35.3" x2="509" y2="56" stroke="#b6b6b6" stroke-width="0.6"/>
<line x1="380" y1="53.8" x2="429.7" y2="17.1" stroke="#b6b6b6" stroke-width="0.6"/>
<line x1="429.7" y1="17.1" x2="509.8" y2="37.1" stroke="#b6b6b6" stroke-width="0.6"/>
<g stroke-width=".2" stroke-linejoin="round">
<path class="kd" d="M418.5 84.5l23 6.8-.1-8.6-23.2-6.7z"/>
<path class="ke" d="M441.5 91.3l13.2-11.9 0-8.4-13.3 11.7z"/>
<path class="kf" d="M418.2 76l23.2 6.7 13.3-11.7-22.8-6.4z"/>
<path class="kg" d="M441.5 91.3l23.9 7.1 0-7.2-24-7z"/>
<path class="kh" d="M465.4 98.4l12.8-12.3 .1-7-12.9 12.1z"/>
<path class="ki" d="M441.4 84.2l24 7 12.9-12.1-23.6-6.7z"/>
<path class="kj" d="M465.4 98.4l24.5 7.2 0-1.1-24.5-7.3z"/>
<path class="kk" d="M489.9 105.6l12.3-12.6 .1-1.1-12.4 12.6z"/>
<path class="kl" d="M465.4 97.2l24.5 7.3 12.4-12.6-24.1-6.9z"/>
<path class="km" d="M404.1 96.7l23.5 7.2-.2-9-23.7-7.2z"/>
<path class="kn" d="M427.6 103.9l13.9-12.6-.1-8.8-14 12.4z"/>
<path class="ko" d="M403.7 87.7l23.7 7.2 14-12.4-23.2-6.8z"/>
<path class="kp" d="M427.6 103.9l24.2 7.4 0-1.4-24.3-7.5z"/>
<path class="kq" d="M451.8 111.3l13.6-12.9 0-1.5-13.6 13z"/>
<path class="kr" d="M427.5 102.4l24.3 7.5 13.6-13-23.9-7z"/>
<path class="ks" d="M451.8 111.3l25 7.7 0-1.2-25-7.6z"/>
<path class="kt" d="M476.8 119l13.1-13.4 0-1.1-13.1 13.3z"/>
<path class="ku" d="M451.8 110.2l25 7.6 13.1-13.3-24.5-7.3z"/>
<path class="kv" d="M389 109.5l23.9 7.6-.1-.7-23.8-7.6z"/>
<path class="kw" d="M412.9 117.1l14.7-13.2-.1-.7-14.7 13.2z"/>
<path class="kx" d="M389 108.8l23.8 7.6 14.7-13.2-23.4-7.2z"/>
<path class="ky" d="M412.9 117.1l24.7 7.9 0-.8-24.8-7.8z"/>
<path class="kz" d="M437.6 125l14.2-13.7 0-.7-14.2 13.6z"/>
<path class="kaa" d="M412.8 116.4l24.8 7.8 14.2-13.6-24.3-7.4z"/>
<path class="kab" d="M437.6 125l25.4 8.1 0-4.2-25.5-8.1z"/>
<path class="kac" d="M463 133.1l13.8-14.1 .1-4.1-13.9 14z"/>
<path class="kad" d="M437.5 120.8l25.5 8.1 13.9-14-25.1-7.7z"/>
</g>
<text x="440.3" y="77.3" font-family="'Liberation Serif',serif" font-size="20" text-anchor="middle"><tspan font-style="italic">e</tspan><tspan font-size="10.5" dy="3">3</tspan></text>
<text x="427" y="91.5" font-family="'Liberation Serif',serif" font-size="20" text-anchor="middle"><tspan font-style="italic">e</tspan><tspan font-size="10.5" dy="3">2</tspan></text>
<text x="412.5" y="109" font-family="'Liberation Serif',serif" font-size="20" text-anchor="middle"><tspan font-style="italic">e</tspan><tspan font-size="10.5" dy="3">1</tspan></text>
<text x="449" y="104.1" font-family="'Liberation Serif',serif" font-size="20" text-anchor="middle"><tspan font-style="italic">e</tspan><tspan font-size="10.5" dy="3">0</tspan></text>
<text x="462.2" y="87" font-family="'Liberation Serif',serif" font-size="20" text-anchor="middle"><tspan font-style="italic">e</tspan><tspan font-size="10.5" dy="3">5</tspan></text>
<text x="486.2" y="98.6" font-family="'Liberation Serif',serif" font-size="20" text-anchor="middle"><tspan font-style="italic">e</tspan><tspan font-size="10.5" dy="3">8</tspan></text>
<text x="474.6" y="109.2" font-family="'Liberation Serif',serif" font-size="20" text-anchor="middle"><tspan font-style="italic">e</tspan><tspan font-size="10.5" dy="3">7</tspan></text>
<text x="434" y="118.1" font-family="'Liberation Serif',serif" font-size="20" text-anchor="middle"><tspan font-style="italic">e</tspan><tspan font-size="10.5" dy="3">4</tspan></text>
<text x="461.5" y="121.1" font-family="'Liberation Serif',serif" font-size="20" text-anchor="middle"><tspan font-style="italic">e</tspan><tspan font-size="10.5" dy="3">6</tspan></text>
<line x1="383.2" y1="110.3" x2="464.8" y2="136.5" stroke="#222" stroke-width="0.7"/>
<line x1="464.8" y1="136.5" x2="507.6" y2="92.2" stroke="#222" stroke-width="0.7"/>
<line x1="507.6" y1="92.2" x2="509.9" y2="32.8" stroke="#222" stroke-width="0.7"/>
<line x1="386.7" y1="111.4" x2="384.2" y2="113.5" stroke="#222" stroke-width="0.6"/>
<line x1="410.6" y1="119.1" x2="408.2" y2="121.3" stroke="#222" stroke-width="0.6"/>
<line x1="435.4" y1="127" x2="433.1" y2="129.3" stroke="#222" stroke-width="0.6"/>
<line x1="460.9" y1="135.2" x2="458.7" y2="137.5" stroke="#222" stroke-width="0.6"/>
<line x1="466.9" y1="134.3" x2="471" y2="135.6" stroke="#222" stroke-width="0.6"/>
<line x1="480.6" y1="120.2" x2="484.6" y2="121.4" stroke="#222" stroke-width="0.6"/>
<line x1="493.6" y1="106.7" x2="497.5" y2="107.9" stroke="#222" stroke-width="0.6"/>
<line x1="505.9" y1="94.1" x2="509.8" y2="95.2" stroke="#222" stroke-width="0.6"/>
<line x1="507.6" y1="92.2" x2="510.1" y2="92.2" stroke="#222" stroke-width="0.6"/>
<line x1="508.3" y1="74.4" x2="510.8" y2="74.4" stroke="#222" stroke-width="0.6"/>
<line x1="509" y1="56" x2="511.5" y2="56" stroke="#222" stroke-width="0.6"/>
<line x1="509.8" y1="37.1" x2="512.3" y2="37.1" stroke="#222" stroke-width="0.6"/>
<text x="383.5" y="127" font-family="'Liberation Serif',serif" font-size="10.4" text-anchor="middle">0.44</text>
<text x="406.5" y="136" font-family="'Liberation Serif',serif" font-size="10.4" text-anchor="middle">0.46</text>
<text x="431" y="144.5" font-family="'Liberation Serif',serif" font-size="10.4" text-anchor="middle">0.48</text>
<text x="455.5" y="152.5" font-family="'Liberation Serif',serif" font-size="10.4" text-anchor="middle">0.50</text>
<text x="474.5" y="149.6" font-family="'Liberation Serif',serif" font-size="10.4" text-anchor="middle">0.44</text>
<text x="487" y="136.2" font-family="'Liberation Serif',serif" font-size="10.4" text-anchor="middle">0.46</text>
<text x="500" y="123.2" font-family="'Liberation Serif',serif" font-size="10.4" text-anchor="middle">0.48</text>
<text x="512.5" y="110.8" font-family="'Liberation Serif',serif" font-size="10.4" text-anchor="middle">0.50</text>
<text x="528.6" y="41" font-family="'Liberation Serif',serif" font-size="10.4" text-anchor="end">0.0</text>
<text x="528.6" y="60.8" font-family="'Liberation Serif',serif" font-size="10.4" text-anchor="end">−0.1</text>
<text x="528.6" y="79.3" font-family="'Liberation Serif',serif" font-size="10.4" text-anchor="end">−0.2</text>
<text x="528.6" y="97.5" font-family="'Liberation Serif',serif" font-size="10.4" text-anchor="end">−0.3</text>
<text font-family="'Liberation Serif',serif" font-size="11.6" font-style="italic" text-anchor="middle" transform="translate(409.5 153.8) rotate(17)">X (m)</text>
<text font-family="'Liberation Serif',serif" font-size="11.4" text-anchor="middle" transform="translate(511.5 135.8) rotate(-52)">Y (m)</text>
<text font-family="'Liberation Serif',serif" font-size="11" text-anchor="middle" transform="translate(543.2 59.2) rotate(-90)">Z (m)</text>
<line x1="279.3" y1="90.3" x2="374.5" y2="90.3" stroke="#ff0000" stroke-width="1.2"/>
<polygon points="381.5,90.3 374,93.1 374,87.5" fill="#ff0000"/>
<text x="382" y="14" font-family="'Liberation Sans',sans-serif" font-size="16" font-weight="bold" text-anchor="middle">c</text>
</g>
<g id="panel-d">
<polygon points="105.1,303.3 151.6,279 151.6,200.1 102.6,210.9" fill="#fff" stroke="#cfcfcf" stroke-width="0.4" stroke-linejoin="round"/>
<polygon points="151.6,279 204.6,297.2 206.5,208.9 151.6,200.1" fill="#fff" stroke="#cfcfcf" stroke-width="0.4" stroke-linejoin="round"/>
<polygon points="105.1,303.3 161.8,329.8 204.6,297.2 151.6,279" fill="#fff" stroke="#cfcfcf" stroke-width="0.4" stroke-linejoin="round"/>
<line x1="105.1" y1="303.3" x2="151.6" y2="279" stroke="#d4d4d4" stroke-width="0.4"/>
<line x1="151.6" y1="279" x2="204.6" y2="297.2" stroke="#d4d4d4" stroke-width="0.4"/>
<line x1="104.8" y1="291.8" x2="151.6" y2="269.1" stroke="#d4d4d4" stroke-width="0.4"/>
<line x1="151.6" y1="269.1" x2="204.8" y2="286.2" stroke="#d4d4d4" stroke-width="0.4"/>
<line x1="104.5" y1="280.2" x2="151.6" y2="259.3" stroke="#d4d4d4" stroke-width="0.4"/>
<line x1="151.6" y1="259.3" x2="205.1" y2="275.1" stroke="#d4d4d4" stroke-width="0.4"/>
<line x1="104.2" y1="268.6" x2="151.6" y2="249.4" stroke="#d4d4d4" stroke-width="0.4"/>
<line x1="151.6" y1="249.4" x2="205.3" y2="264.1" stroke="#d4d4d4" stroke-width="0.4"/>
<line x1="103.8" y1="257.1" x2="151.6" y2="239.6" stroke="#d4d4d4" stroke-width="0.4"/>
<line x1="151.6" y1="239.6" x2="205.6" y2="253.1" stroke="#d4d4d4" stroke-width="0.4"/>
<line x1="103.5" y1="245.6" x2="151.6" y2="229.7" stroke="#d4d4d4" stroke-width="0.4"/>
<line x1="151.6" y1="229.7" x2="205.8" y2="242" stroke="#d4d4d4" stroke-width="0.4"/>
<line x1="103.2" y1="234" x2="151.6" y2="219.8" stroke="#d4d4d4" stroke-width="0.4"/>
<line x1="151.6" y1="219.8" x2="206" y2="231" stroke="#d4d4d4" stroke-width="0.4"/>
<line x1="102.9" y1="222.4" x2="151.6" y2="210" stroke="#d4d4d4" stroke-width="0.4"/>
<line x1="151.6" y1="210" x2="206.3" y2="219.9" stroke="#d4d4d4" stroke-width="0.4"/>
<line x1="102.6" y1="210.9" x2="151.6" y2="200.1" stroke="#d4d4d4" stroke-width="0.4"/>
<line x1="151.6" y1="200.1" x2="206.5" y2="208.9" stroke="#d4d4d4" stroke-width="0.4"/>
<line x1="115.1" y1="298.1" x2="113.1" y2="208.6" stroke="#d4d4d4" stroke-width="0.4"/>
<line x1="160.9" y1="282.2" x2="161.3" y2="201.6" stroke="#d4d4d4" stroke-width="0.4"/>
<line x1="124.8" y1="293" x2="123.4" y2="206.3" stroke="#d4d4d4" stroke-width="0.4"/>
<line x1="171.3" y1="285.8" x2="172" y2="203.4" stroke="#d4d4d4" stroke-width="0.4"/>
<line x1="134.3" y1="288" x2="133.4" y2="204.1" stroke="#d4d4d4" stroke-width="0.4"/>
<line x1="182.1" y1="289.5" x2="183.2" y2="205.2" stroke="#d4d4d4" stroke-width="0.4"/>
<line x1="143.4" y1="283.3" x2="143" y2="202" stroke="#d4d4d4" stroke-width="0.4"/>
<line x1="193.2" y1="293.3" x2="194.7" y2="207" stroke="#d4d4d4" stroke-width="0.4"/>
<g stroke-width=".15" stroke-linejoin="round">
<path class="kae" d="M105.9 303.3l55.4 25.8 0-2.6-55.4-25.6z"/>
<path class="kaf" d="M161.3 329.1l41.9-31.7 0-2.3-41.9 31.4z"/>
<path class="kag" d="M105.9 300.9l55.4 25.6 41.9-31.4-51.9-17.6z"/>
<path class="kah" d="M152.3 280l2.7 .9 0-2.4-2.7-.9z"/>
<path class="kai" d="M155 280.9l2.2-1.2 0-2.4-2.2 1.2z"/>
<path class="kaj" d="M152.3 277.6l2.7 .9 2.2-1.2-2.6-.9z"/>
<path class="kah" d="M158.9 282.3l2.6 .9 0-2.7-2.6-.9z"/>
<path class="kai" d="M161.5 283.2l2.2-1.3 0-2.6-2.2 1.2z"/>
<path class="kaj" d="M158.9 279.6l2.6 .9 2.2-1.2-2.6-.9z"/>
<path class="kah" d="M165.4 284.5l2.6 .9 0-2.8-2.6-.9z"/>
<path class="kai" d="M168 285.4l2.2-1.3 0-2.8-2.2 1.3z"/>
<path class="kaj" d="M165.4 281.7l2.6 .9 2.2-1.3-2.6-.9z"/>
<path class="kah" d="M171.9 286.8l2.6 .9 0-2.7-2.6-.9z"/>
<path class="kai" d="M174.5 287.7l2.2-1.4 0-2.7-2.2 1.4z"/>
<path class="kaj" d="M171.9 284.1l2.6 .9 2.2-1.4-2.6-.8z"/>
<path class="kah" d="M178.4 289.1l2.6 .9 0-3.1-2.6-.8z"/>
<path class="kai" d="M181 290l2.2-1.4 0-3-2.2 1.3z"/>
<path class="kaj" d="M178.4 286.1l2.6 .8 2.2-1.3-2.6-.9z"/>
<path class="kah" d="M184.9 291.3l2.6 .9 0-2.6-2.6-.9z"/>
<path class="kai" d="M187.5 292.2l2.1-1.4 .1-2.6-2.2 1.4z"/>
<path class="kaj" d="M184.9 288.7l2.6 .9 2.2-1.4-2.6-.9z"/>
<path class="kah" d="M191.4 293.6l2.6 .9 .1-3.1-2.6-.9z"/>
<path class="kai" d="M194 294.5l2.1-1.5 .1-3.1-2.1 1.5z"/>
<path class="kaj" d="M191.5 290.5l2.6 .9 2.1-1.5-2.6-.9z"/>
<path class="kah" d="M197.9 295.9l2.6 .9 .1-2.3-2.6-.9z"/>
<path class="kai" d="M200.5 296.8l2.1-1.6 .1-2.2-2.1 1.5z"/>
<path class="kaj" d="M198 293.6l2.6 .9 2.1-1.5-2.6-.9z"/>
<path class="kah" d="M146.3 280.4l2.6 .9 0-2.2-2.7-.9z"/>
<path class="kai" d="M148.9 281.3l2.2-1.2 0-2.2-2.2 1.2z"/>
<path class="kaj" d="M146.2 278.2l2.7 .9 2.2-1.2-2.6-.9z"/>
<path class="kak" d="M149.5 281.5l2.6 .9 0-4.3-2.6-.9z"/>
<path class="kal" d="M152.1 282.4l2.3-1.2 0-4.3-2.3 1.2z"/>
<path class="kam" d="M149.5 277.2l2.6 .9 2.3-1.2-2.6-.9z"/>
<path class="kak" d="M152.8 282.7l2.6 .9 0-4.7-2.6-.9z"/>
<path class="kal" d="M155.4 283.6l2.2-1.2 .1-4.7-2.3 1.2z"/>
<path class="kam" d="M152.8 278l2.6 .9 2.3-1.2-2.7-.9z"/>
<path class="kak" d="M156.1 283.8l2.6 1 0-4.8-2.6-.9z"/>
<path class="kal" d="M158.7 284.8l2.2-1.3 0-4.8-2.2 1.3z"/>
<path class="kam" d="M156.1 279.1l2.6 .9 2.2-1.3-2.6-.9z"/>
<path class="kak" d="M159.3 285l2.6 .9 .1-4.6-2.7-.9z"/>
<path class="kal" d="M161.9 285.9l2.3-1.3 0-4.6-2.2 1.3z"/>
<path class="kam" d="M159.3 280.4l2.7 .9 2.2-1.3-2.6-.8z"/>
<path class="kan" d="M162.6 286.2l2.6 .9 0-3.7-2.6-.9z"/>
<path class="kao" d="M165.2 287.1l2.2-1.3 0-3.7-2.2 1.3z"/>
<path class="kap" d="M162.6 282.5l2.6 .9 2.2-1.3-2.6-.9z"/>
<path class="kaq" d="M165.9 287.3l2.6 1 0-4.1-2.6-.9z"/>
<path class="kar" d="M168.5 288.3l2.2-1.4 0-4-2.2 1.3z"/>
<path class="kas" d="M165.9 283.3l2.6 .9 2.2-1.3-2.6-.9z"/>
<path class="kak" d="M169.1 288.5l2.7 .9 0-4.7-2.6-.9z"/>
<path class="kal" d="M171.8 289.4l2.1-1.3 .1-4.7-2.2 1.3z"/>
<path class="kam" d="M169.2 283.8l2.6 .9 2.2-1.3-2.6-.9z"/>
<path class="kaq" d="M172.4 289.7l2.6 .9 .1-4.5-2.7-.9z"/>
<path class="kar" d="M175 290.6l2.2-1.4 0-4.4-2.1 1.3z"/>
<path class="kas" d="M172.4 285.2l2.7 .9 2.1-1.3-2.6-.9z"/>
<path class="kaq" d="M175.7 290.8l2.6 .9 0-4.4-2.6-.9z"/>
<path class="kar" d="M178.3 291.7l2.2-1.4 0-4.4-2.2 1.4z"/>
<path class="kas" d="M175.7 286.4l2.6 .9 2.2-1.4-2.6-.9z"/>
<path class="kan" d="M178.9 292l2.7 .9 0-3.9-2.6-.9z"/>
<path class="kao" d="M181.6 292.9l2.1-1.4 .1-3.9-2.2 1.4z"/>
<path class="kap" d="M179 288.1l2.6 .9 2.2-1.4-2.7-.9z"/>
<path class="kan" d="M182.2 293.1l2.6 1 .1-3.5-2.7-.9z"/>
<path class="kao" d="M184.8 294.1l2.2-1.5 0-3.5-2.1 1.5z"/>
<path class="kap" d="M182.2 289.7l2.7 .9 2.1-1.5-2.6-.9z"/>
<path class="kat" d="M185.5 294.3l2.6 .9 0-3.4-2.6-.9z"/>
<path class="kau" d="M188.1 295.2l2.1-1.5 .1-3.3-2.2 1.4z"/>
<path class="kav" d="M185.5 290.9l2.6 .9 2.2-1.4-2.6-.9z"/>
<path class="kan" d="M188.7 295.5l2.7 .9 0-4.1-2.6-.9z"/>
<path class="kao" d="M191.4 296.4l2.1-1.5 0-4.1-2.1 1.5z"/>
<path class="kap" d="M188.8 291.4l2.6 .9 2.1-1.5-2.6-.9z"/>
<path class="kak" d="M192 296.6l2.6 1 .1-4.9-2.6-.9z"/>
<path class="kal" d="M194.6 297.6l2.1-1.6 .1-4.8-2.1 1.5z"/>
<path class="kam" d="M192.1 291.8l2.6 .9 2.1-1.5-2.6-.8z"/>
<path class="kan" d="M146.7 283l2.6 1 0-3.5-2.6-1z"/>
<path class="kao" d="M149.3 284l2.3-1.2 0-3.5-2.3 1.2z"/>
<path class="kap" d="M146.7 279.5l2.6 1 2.3-1.2-2.7-1z"/>
<path class="kaq" d="M150 284.2l2.6 1 0-4.1-2.6-1z"/>
<path class="kar" d="M152.6 285.2l2.2-1.3 0-4-2.2 1.2z"/>
<path class="kas" d="M150 280.1l2.6 1 2.2-1.2-2.6-.9z"/>
<path class="kaw" d="M153.3 285.4l2.6 1 0-5.5-2.6-.9z"/>
<path class="kax" d="M155.9 286.4l2.2-1.3 0-5.5-2.2 1.3z"/>
<path class="kay" d="M153.3 280l2.6 .9 2.2-1.3-2.6-.9z"/>
<path class="kaw" d="M156.5 286.6l2.7 1 0-5.6-2.7-1z"/>
<path class="kax" d="M159.2 287.6l2.2-1.3 0-5.6-2.2 1.3z"/>
<path class="kay" d="M156.5 281l2.7 1 2.2-1.3-2.6-.9z"/>
<path class="kak" d="M159.8 287.8l2.7 .9 0-4.6-2.7-1z"/>
<path class="kal" d="M162.5 288.7l2.2-1.3 0-4.6-2.2 1.3z"/>
<path class="kam" d="M159.8 283.1l2.7 1 2.2-1.3-2.6-.9z"/>
<path class="kak" d="M163.1 289l2.6 .9 .1-5.1-2.7-.9z"/>
<path class="kal" d="M165.7 289.9l2.2-1.3 .1-5.1-2.2 1.3z"/>
<path class="kam" d="M163.1 283.9l2.7 .9 2.2-1.3-2.7-.9z"/>
<path class="kaq" d="M166.4 290.2l2.6 .9 0-4.5-2.6-.9z"/>
<path class="kar" d="M169 291.1l2.2-1.3 0-4.5-2.2 1.3z"/>
<path class="kas" d="M166.4 285.7l2.6 .9 2.2-1.3-2.6-.9z"/>
<path class="kaw" d="M169.7 291.4l2.6 .9 0-5.6-2.6-1z"/>
<path class="kax" d="M172.3 292.3l2.2-1.4 0-5.6-2.2 1.4z"/>
<path class="kay" d="M169.7 285.7l2.6 1 2.2-1.4-2.6-.9z"/>
<path class="kaw" d="M173 292.6l2.6 .9 0-5.3-2.6-.9z"/>
<path class="kax" d="M175.6 293.5l2.1-1.4 .1-5.3-2.2 1.4z"/>
<path class="kay" d="M173 287.3l2.6 .9 2.2-1.4-2.6-.9z"/>
<path class="kaq" d="M176.2 293.8l2.7 .9 0-4.6-2.6-1z"/>
<path class="kar" d="M178.9 294.7l2.1-1.4 .1-4.6-2.2 1.4z"/>
<path class="kas" d="M176.3 289.1l2.6 1 2.2-1.4-2.7-.9z"/>
<path class="kak" d="M179.5 294.9l2.6 1 .1-5-2.6-.9z"/>
<path class="kal" d="M182.1 295.9l2.2-1.5 0-4.9-2.1 1.4z"/>
<path class="kam" d="M179.6 290l2.6 .9 2.1-1.4-2.6-.9z"/>
<path class="kaq" d="M182.8 296.1l2.6 1 .1-4.2-2.7-.9z"/>
<path class="kar" d="M185.4 297.1l2.2-1.5 0-4.2-2.1 1.5z"/>
<path class="kas" d="M182.8 292l2.7 .9 2.1-1.5-2.6-.9z"/>
<path class="kaq" d="M186.1 297.3l2.6 1 .1-4.6-2.7-.9z"/>
<path class="kar" d="M188.7 298.3l2.1-1.5 .1-4.6-2.1 1.5z"/>
<path class="kas" d="M186.1 292.8l2.7 .9 2.1-1.5-2.6-.9z"/>
<path class="kaw" d="M189.4 298.5l2.6 1 .1-5.8-2.7-.9z"/>
<path class="kax" d="M192 299.5l2.1-1.6 .1-5.7-2.1 1.5z"/>
<path class="kay" d="M189.4 292.8l2.7 .9 2.1-1.5-2.6-.9z"/>
<path class="kah" d="M192.7 299.7l2.6 1 0-2.8-2.6-.9z"/>
<path class="kai" d="M195.3 300.7l2.1-1.6 0-2.7-2.1 1.5z"/>
<path class="kaj" d="M192.7 297l2.6 .9 2.1-1.5-2.6-.9z"/>
<path class="kah" d="M140.6 283.3l2.6 1 0-2.3-2.6-.9z"/>
<path class="kai" d="M143.2 284.3l2.3-1.2 0-2.2-2.3 1.1z"/>
<path class="kaj" d="M140.6 281.1l2.6 .9 2.3-1.1-2.7-1z"/>
<path class="kaq" d="M143.9 284.5l2.6 1 0-4.1-2.7-1z"/>
<path class="kar" d="M146.5 285.5l2.3-1.2-.1-4.1-2.2 1.2z"/>
<path class="kas" d="M143.8 280.4l2.7 1 2.2-1.2-2.6-1z"/>
<path class="kaq" d="M147.2 285.7l2.6 1 0-4.3-2.7-1z"/>
<path class="kar" d="M149.8 286.7l2.2-1.2 0-4.3-2.2 1.2z"/>
<path class="kas" d="M147.1 281.4l2.7 1 2.2-1.2-2.6-1z"/>
<path class="kaq" d="M150.5 287l2.6 .9 0-4.5-2.7-.9z"/>
<path class="kar" d="M153.1 287.9l2.2-1.2 0-4.5-2.2 1.2z"/>
<path class="kas" d="M150.4 282.5l2.7 .9 2.2-1.2-2.6-.9z"/>
<path class="kaq" d="M153.8 288.2l2.6 1 0-4.4-2.7-1z"/>
<path class="kar" d="M156.4 289.2l2.2-1.3 0-4.4-2.2 1.3z"/>
<path class="kas" d="M153.7 283.8l2.7 1 2.2-1.3-2.6-.9z"/>
<path class="kaq" d="M157.1 289.4l2.6 1 0-4.5-2.6-1z"/>
<path class="kar" d="M159.7 290.4l2.2-1.3 0-4.5-2.2 1.3z"/>
<path class="kas" d="M157.1 284.9l2.6 1 2.2-1.3-2.6-.9z"/>
<path class="kaq" d="M160.4 290.6l2.6 1 0-4.1-2.6-1z"/>
<path class="kar" d="M163 291.6l2.2-1.3 0-4.1-2.2 1.3z"/>
<path class="kas" d="M160.4 286.5l2.6 1 2.2-1.3-2.6-1z"/>
<path class="kak" d="M163.6 291.9l2.7 .9 0-5-2.6-1z"/>
<path class="kal" d="M166.3 292.8l2.2-1.3 0-5-2.2 1.3z"/>
<path class="kam" d="M163.7 286.8l2.6 1 2.2-1.3-2.6-1z"/>
<path class="kak" d="M166.9 293.1l2.7 1 0-5.1-2.6-1z"/>
<path class="kal" d="M169.6 294.1l2.2-1.4 0-5.1-2.2 1.4z"/>
<path class="kam" d="M167 288l2.6 1 2.2-1.4-2.7-.9z"/>
<path class="kaw" d="M170.2 294.3l2.7 1 0-6-2.6-1z"/>
<path class="kax" d="M172.9 295.3l2.1-1.4 .1-6-2.2 1.4z"/>
<path class="kay" d="M170.3 288.3l2.6 1 2.2-1.4-2.7-.9z"/>
<path class="kak" d="M173.5 295.5l2.7 1 0-5.3-2.6-1z"/>
<path class="kal" d="M176.2 296.5l2.1-1.4 .1-5.3-2.2 1.4z"/>
<path class="kam" d="M173.6 290.2l2.6 1 2.2-1.4-2.7-.9z"/>
<path class="kaw" d="M176.8 296.8l2.7 .9 0-6.1-2.6-.9z"/>
<path class="kax" d="M179.5 297.7l2.1-1.4 .1-6.1-2.2 1.4z"/>
<path class="kay" d="M176.9 290.7l2.6 .9 2.2-1.4-2.7-.9z"/>
<path class="kaw" d="M180.1 298l2.7 1 0-6.1-2.6-.9z"/>
<path class="kax" d="M182.8 299l2.1-1.5 .1-6-2.2 1.4z"/>
<path class="kay" d="M180.2 292l2.6 .9 2.2-1.4-2.7-.9z"/>
<path class="kaq" d="M183.4 299.2l2.7 1 0-4.7-2.6-.9z"/>
<path class="kar" d="M186.1 300.2l2.1-1.5 0-4.7-2.1 1.5z"/>
<path class="kas" d="M183.5 294.6l2.6 .9 2.1-1.5-2.6-.9z"/>
<path class="kaw" d="M186.7 300.4l2.7 1 0-6-2.6-1z"/>
<path class="kax" d="M189.4 301.4l2.1-1.5 0-6-2.1 1.5z"/>
<path class="kay" d="M186.8 294.4l2.6 1 2.1-1.5-2.6-.9z"/>
<path class="kaq" d="M141 286l2.7 1 0-4.2-2.7-.9z"/>
<path class="kar" d="M143.7 287l2.2-1.2 0-4.2-2.2 1.2z"/>
<path class="kas" d="M141 281.9l2.7 .9 2.2-1.2-2.6-.9z"/>
<path class="kaq" d="M144.4 287.3l2.6 1 0-4.3-2.7-1z"/>
<path class="kar" d="M147 288.3l2.2-1.3 0-4.2-2.2 1.2z"/>
<path class="kas" d="M144.3 283l2.7 1 2.2-1.2-2.6-1z"/>
<path class="kan" d="M147.7 288.5l2.6 1 0-3.6-2.7-1z"/>
<path class="kao" d="M150.3 289.5l2.2-1.2 0-3.7-2.2 1.3z"/>
<path class="kap" d="M147.6 284.9l2.7 1 2.2-1.3-2.6-.9z"/>
<path class="kaz" d="M151 289.8l2.6 1 0-2.5-2.6-1z"/>
<path class="kba" d="M153.6 290.8l2.2-1.3 0-2.5-2.2 1.3z"/>
<path class="kbb" d="M151 287.3l2.6 1 2.2-1.3-2.6-.9z"/>
<path class="kaq" d="M154.3 291l2.6 1 0-4.2-2.6-1z"/>
<path class="kar" d="M156.9 292l2.2-1.3 0-4.2-2.2 1.3z"/>
<path class="kas" d="M154.3 286.8l2.6 1 2.2-1.3-2.6-.9z"/>
<path class="kak" d="M157.6 292.3l2.6 1 0-5.2-2.6-1z"/>
<path class="kal" d="M160.2 293.3l2.2-1.3 0-5.2-2.2 1.3z"/>
<path class="kam" d="M157.6 287.1l2.6 1 2.2-1.3-2.6-1z"/>
<path class="kaw" d="M160.9 293.5l2.7 1 0-5.7-2.7-.9z"/>
<path class="kax" d="M163.6 294.5l2.1-1.3 0-5.7-2.1 1.3z"/>
<path class="kay" d="M160.9 287.9l2.7 .9 2.1-1.3-2.6-.9z"/>
<path class="kaw" d="M164.2 294.8l2.7 1 0-6-2.7-1z"/>
<path class="kax" d="M166.9 295.8l2.1-1.4 .1-6-2.2 1.4z"/>
<path class="kay" d="M164.2 288.8l2.7 1 2.2-1.4-2.7-.9z"/>
<path class="kaz" d="M167.5 296.1l2.7 1 0-2.4-2.7-1z"/>
<path class="kba" d="M170.2 297.1l2.1-1.5 0-2.3-2.1 1.4z"/>
<path class="kbb" d="M167.5 293.7l2.7 1 2.1-1.4-2.6-1z"/>
<path class="kaw" d="M170.8 297.3l2.7 1 0-5.6-2.7-1z"/>
<path class="kax" d="M173.5 298.3l2.1-1.4 .1-5.6-2.2 1.4z"/>
<path class="kay" d="M170.8 291.7l2.7 1 2.2-1.4-2.7-1z"/>
<path class="kaw" d="M174.1 298.6l2.7 1 0-5.9-2.6-1z"/>
<path class="kax" d="M176.8 299.6l2.1-1.5 .1-5.9-2.2 1.5z"/>
<path class="kay" d="M174.2 292.7l2.6 1 2.2-1.5-2.7-.9z"/>
<path class="kak" d="M177.5 299.8l2.6 1 0-5.5-2.6-1z"/>
<path class="kal" d="M180.1 300.8l2.1-1.5 .1-5.4-2.2 1.4z"/>
<path class="kam" d="M177.5 294.3l2.6 1 2.2-1.4-2.7-1z"/>
<path class="kak" d="M180.8 301.1l2.6 1 0-5-2.6-1z"/>
<path class="kal" d="M183.4 302.1l2.1-1.5 .1-5-2.2 1.5z"/>
<path class="kam" d="M180.8 296.1l2.6 1 2.2-1.5-2.7-.9z"/>
<path class="kaw" d="M184.1 302.3l2.6 1 .1-6.2-2.7-1z"/>
<path class="kax" d="M186.7 303.3l2.1-1.5 .1-6.2-2.1 1.5z"/>
<path class="kay" d="M184.1 296.1l2.7 1 2.1-1.5-2.7-1z"/>
<path class="kah" d="M187.4 303.6l2.6 1 .1-2.4-2.7-.9z"/>
<path class="kai" d="M190 304.6l2.1-1.6 .1-2.3-2.1 1.5z"/>
<path class="kaj" d="M187.4 301.3l2.7 .9 2.1-1.5-2.7-1z"/>
<path class="kah" d="M134.9 286.2l2.7 1.1-.1-2.1-2.6-1z"/>
<path class="kai" d="M137.6 287.3l2.2-1.2 0-2.1-2.3 1.2z"/>
<path class="kaj" d="M134.9 284.2l2.6 1 2.3-1.2-2.7-1z"/>
<path class="kaw" d="M138.2 287.5l2.7 1-.1-5.3-2.6-1z"/>
<path class="kax" d="M140.9 288.5l2.2-1.2 0-5.2-2.3 1.1z"/>
<path class="kay" d="M138.2 282.2l2.6 1 2.3-1.1-2.7-1z"/>
<path class="kak" d="M141.5 288.8l2.7 1 0-4.7-2.7-1z"/>
<path class="kal" d="M144.2 289.8l2.2-1.2 0-4.7-2.2 1.2z"/>
<path class="kam" d="M141.5 284.1l2.7 1 2.2-1.2-2.6-1z"/>
<path class="kaq" d="M144.9 290.1l2.6 1 0-4-2.7-1z"/>
<path class="kar" d="M147.5 291.1l2.3-1.3-.1-4-2.2 1.3z"/>
<path class="kas" d="M144.8 286.1l2.7 1 2.2-1.3-2.6-1z"/>
<path class="kaq" d="M148.2 291.4l2.6 1 0-4.1-2.6-1z"/>
<path class="kar" d="M150.8 292.4l2.3-1.3 0-4.1-2.3 1.3z"/>
<path class="kas" d="M148.2 287.3l2.6 1 2.3-1.3-2.7-.9z"/>
<path class="kat" d="M151.5 292.7l2.7 1 0-3.3-2.7-1z"/>
<path class="kau" d="M154.2 293.7l2.2-1.3 0-3.3-2.2 1.3z"/>
<path class="kav" d="M151.5 289.4l2.7 1 2.2-1.3-2.7-1z"/>
<path class="kaq" d="M154.8 293.9l2.7 1.1 0-4.4-2.7-1z"/>
<path class="kar" d="M157.5 295l2.2-1.4 0-4.3-2.2 1.3z"/>
<path class="kas" d="M154.8 289.6l2.7 1 2.2-1.3-2.7-1z"/>
<path class="kak" d="M158.2 295.2l2.6 1.1 0-5.1-2.7-1z"/>
<path class="kal" d="M160.8 296.3l2.2-1.4 0-5-2.2 1.3z"/>
<path class="kam" d="M158.1 290.2l2.7 1 2.2-1.3-2.6-1z"/>
<path class="kaw" d="M161.5 296.5l2.6 1 0-5.4-2.6-1z"/>
<path class="kax" d="M164.1 297.5l2.2-1.3 0-5.5-2.2 1.4z"/>
<path class="kay" d="M161.5 291.1l2.6 1 2.2-1.4-2.6-1z"/>
<path class="kak" d="M164.8 297.8l2.7 1 0-4.9-2.7-1z"/>
<path class="kal" d="M167.5 298.8l2.1-1.4 0-4.8-2.1 1.3z"/>
<path class="kam" d="M164.8 292.9l2.7 1 2.1-1.3-2.6-1z"/>
<path class="kak" d="M168.1 299.1l2.7 1 0-5.1-2.7-1z"/>
<path class="kal" d="M170.8 300.1l2.1-1.4 .1-5.1-2.2 1.4z"/>
<path class="kam" d="M168.1 294l2.7 1 2.2-1.4-2.7-1z"/>
<path class="kaw" d="M171.5 300.4l2.6 1 0-6.2-2.6-1z"/>
<path class="kax" d="M174.1 301.4l2.2-1.5 0-6.1-2.2 1.4z"/>
<path class="kay" d="M171.5 294.2l2.6 1 2.2-1.4-2.7-1z"/>
<path class="kaw" d="M174.8 301.7l2.6 1 .1-6.3-2.7-1z"/>
<path class="kax" d="M177.4 302.7l2.2-1.5 0-6.2-2.1 1.4z"/>
<path class="kay" d="M174.8 295.4l2.7 1 2.1-1.4-2.7-1z"/>
<path class="kaw" d="M178.1 302.9l2.7 1.1 0-6.3-2.7-1z"/>
<path class="kax" d="M180.8 304l2.1-1.5 0-6.3-2.1 1.5z"/>
<path class="kay" d="M178.1 296.7l2.7 1 2.1-1.5-2.6-.9z"/>
<path class="kaw" d="M181.4 304.2l2.7 1.1 0-6.4-2.6-1z"/>
<path class="kax" d="M184.1 305.3l2.1-1.6 0-6.3-2.1 1.5z"/>
<path class="kay" d="M181.5 297.9l2.6 1 2.1-1.5-2.6-1z"/>
<path class="kak" d="M135.4 289l2.7 1.1-.1-5.2-2.7-1z"/>
<path class="kal" d="M138.1 290.1l2.2-1.2 0-5.2-2.3 1.2z"/>
<path class="kam" d="M135.3 283.9l2.7 1 2.3-1.2-2.7-1z"/>
<path class="kaw" d="M138.7 290.3l2.7 1.1-.1-5.6-2.6-1z"/>
<path class="kax" d="M141.4 291.4l2.2-1.3 0-5.5-2.3 1.2z"/>
<path class="kay" d="M138.7 284.8l2.6 1 2.3-1.2-2.7-1z"/>
<path class="kak" d="M142.1 291.7l2.6 1 0-5.2-2.7-1.1z"/>
<path class="kal" d="M144.7 292.7l2.3-1.3-.1-5.2-2.2 1.3z"/>
<path class="kam" d="M142 286.4l2.7 1.1 2.2-1.3-2.6-1z"/>
<path class="kak" d="M145.4 293l2.7 1-.1-4.7-2.6-1.1z"/>
<path class="kal" d="M148.1 294l2.2-1.3 0-4.7-2.3 1.3z"/>
<path class="kam" d="M145.4 288.2l2.6 1.1 2.3-1.3-2.7-1z"/>
<path class="kak" d="M148.7 294.3l2.7 1 0-5-2.7-1z"/>
<path class="kal" d="M151.4 295.3l2.2-1.3 0-4.9-2.2 1.2z"/>
<path class="kam" d="M148.7 289.3l2.7 1 2.2-1.2-2.7-1z"/>
<path class="kaq" d="M152.1 295.6l2.6 1.1 0-4.5-2.6-1.1z"/>
<path class="kar" d="M154.7 296.7l2.2-1.4 0-4.4-2.2 1.3z"/>
<path class="kas" d="M152.1 291.1l2.6 1.1 2.2-1.3-2.6-1z"/>
<path class="kaq" d="M155.4 296.9l2.7 1.1 0-4.7-2.7-1z"/>
<path class="kar" d="M158.1 298l2.2-1.4 0-4.6-2.2 1.3z"/>
<path class="kas" d="M155.4 292.3l2.7 1 2.2-1.3-2.7-1z"/>
<path class="kaq" d="M158.8 298.2l2.6 1.1 0-4.5-2.7-1z"/>
<path class="kar" d="M161.4 299.3l2.2-1.4 0-4.4-2.2 1.3z"/>
<path class="kas" d="M158.7 293.8l2.7 1 2.2-1.3-2.7-1z"/>
<path class="kaz" d="M162.1 299.5l2.7 1.1 0-2.9-2.7-1z"/>
<path class="kba" d="M164.8 300.6l2.1-1.4 0-2.9-2.1 1.4z"/>
<path class="kbb" d="M162.1 296.7l2.7 1 2.1-1.4-2.6-1z"/>
<path class="kaw" d="M165.4 300.9l2.7 1 0-5.6-2.7-1z"/>
<path class="kax" d="M168.1 301.9l2.2-1.4 0-5.6-2.2 1.4z"/>
<path class="kay" d="M165.4 295.3l2.7 1 2.2-1.4-2.7-1z"/>
<path class="kaq" d="M168.8 302.2l2.6 1 0-4.4-2.6-1z"/>
<path class="kar" d="M171.4 303.2l2.2-1.4 0-4.4-2.2 1.4z"/>
<path class="kas" d="M168.8 297.8l2.6 1 2.2-1.4-2.7-1z"/>
<path class="kaw" d="M172.1 303.5l2.7 1 0-6.2-2.7-1.1z"/>
<path class="kax" d="M174.8 304.5l2.1-1.4 0-6.3-2.1 1.5z"/>
<path class="kay" d="M172.1 297.2l2.7 1.1 2.1-1.5-2.6-1z"/>
<path class="kaw" d="M175.4 304.8l2.7 1.1 0-6-2.6-1z"/>
<path class="kax" d="M178.1 305.9l2.1-1.5 .1-6-2.2 1.5z"/>
<path class="kay" d="M175.5 298.9l2.6 1 2.2-1.5-2.7-1z"/>
<path class="kaw" d="M178.8 306.1l2.6 1.1 .1-6.4-2.7-1z"/>
<path class="kax" d="M181.4 307.2l2.2-1.6 0-6.3-2.1 1.5z"/>
<path class="kay" d="M178.8 299.8l2.7 1 2.1-1.5-2.7-1z"/>
<path class="kah" d="M182.1 307.4l2.7 1.1 0-3.4-2.7-1.1z"/>
<path class="kai" d="M184.8 308.5l2.1-1.6 0-3.4-2.1 1.6z"/>
<path class="kaj" d="M182.1 304l2.7 1.1 2.1-1.6-2.7-1z"/>
<path class="kah" d="M129.2 289.2l2.7 1 0-2.7-2.7-1z"/>
<path class="kai" d="M131.9 290.2l2.3-1.1-.1-2.8-2.2 1.2z"/>
<path class="kaj" d="M129.2 286.5l2.7 1 2.2-1.2-2.6-1z"/>
<path class="kaw" d="M132.6 290.5l2.6 1.1 0-5.3-2.7-1.1z"/>
<path class="kax" d="M135.2 291.6l2.3-1.2-.1-5.3-2.2 1.2z"/>
<path class="kay" d="M132.5 285.2l2.7 1.1 2.2-1.2-2.6-1z"/>
<path class="kat" d="M135.9 291.9l2.7 1 0-3.2-2.7-1.1z"/>
<path class="kau" d="M138.6 292.9l2.2-1.2 0-3.2-2.2 1.2z"/>
<path class="kav" d="M135.9 288.6l2.7 1.1 2.2-1.2-2.7-1.1z"/>
<path class="kaw" d="M139.3 293.2l2.6 1.1 0-5.7-2.7-1.1z"/>
<path class="kax" d="M141.9 294.3l2.3-1.3-.1-5.7-2.2 1.3z"/>
<path class="kay" d="M139.2 287.5l2.7 1.1 2.2-1.3-2.6-1z"/>
<path class="kaz" d="M142.6 294.6l2.7 1 0-2.5-2.7-1.1z"/>
<path class="kba" d="M145.3 295.6l2.2-1.3 0-2.5-2.2 1.3z"/>
<path class="kbb" d="M142.6 292l2.7 1.1 2.2-1.3-2.7-1z"/>
<path class="kaz" d="M146 295.9l2.6 1.1 0-2.7-2.7-1z"/>
<path class="kba" d="M148.6 297l2.3-1.3-.1-2.7-2.2 1.3z"/>
<path class="kbb" d="M145.9 293.3l2.7 1 2.2-1.3-2.6-1z"/>
<path class="kak" d="M149.3 297.3l2.7 1 0-5-2.7-1.1z"/>
<path class="kal" d="M152 298.3l2.2-1.3 0-5.1-2.2 1.4z"/>
<path class="kam" d="M149.3 292.2l2.7 1.1 2.2-1.4-2.7-1z"/>
<path class="kaq" d="M152.7 298.6l2.7 1.1-.1-4.7-2.7-1z"/>
<path class="kar" d="M155.4 299.7l2.1-1.4 0-4.6-2.2 1.3z"/>
<path class="kas" d="M152.6 294l2.7 1 2.2-1.3-2.7-1z"/>
<path class="kaq" d="M156 299.9l2.7 1.1 0-4.8-2.7-1z"/>
<path class="kar" d="M158.7 301l2.2-1.4 0-4.7-2.2 1.3z"/>
<path class="kas" d="M156 295.2l2.7 1 2.2-1.3-2.7-1.1z"/>
<path class="kaw" d="M159.4 301.3l2.7 1.1-.1-5.8-2.6-1.1z"/>
<path class="kax" d="M162.1 302.4l2.1-1.4 0-5.8-2.2 1.4z"/>
<path class="kay" d="M159.4 295.5l2.6 1.1 2.2-1.4-2.7-1z"/>
<path class="kaq" d="M162.7 302.6l2.7 1.1 0-4.5-2.7-1z"/>
<path class="kar" d="M165.4 303.7l2.2-1.4 0-4.5-2.2 1.4z"/>
<path class="kas" d="M162.7 298.2l2.7 1 2.2-1.4-2.7-1z"/>
<path class="kan" d="M166.1 304l2.7 1.1 0-4.1-2.7-1z"/>
<path class="kao" d="M168.8 305.1l2.1-1.5 0-4-2.1 1.4z"/>
<path class="kap" d="M166.1 300l2.7 1 2.1-1.4-2.7-1.1z"/>
<path class="kaq" d="M169.4 305.3l2.7 1.1 0-4.7-2.7-1z"/>
<path class="kar" d="M172.1 306.4l2.1-1.5 0-4.6-2.1 1.4z"/>
<path class="kas" d="M169.4 300.7l2.7 1 2.1-1.4-2.6-1.1z"/>
<path class="kak" d="M172.8 306.7l2.7 1.1 0-5.3-2.7-1.1z"/>
<path class="kal" d="M175.5 307.8l2.1-1.6 0-5.2-2.1 1.5z"/>
<path class="kam" d="M172.8 301.4l2.7 1.1 2.1-1.5-2.7-1z"/>
<path class="kan" d="M176.1 308l2.7 1.1 0-4.2-2.7-1z"/>
<path class="kao" d="M178.8 309.1l2.1-1.5 0-4.2-2.1 1.5z"/>
<path class="kap" d="M176.1 303.9l2.7 1 2.1-1.5-2.6-1z"/>
<path class="kaq" d="M129.7 292l2.7 1.1 0-4.3-2.7-1.1z"/>
<path class="kar" d="M132.4 293.1l2.3-1.2-.1-4.3-2.2 1.2z"/>
<path class="kas" d="M129.7 287.7l2.7 1.1 2.2-1.2-2.7-1.1z"/>
<path class="kaw" d="M133.1 293.4l2.7 1.1-.1-5.7-2.7-1.1z"/>
<path class="kax" d="M135.8 294.5l2.2-1.2 0-5.7-2.3 1.2z"/>
<path class="kay" d="M133 287.7l2.7 1.1 2.3-1.2-2.7-1.1z"/>
<path class="kaw" d="M136.5 294.8l2.7 1.1-.1-5.5-2.7-1z"/>
<path class="kax" d="M139.2 295.9l2.2-1.3-.1-5.4-2.2 1.2z"/>
<path class="kay" d="M136.4 289.4l2.7 1 2.2-1.2-2.7-1.1z"/>
<path class="kaw" d="M139.8 296.2l2.7 1.1 0-6.1-2.7-1.1z"/>
<path class="kax" d="M142.5 297.3l2.2-1.3 0-6.1-2.2 1.3z"/>
<path class="kay" d="M139.8 290.1l2.7 1.1 2.2-1.3-2.7-1z"/>
<path class="kaw" d="M143.2 297.5l2.7 1.1-.1-6.1-2.7-1.1z"/>
<path class="kax" d="M145.9 298.6l2.2-1.3-.1-6.1-2.2 1.3z"/>
<path class="kay" d="M143.1 291.4l2.7 1.1 2.2-1.3-2.6-1z"/>
<path class="kaq" d="M146.6 298.9l2.7 1.1-.1-4.7-2.7-1z"/>
<path class="kar" d="M149.3 300l2.2-1.3-.1-4.7-2.2 1.3z"/>
<path class="kas" d="M146.5 294.3l2.7 1 2.2-1.3-2.7-1z"/>
<path class="kaq" d="M149.9 300.3l2.7 1.1 0-4.7-2.7-1.1z"/>
<path class="kar" d="M152.6 301.4l2.2-1.4 0-4.7-2.2 1.4z"/>
<path class="kas" d="M149.9 295.6l2.7 1.1 2.2-1.4-2.7-1z"/>
<path class="kaw" d="M153.3 301.7l2.7 1.1-.1-6.1-2.6-1.1z"/>
<path class="kax" d="M156 302.8l2.2-1.4-.1-6-2.2 1.3z"/>
<path class="kay" d="M153.3 295.6l2.6 1.1 2.2-1.3-2.7-1.1z"/>
<path class="kaw" d="M156.7 303l2.6 1.1 0-6.3-2.7-1z"/>
<path class="kax" d="M159.3 304.1l2.2-1.4 0-6.2-2.2 1.3z"/>
<path class="kay" d="M156.6 296.8l2.7 1 2.2-1.3-2.7-1.1z"/>
<path class="kan" d="M160 304.4l2.7 1.1 0-4-2.7-1.1z"/>
<path class="kao" d="M162.7 305.5l2.2-1.4 0-4-2.2 1.4z"/>
<path class="kap" d="M160 300.4l2.7 1.1 2.2-1.4-2.7-1z"/>
<path class="kan" d="M163.4 305.8l2.7 1.1 0-4-2.7-1.1z"/>
<path class="kao" d="M166.1 306.9l2.1-1.5 0-4-2.1 1.5z"/>
<path class="kap" d="M163.4 301.8l2.7 1.1 2.1-1.5-2.7-1z"/>
<path class="kan" d="M166.8 307.2l2.6 1.1 0-4-2.7-1.1z"/>
<path class="kao" d="M169.4 308.3l2.2-1.5 0-4-2.2 1.5z"/>
<path class="kap" d="M166.7 303.2l2.7 1.1 2.2-1.5-2.7-1.1z"/>
<path class="kak" d="M170.1 308.6l2.7 1.1 0-5.8-2.7-1.1z"/>
<path class="kal" d="M172.8 309.7l2.1-1.6 0-5.7-2.1 1.5z"/>
<path class="kam" d="M170.1 302.8l2.7 1.1 2.1-1.5-2.7-1z"/>
<path class="kaw" d="M173.5 309.9l2.7 1.1 0-6.1-2.7-1.1z"/>
<path class="kax" d="M176.2 311l2.1-1.5 0-6.1-2.1 1.5z"/>
<path class="kay" d="M173.5 303.8l2.7 1.1 2.1-1.5-2.7-1.1z"/>
<path class="kah" d="M176.8 311.3l2.7 1.1 0-3.2-2.7-1z"/>
<path class="kai" d="M179.5 312.4l2.1-1.6 0-3.1-2.1 1.5z"/>
<path class="kaj" d="M176.8 308.2l2.7 1 2.1-1.5-2.6-1.1z"/>
<path class="kah" d="M123.5 292.1l2.7 1.1 0-2.6-2.7-1.1z"/>
<path class="kai" d="M126.2 293.2l2.3-1.2 0-2.5-2.3 1.1z"/>
<path class="kaj" d="M123.5 289.5l2.7 1.1 2.3-1.1-2.7-1.1z"/>
<path class="kaq" d="M126.9 293.5l2.7 1.1-.1-4.3-2.7-1.1z"/>
<path class="kar" d="M129.6 294.6l2.3-1.2-.1-4.3-2.3 1.2z"/>
<path class="kas" d="M126.8 289.2l2.7 1.1 2.3-1.2-2.7-1z"/>
<path class="kaq" d="M130.3 294.9l2.7 1.2-.1-4.7-2.7-1.1z"/>
<path class="kar" d="M133 296.1l2.2-1.3 0-4.6-2.3 1.2z"/>
<path class="kas" d="M130.2 290.3l2.7 1.1 2.3-1.2-2.7-1.1z"/>
<path class="kaq" d="M133.7 296.3l2.7 1.2-.1-4.6-2.7-1.1z"/>
<path class="kar" d="M136.4 297.5l2.2-1.3-.1-4.5-2.2 1.2z"/>
<path class="kas" d="M133.6 291.8l2.7 1.1 2.2-1.2-2.6-1.1z"/>
<path class="kat" d="M137 297.7l2.7 1.2 0-3.2-2.7-1.1z"/>
<path class="kau" d="M139.7 298.9l2.3-1.3-.1-3.2-2.2 1.3z"/>
<path class="kav" d="M137 294.6l2.7 1.1 2.2-1.3-2.7-1.1z"/>
<path class="kak" d="M140.4 299.2l2.7 1.1 0-4.9-2.7-1.1z"/>
<path class="kal" d="M143.1 300.3l2.2-1.3 0-4.9-2.2 1.3z"/>
<path class="kam" d="M140.4 294.3l2.7 1.1 2.2-1.3-2.7-1.1z"/>
<path class="kaw" d="M143.8 300.6l2.7 1.1-.1-6.2-2.7-1.1z"/>
<path class="kax" d="M146.5 301.7l2.2-1.4 0-6.1-2.3 1.3z"/>
<path class="kay" d="M143.7 294.4l2.7 1.1 2.3-1.3-2.7-1z"/>
<path class="kaw" d="M147.2 302l2.7 1.1-.1-5.8-2.7-1.1z"/>
<path class="kax" d="M149.9 303.1l2.2-1.4-.1-5.7-2.2 1.3z"/>
<path class="kay" d="M147.1 296.2l2.7 1.1 2.2-1.3-2.7-1.1z"/>
<path class="kaw" d="M150.6 303.4l2.7 1.1-.1-6.3-2.7-1.1z"/>
<path class="kax" d="M153.3 304.5l2.1-1.4 0-6.3-2.2 1.4z"/>
<path class="kay" d="M150.5 297.1l2.7 1.1 2.2-1.4-2.7-1z"/>
<path class="kaw" d="M153.9 304.8l2.7 1.1 0-6-2.7-1.1z"/>
<path class="kax" d="M156.6 305.9l2.2-1.4 0-6-2.2 1.4z"/>
<path class="kay" d="M153.9 298.8l2.7 1.1 2.2-1.4-2.7-1z"/>
<path class="kak" d="M157.3 306.2l2.7 1.1 0-5.6-2.7-1.1z"/>
<path class="kal" d="M160 307.3l2.2-1.4 0-5.6-2.2 1.4z"/>
<path class="kam" d="M157.3 300.6l2.7 1.1 2.2-1.4-2.7-1.1z"/>
<path class="kat" d="M160.7 307.6l2.7 1.1 0-3.6-2.7-1.1z"/>
<path class="kau" d="M163.4 308.7l2.1-1.4 0-3.6-2.1 1.4z"/>
<path class="kav" d="M160.7 304l2.7 1.1 2.1-1.4-2.7-1.1z"/>
<path class="kak" d="M164.1 309l2.7 1.1 0-5.6-2.8-1.1z"/>
<path class="kal" d="M166.8 310.1l2.1-1.5 0-5.6-2.1 1.5z"/>
<path class="kam" d="M164 303.4l2.8 1.1 2.1-1.5-2.7-1.1z"/>
<path class="kaw" d="M167.5 310.4l2.7 1.1-.1-5.9-2.7-1.1z"/>
<path class="kax" d="M170.2 311.5l2.1-1.5 0-5.9-2.2 1.5z"/>
<path class="kay" d="M167.4 304.5l2.7 1.1 2.2-1.5-2.7-1z"/>
<path class="kak" d="M170.8 311.8l2.7 1.2 0-5.5-2.7-1.1z"/>
<path class="kal" d="M173.5 313l2.1-1.6 0-5.4-2.1 1.5z"/>
<path class="kam" d="M170.8 306.4l2.7 1.1 2.1-1.5-2.7-1.1z"/>
<path class="kaz" d="M124.1 295l2.7 1.2 0-2.8-2.8-1.1z"/>
<path class="kba" d="M126.8 296.2l2.3-1.2-.1-2.8-2.2 1.2z"/>
<path class="kbb" d="M124 292.3l2.8 1.1 2.2-1.2-2.7-1.1z"/>
<path class="kat" d="M127.5 296.5l2.7 1.1-.1-3.2-2.7-1.2z"/>
<path class="kau" d="M130.2 297.6l2.2-1.2 0-3.2-2.3 1.2z"/>
<path class="kav" d="M127.4 293.2l2.7 1.2 2.3-1.2-2.7-1.2z"/>
<path class="kaz" d="M130.9 297.9l2.7 1.1-.1-2.7-2.7-1.1z"/>
<path class="kba" d="M133.6 299l2.2-1.2 0-2.7-2.3 1.2z"/>
<path class="kbb" d="M130.8 295.2l2.7 1.1 2.3-1.2-2.7-1.2z"/>
<path class="kak" d="M134.3 299.3l2.7 1.2-.1-5.1-2.7-1.1z"/>
<path class="kal" d="M137 300.5l2.2-1.3-.1-5.1-2.2 1.3z"/>
<path class="kam" d="M134.2 294.3l2.7 1.1 2.2-1.3-2.7-1.1z"/>
<path class="kaz" d="M137.7 300.8l2.7 1.1-.1-2.3-2.7-1.2z"/>
<path class="kba" d="M140.4 301.9l2.2-1.3-.1-2.3-2.2 1.3z"/>
<path class="kbb" d="M137.6 298.4l2.7 1.2 2.2-1.3-2.7-1.2z"/>
<path class="kaw" d="M141 302.2l2.8 1.2-.1-5.8-2.7-1.1z"/>
<path class="kax" d="M143.8 303.4l2.2-1.4-.1-5.7-2.2 1.3z"/>
<path class="kay" d="M141 296.5l2.7 1.1 2.2-1.3-2.7-1.1z"/>
<path class="kaw" d="M144.4 303.7l2.8 1.1-.1-6.3-2.7-1.2z"/>
<path class="kax" d="M147.2 304.8l2.1-1.4 0-6.3-2.2 1.4z"/>
<path class="kay" d="M144.4 297.3l2.7 1.2 2.2-1.4-2.7-1.1z"/>
<path class="kaz" d="M147.8 305.1l2.7 1.1 0-2.4-2.7-1.2z"/>
<path class="kba" d="M150.5 306.2l2.2-1.3 0-2.5-2.2 1.4z"/>
<path class="kbb" d="M147.8 302.6l2.7 1.2 2.2-1.4-2.7-1.1z"/>
<path class="kaw" d="M151.2 306.5l2.7 1.2 0-6.5-2.7-1.1z"/>
<path class="kax" d="M153.9 307.7l2.2-1.4 0-6.4-2.2 1.3z"/>
<path class="kay" d="M151.2 300.1l2.7 1.1 2.2-1.3-2.8-1.1z"/>
<path class="kaw" d="M154.6 308l2.7 1.1 0-5.9-2.7-1.1z"/>
<path class="kax" d="M157.3 309.1l2.2-1.4-.1-5.9-2.1 1.4z"/>
<path class="kay" d="M154.6 302.1l2.7 1.1 2.1-1.4-2.7-1.1z"/>
<path class="kak" d="M158 309.4l2.7 1.2 0-5.5-2.7-1.1z"/>
<path class="kal" d="M160.7 310.6l2.2-1.5-.1-5.4-2.1 1.4z"/>
<path class="kam" d="M158 304l2.7 1.1 2.1-1.4-2.7-1.2z"/>
<path class="kak" d="M161.4 310.9l2.7 1.1 0-5.3-2.7-1.1z"/>
<path class="kal" d="M164.1 312l2.1-1.5 0-5.2-2.1 1.4z"/>
<path class="kam" d="M161.4 305.6l2.7 1.1 2.1-1.4-2.7-1.1z"/>
<path class="kaz" d="M164.8 312.3l2.7 1.1 0-2.6-2.7-1.1z"/>
<path class="kba" d="M167.5 313.4l2.1-1.5 0-2.6-2.1 1.5z"/>
<path class="kbb" d="M164.8 309.7l2.7 1.1 2.1-1.5-2.7-1.1z"/>
<path class="kak" d="M168.2 313.7l2.7 1.2 0-5.8-2.7-1.1z"/>
<path class="kal" d="M170.9 314.9l2.1-1.6 0-5.7-2.1 1.5z"/>
<path class="kam" d="M168.2 308l2.7 1.1 2.1-1.5-2.7-1.1z"/>
<path class="kah" d="M171.6 315.2l2.7 1.1 0-3.3-2.7-1.1z"/>
<path class="kai" d="M174.3 316.3l2.1-1.5 0-3.3-2.1 1.5z"/>
<path class="kaj" d="M171.6 311.9l2.7 1.1 2.1-1.5-2.7-1.1z"/>
<path class="kah" d="M117.9 295l2.7 1.2-.1-2.4-2.7-1.1z"/>
<path class="kai" d="M120.6 296.2l2.2-1.2 0-2.3-2.3 1.1z"/>
<path class="kaj" d="M117.8 292.7l2.7 1.1 2.3-1.1-2.7-1.2z"/>
<path class="kat" d="M121.3 296.5l2.7 1.2-.1-3.4-2.7-1.2z"/>
<path class="kau" d="M124 297.7l2.2-1.2 0-3.4-2.3 1.2z"/>
<path class="kav" d="M121.2 293.1l2.7 1.2 2.3-1.2-2.7-1.1z"/>
<path class="kan" d="M124.7 298l2.7 1.2-.1-4-2.7-1.2z"/>
<path class="kao" d="M127.4 299.2l2.2-1.3 0-3.9-2.3 1.2z"/>
<path class="kap" d="M124.6 294l2.7 1.2 2.3-1.2-2.8-1.2z"/>
<path class="kat" d="M128.1 299.5l2.7 1.1-.1-3.4-2.7-1.2z"/>
<path class="kau" d="M130.8 300.6l2.2-1.2 0-3.5-2.3 1.3z"/>
<path class="kav" d="M128 296l2.7 1.2 2.3-1.3-2.7-1.1z"/>
<path class="kan" d="M131.5 300.9l2.7 1.2-.1-3.6-2.7-1.2z"/>
<path class="kao" d="M134.2 302.1l2.2-1.3 0-3.6-2.3 1.3z"/>
<path class="kap" d="M131.4 297.3l2.7 1.2 2.3-1.3-2.7-1.1z"/>
<path class="kaq" d="M134.9 302.4l2.7 1.2-.1-4.4-2.7-1.2z"/>
<path class="kar" d="M137.6 303.6l2.2-1.3 0-4.4-2.3 1.3z"/>
<path class="kas" d="M134.8 298l2.7 1.2 2.3-1.3-2.8-1.1z"/>
<path class="kak" d="M138.3 303.9l2.7 1.1-.1-5.5-2.7-1.1z"/>
<path class="kal" d="M141 305l2.2-1.3-.1-5.5-2.2 1.3z"/>
<path class="kam" d="M138.2 298.4l2.7 1.1 2.2-1.3-2.7-1.1z"/>
<path class="kak" d="M141.7 305.3l2.7 1.2 0-5.5-2.8-1.1z"/>
<path class="kal" d="M144.4 306.5l2.2-1.4-.1-5.4-2.1 1.3z"/>
<path class="kam" d="M141.6 299.9l2.8 1.1 2.1-1.3-2.7-1.2z"/>
<path class="kat" d="M145.1 306.8l2.7 1.2 0-3.4-2.7-1.2z"/>
<path class="kau" d="M147.8 308l2.2-1.4 0-3.4-2.2 1.4z"/>
<path class="kav" d="M145.1 303.4l2.7 1.2 2.2-1.4-2.8-1.1z"/>
<path class="kaw" d="M148.5 308.3l2.7 1.2 0-6.5-2.8-1.2z"/>
<path class="kax" d="M151.2 309.5l2.2-1.5-.1-6.4-2.1 1.4z"/>
<path class="kay" d="M148.4 301.8l2.8 1.2 2.1-1.4-2.7-1.1z"/>
<path class="kak" d="M151.9 309.7l2.7 1.2 0-5.7-2.7-1.2z"/>
<path class="kal" d="M154.6 310.9l2.2-1.4-.1-5.7-2.1 1.4z"/>
<path class="kam" d="M151.9 304l2.7 1.2 2.1-1.4-2.7-1.2z"/>
<path class="kak" d="M155.3 311.2l2.7 1.2 0-5.8-2.7-1.2z"/>
<path class="kal" d="M158 312.4l2.2-1.5-.1-5.8-2.1 1.5z"/>
<path class="kam" d="M155.3 305.4l2.7 1.2 2.1-1.5-2.7-1.1z"/>
<path class="kaz" d="M158.7 312.7l2.7 1.2 0-3-2.7-1.2z"/>
<path class="kba" d="M161.4 313.9l2.2-1.5 0-3-2.2 1.5z"/>
<path class="kbb" d="M158.7 309.7l2.7 1.2 2.2-1.5-2.8-1.1z"/>
<path class="kaw" d="M162.1 314.2l2.8 1.1-.1-6-2.7-1.2z"/>
<path class="kax" d="M164.9 315.3l2.1-1.5-.1-6-2.1 1.5z"/>
<path class="kay" d="M162.1 308.1l2.7 1.2 2.1-1.5-2.7-1.1z"/>
<path class="kak" d="M165.5 315.6l2.8 1.2-.1-5.3-2.7-1.1z"/>
<path class="kal" d="M168.3 316.8l2.1-1.5-.1-5.3-2.1 1.5z"/>
<path class="kam" d="M165.5 310.4l2.7 1.1 2.1-1.5-2.7-1.1z"/>
<path class="kan" d="M118.4 298l2.8 1.2-.1-4-2.8-1.2z"/>
<path class="kao" d="M121.2 299.2l2.2-1.2-.1-4-2.2 1.2z"/>
<path class="kap" d="M118.3 294l2.8 1.2 2.2-1.2-2.7-1.1z"/>
<path class="kaq" d="M121.9 299.5l2.7 1.2-.1-4.5-2.7-1.2z"/>
<path class="kar" d="M124.6 300.7l2.2-1.2-.1-4.5-2.2 1.2z"/>
<path class="kas" d="M121.8 295l2.7 1.2 2.2-1.2-2.7-1.2z"/>
<path class="kaq" d="M125.3 301l2.7 1.2-.1-4.6-2.7-1.2z"/>
<path class="kar" d="M128 302.2l2.2-1.2 0-4.6-2.3 1.2z"/>
<path class="kas" d="M125.2 296.4l2.7 1.2 2.3-1.2-2.8-1.2z"/>
<path class="kak" d="M128.7 302.5l2.7 1.2-.1-5.1-2.7-1.2z"/>
<path class="kal" d="M131.4 303.7l2.2-1.3 0-5.1-2.3 1.3z"/>
<path class="kam" d="M128.6 297.4l2.7 1.2 2.3-1.3-2.8-1.1z"/>
<path class="kaq" d="M132.1 304l2.7 1.2 0-5-2.8-1.2z"/>
<path class="kar" d="M134.8 305.2l2.3-1.3-.1-5-2.2 1.3z"/>
<path class="kas" d="M132 299l2.8 1.2 2.2-1.3-2.7-1.1z"/>
<path class="kaw" d="M135.5 305.5l2.8 1.2-.1-6.4-2.8-1.2z"/>
<path class="kax" d="M138.3 306.7l2.2-1.3-.1-6.4-2.2 1.3z"/>
<path class="kay" d="M135.4 299.1l2.8 1.2 2.2-1.3-2.8-1.1z"/>
<path class="kaw" d="M139 307l2.7 1.2-.1-6-2.7-1.2z"/>
<path class="kax" d="M141.7 308.2l2.2-1.3-.1-6.1-2.2 1.4z"/>
<path class="kay" d="M138.9 301l2.7 1.2 2.2-1.4-2.7-1.1z"/>
<path class="kaw" d="M142.4 308.5l2.7 1.2-.1-6.5-2.7-1.2z"/>
<path class="kax" d="M145.1 309.7l2.2-1.4-.1-6.4-2.2 1.3z"/>
<path class="kay" d="M142.3 302l2.7 1.2 2.2-1.3-2.7-1.2z"/>
<path class="kaw" d="M145.8 310l2.7 1.2 0-5.8-2.8-1.2z"/>
<path class="kax" d="M148.5 311.2l2.2-1.4-.1-5.8-2.1 1.4z"/>
<path class="kay" d="M145.7 304.2l2.8 1.2 2.1-1.4-2.7-1.2z"/>
<path class="kaw" d="M149.2 311.5l2.7 1.2 0-6.1-2.8-1.1z"/>
<path class="kax" d="M151.9 312.7l2.2-1.4-.1-6.1-2.1 1.4z"/>
<path class="kay" d="M149.1 305.5l2.8 1.1 2.1-1.4-2.7-1.1z"/>
<path class="kaw" d="M152.6 313l2.8 1.2-.1-6.4-2.7-1.2z"/>
<path class="kax" d="M155.4 314.2l2.1-1.4 0-6.5-2.2 1.5z"/>
<path class="kay" d="M152.6 306.6l2.7 1.2 2.2-1.5-2.8-1.1z"/>
<path class="kaq" d="M156 314.5l2.8 1.2-.1-4.7-2.7-1.2z"/>
<path class="kar" d="M158.8 315.7l2.1-1.5 0-4.7-2.2 1.5z"/>
<path class="kas" d="M156 309.8l2.7 1.2 2.2-1.5-2.8-1.1z"/>
<path class="kaq" d="M159.5 316l2.7 1.2 0-5.1-2.8-1.2z"/>
<path class="kar" d="M162.2 317.2l2.1-1.5 0-5.1-2.1 1.5z"/>
<path class="kas" d="M159.4 310.9l2.8 1.2 2.1-1.5-2.7-1.2z"/>
<path class="kak" d="M162.9 317.5l2.7 1.2 0-5.7-2.8-1.2z"/>
<path class="kal" d="M165.6 318.7l2.1-1.5 0-5.7-2.1 1.5z"/>
<path class="kam" d="M162.8 311.8l2.8 1.2 2.1-1.5-2.7-1.2z"/>
<path class="kah" d="M166.3 319l2.7 1.2 0-2.6-2.7-1.2z"/>
<path class="kai" d="M169 320.2l2.1-1.5 0-2.6-2.1 1.5z"/>
<path class="kaj" d="M166.3 316.4l2.7 1.2 2.1-1.5-2.7-1.2z"/>
<path class="kah" d="M112.2 298l2.7 1.2-.1-3-2.7-1.2z"/>
<path class="kai" d="M114.9 299.2l2.3-1.2-.1-3-2.3 1.2z"/>
<path class="kaj" d="M112.1 295l2.7 1.2 2.3-1.2-2.7-1.2z"/>
<path class="kak" d="M115.6 299.5l2.8 1.2-.2-5.2-2.7-1.2z"/>
<path class="kal" d="M118.4 300.7l2.2-1.2-.1-5.2-2.3 1.2z"/>
<path class="kam" d="M115.5 294.3l2.7 1.2 2.3-1.2-2.7-1.2z"/>
<path class="kan" d="M119 301.1l2.8 1.2-.1-4.2-2.8-1.2z"/>
<path class="kao" d="M121.8 302.3l2.2-1.3-.1-4.1-2.2 1.2z"/>
<path class="kap" d="M118.9 296.9l2.8 1.2 2.2-1.2-2.7-1.2z"/>
<path class="kaq" d="M122.5 302.6l2.7 1.2-.1-4.6-2.7-1.2z"/>
<path class="kar" d="M125.2 303.8l2.2-1.3 0-4.5-2.3 1.2z"/>
<path class="kas" d="M122.4 298l2.7 1.2 2.3-1.2-2.8-1.2z"/>
<path class="kaq" d="M125.9 304.1l2.8 1.2-.1-5-2.8-1.2z"/>
<path class="kar" d="M128.7 305.3l2.2-1.3-.1-4.9-2.2 1.2z"/>
<path class="kas" d="M125.8 299.1l2.8 1.2 2.2-1.2-2.8-1.2z"/>
<path class="kat" d="M129.3 305.6l2.8 1.3-.1-3.4-2.7-1.2z"/>
<path class="kau" d="M132.1 306.9l2.2-1.3-.1-3.4-2.2 1.3z"/>
<path class="kav" d="M129.3 302.3l2.7 1.2 2.2-1.3-2.7-1.2z"/>
<path class="kaz" d="M132.8 307.2l2.7 1.2 0-2.5-2.8-1.2z"/>
<path class="kba" d="M135.5 308.4l2.2-1.3 0-2.5-2.2 1.3z"/>
<path class="kbb" d="M132.7 304.7l2.8 1.2 2.2-1.3-2.8-1.2z"/>
<path class="kak" d="M136.2 308.7l2.8 1.2-.1-5.7-2.8-1.2z"/>
<path class="kal" d="M139 309.9l2.1-1.3 0-5.7-2.2 1.3z"/>
<path class="kam" d="M136.1 303l2.8 1.2 2.2-1.3-2.8-1.2z"/>
<path class="kaq" d="M139.6 310.2l2.8 1.3-.1-5.1-2.7-1.1z"/>
<path class="kar" d="M142.4 311.5l2.2-1.4-.1-5-2.2 1.3z"/>
<path class="kas" d="M139.6 305.3l2.7 1.1 2.2-1.3-2.7-1.2z"/>
<path class="kaq" d="M143.1 311.8l2.7 1.2 0-4.8-2.8-1.2z"/>
<path class="kar" d="M145.8 313l2.2-1.4-.1-4.7-2.1 1.3z"/>
<path class="kas" d="M143 307l2.8 1.2 2.1-1.3-2.7-1.2z"/>
<path class="kaw" d="M146.5 313.3l2.8 1.2-.1-6.6-2.8-1.2z"/>
<path class="kax" d="M149.3 314.5l2.1-1.4-.1-6.6-2.1 1.4z"/>
<path class="kay" d="M146.4 306.7l2.8 1.2 2.1-1.4-2.7-1.2z"/>
<path class="kaw" d="M149.9 314.8l2.8 1.3-.1-6.3-2.7-1.2z"/>
<path class="kax" d="M152.7 316.1l2.1-1.5 0-6.2-2.2 1.4z"/>
<path class="kay" d="M149.9 308.6l2.7 1.2 2.2-1.4-2.8-1.2z"/>
<path class="kaw" d="M153.4 316.4l2.7 1.2 0-6.2-2.8-1.2z"/>
<path class="kax" d="M156.1 317.6l2.2-1.5-.1-6.2-2.1 1.5z"/>
<path class="kay" d="M153.3 310.2l2.8 1.2 2.1-1.5-2.8-1.1z"/>
<path class="kaq" d="M156.8 317.9l2.8 1.2-.1-4.8-2.7-1.2z"/>
<path class="kar" d="M159.6 319.1l2.1-1.5-.1-4.8-2.1 1.5z"/>
<path class="kas" d="M156.8 313.1l2.7 1.2 2.1-1.5-2.7-1.2z"/>
<path class="kaw" d="M160.2 319.4l2.8 1.3-.1-6.9-2.7-1.2z"/>
<path class="kax" d="M163 320.7l2.1-1.6-.1-6.8-2.1 1.5z"/>
<path class="kay" d="M160.2 312.6l2.7 1.2 2.1-1.5-2.7-1.2z"/>
<path class="kak" d="M112.8 301l2.7 1.3-.1-5.1-2.7-1.2z"/>
<path class="kal" d="M115.5 302.3l2.3-1.2-.1-5.1-2.3 1.2z"/>
<path class="kam" d="M112.7 296l2.7 1.2 2.3-1.2-2.8-1.2z"/>
<path class="kaw" d="M116.2 302.6l2.8 1.2-.2-6-2.7-1.2z"/>
<path class="kax" d="M119 303.8l2.2-1.2-.1-6-2.3 1.2z"/>
<path class="kay" d="M116.1 296.6l2.7 1.2 2.3-1.2-2.8-1.2z"/>
<path class="kak" d="M119.7 304.1l2.7 1.3-.1-5.4-2.7-1.2z"/>
<path class="kal" d="M122.4 305.4l2.3-1.3-.1-5.3-2.3 1.2z"/>
<path class="kam" d="M119.6 298.8l2.7 1.2 2.3-1.2-2.8-1.2z"/>
<path class="kak" d="M123.1 305.7l2.8 1.3-.1-5.5-2.8-1.2z"/>
<path class="kal" d="M125.9 307l2.2-1.3-.1-5.4-2.2 1.2z"/>
<path class="kam" d="M123 300.3l2.8 1.2 2.2-1.2-2.8-1.2z"/>
<path class="kak" d="M126.6 307.3l2.7 1.2-.1-5.2-2.7-1.2z"/>
<path class="kal" d="M129.3 308.5l2.2-1.3-.1-5.2-2.2 1.3z"/>
<path class="kam" d="M126.5 302.1l2.7 1.2 2.2-1.3-2.7-1.2z"/>
<path class="kak" d="M130 308.8l2.8 1.3-.1-5.3-2.8-1.2z"/>
<path class="kal" d="M132.8 310.1l2.2-1.4-.1-5.2-2.2 1.3z"/>
<path class="kam" d="M129.9 303.6l2.8 1.2 2.2-1.3-2.8-1.2z"/>
<path class="kak" d="M133.5 310.4l2.7 1.2-.1-5.8-2.7-1.2z"/>
<path class="kal" d="M136.2 311.6l2.2-1.3-.1-5.8-2.2 1.3z"/>
<path class="kam" d="M133.4 304.6l2.7 1.2 2.2-1.3-2.7-1.2z"/>
<path class="kak" d="M136.9 312l2.8 1.2-.1-5.5-2.8-1.2z"/>
<path class="kal" d="M139.7 313.2l2.1-1.4 0-5.4-2.2 1.3z"/>
<path class="kam" d="M136.8 306.5l2.8 1.2 2.2-1.3-2.8-1.2z"/>
<path class="kaw" d="M140.4 313.5l2.7 1.3-.1-6.1-2.7-1.2z"/>
<path class="kax" d="M143.1 314.8l2.2-1.4-.1-6-2.2 1.3z"/>
<path class="kay" d="M140.3 307.5l2.7 1.2 2.2-1.3-2.8-1.2z"/>
<path class="kak" d="M143.8 315.1l2.8 1.2-.1-5.9-2.8-1.2z"/>
<path class="kal" d="M146.6 316.3l2.1-1.4-.1-5.9-2.1 1.4z"/>
<path class="kam" d="M143.7 309.2l2.8 1.2 2.1-1.4-2.7-1.2z"/>
<path class="kaw" d="M147.3 316.6l2.7 1.3-.1-6.5-2.7-1.2z"/>
<path class="kax" d="M150 317.9l2.2-1.5-.1-6.4-2.2 1.4z"/>
<path class="kay" d="M147.2 310.2l2.7 1.2 2.2-1.4-2.8-1.2z"/>
<path class="kak" d="M150.7 318.2l2.8 1.3-.1-5.6-2.8-1.3z"/>
<path class="kal" d="M153.5 319.5l2.1-1.5-.1-5.6-2.1 1.5z"/>
<path class="kam" d="M150.6 312.6l2.8 1.3 2.1-1.5-2.7-1.2z"/>
<path class="kan" d="M154.1 319.8l2.8 1.2 0-4.1-2.8-1.2z"/>
<path class="kao" d="M156.9 321l2.1-1.5 0-4.1-2.1 1.5z"/>
<path class="kap" d="M154.1 315.7l2.8 1.2 2.1-1.5-2.8-1.2z"/>
<path class="kaq" d="M157.6 321.3l2.8 1.3-.1-5-2.8-1.2z"/>
<path class="kar" d="M160.4 322.6l2.1-1.6-.1-4.9-2.1 1.5z"/>
<path class="kas" d="M157.5 316.4l2.8 1.2 2.1-1.5-2.7-1.2z"/>
<path class="kah" d="M161 322.9l2.8 1.2 0-2.5-2.8-1.2z"/>
<path class="kai" d="M163.8 324.1l2.1-1.5 0-2.5-2.1 1.5z"/>
<path class="kaj" d="M161 320.4l2.8 1.2 2.1-1.5-2.8-1.3z"/>
<path class="kah" d="M106.5 300.9l2.8 1.3-.1-2.6-2.8-1.2z"/>
<path class="kai" d="M109.3 302.2l2.2-1.2 0-2.5-2.3 1.1z"/>
<path class="kaj" d="M106.4 298.4l2.8 1.2 2.3-1.1-2.8-1.3z"/>
<path class="kah" d="M113.4 304.1l2.8 1.3-.1-2.4-2.7-1.3z"/>
<path class="kai" d="M116.2 305.4l2.2-1.3 0-2.3-2.3 1.2z"/>
<path class="kaj" d="M113.4 301.7l2.7 1.3 2.3-1.2-2.8-1.3z"/>
<path class="kah" d="M120.3 307.3l2.8 1.3-.1-3.1-2.7-1.2z"/>
<path class="kai" d="M123.1 308.6l2.2-1.3 0-3-2.3 1.2z"/>
<path class="kaj" d="M120.3 304.3l2.7 1.2 2.3-1.2-2.8-1.3z"/>
<path class="kah" d="M127.3 310.5l2.7 1.3 0-3.3-2.8-1.2z"/>
<path class="kai" d="M130 311.8l2.2-1.4 0-3.2-2.2 1.3z"/>
<path class="kaj" d="M127.2 307.3l2.8 1.2 2.2-1.3-2.8-1.2z"/>
<path class="kah" d="M134.2 313.7l2.7 1.2 0-2.5-2.8-1.3z"/>
<path class="kai" d="M136.9 314.9l2.2-1.3 0-2.6-2.2 1.4z"/>
<path class="kaj" d="M134.1 311.1l2.8 1.3 2.2-1.4-2.8-1.2z"/>
<path class="kah" d="M141.1 316.9l2.8 1.2-.1-2.4-2.7-1.3z"/>
<path class="kai" d="M143.9 318.1l2.1-1.4 0-2.5-2.2 1.5z"/>
<path class="kaj" d="M141.1 314.4l2.7 1.3 2.2-1.5-2.8-1.2z"/>
<path class="kah" d="M148 320l2.8 1.3-.1-3-2.7-1.2z"/>
<path class="kai" d="M150.8 321.3l2.1-1.5 0-2.9-2.2 1.4z"/>
<path class="kaj" d="M148 317.1l2.7 1.2 2.2-1.4-2.8-1.3z"/>
<path class="kah" d="M154.9 323.2l2.8 1.3 0-3.2-2.8-1.2z"/>
<path class="kai" d="M157.7 324.5l2.1-1.5 0-3.2-2.1 1.5z"/>
<path class="kaj" d="M154.9 320.1l2.8 1.2 2.1-1.5-2.8-1.2z"/>
</g>
<line x1="105.1" y1="303.3" x2="102.6" y2="210.9" stroke="#333" stroke-width="0.6"/>
<line x1="105.1" y1="303.3" x2="161.8" y2="329.8" stroke="#333" stroke-width="0.6"/>
<line x1="161.8" y1="329.8" x2="204.6" y2="297.2" stroke="#333" stroke-width="0.6"/>
<line x1="105.1" y1="303.3" x2="103.5" y2="303.3" stroke="#333" stroke-width="0.4"/>
<text x="103.3" y="306.7" font-family="'Liberation Serif',serif" font-size="4.1" font-style="italic" text-anchor="end" fill="#333">0.0</text>
<line x1="104.8" y1="291.8" x2="103.2" y2="291.8" stroke="#333" stroke-width="0.4"/>
<text x="103" y="295.1" font-family="'Liberation Serif',serif" font-size="4.1" font-style="italic" text-anchor="end" fill="#333">0.1</text>
<line x1="104.5" y1="280.2" x2="102.9" y2="280.2" stroke="#333" stroke-width="0.4"/>
<text x="102.7" y="283.6" font-family="'Liberation Serif',serif" font-size="4.1" font-style="italic" text-anchor="end" fill="#333">0.2</text>
<line x1="104.2" y1="268.6" x2="102.6" y2="268.6" stroke="#333" stroke-width="0.4"/>
<text x="102.4" y="272" font-family="'Liberation Serif',serif" font-size="4.1" font-style="italic" text-anchor="end" fill="#333">0.3</text>
<line x1="103.8" y1="257.1" x2="102.2" y2="257.1" stroke="#333" stroke-width="0.4"/>
<text x="102" y="260.5" font-family="'Liberation Serif',serif" font-size="4.1" font-style="italic" text-anchor="end" fill="#333">0.4</text>
<line x1="103.5" y1="245.6" x2="101.9" y2="245.6" stroke="#333" stroke-width="0.4"/>
<text x="101.7" y="249" font-family="'Liberation Serif',serif" font-size="4.1" font-style="italic" text-anchor="end" fill="#333">0.5</text>
<line x1="103.2" y1="234" x2="101.6" y2="234" stroke="#333" stroke-width="0.4"/>
<text x="101.4" y="237.4" font-family="'Liberation Serif',serif" font-size="4.1" font-style="italic" text-anchor="end" fill="#333">0.6</text>
<line x1="102.9" y1="222.4" x2="101.3" y2="222.4" stroke="#333" stroke-width="0.4"/>
<text x="101.1" y="225.8" font-family="'Liberation Serif',serif" font-size="4.1" font-style="italic" text-anchor="end" fill="#333">0.7</text>
<line x1="102.6" y1="210.9" x2="101" y2="210.9" stroke="#333" stroke-width="0.4"/>
<text x="100.8" y="214.3" font-family="'Liberation Serif',serif" font-size="4.1" font-style="italic" text-anchor="end" fill="#333">0.8</text>
<text font-family="'Liberation Serif',serif" font-size="7.2" font-weight="bold" text-anchor="middle" transform="translate(89.9 262) rotate(90)">Z (m)</text>
<line x1="106.8" y1="304.1" x2="106" y2="305.7" stroke="#333" stroke-width="0.4"/>
<text font-family="'Liberation Serif',serif" font-size="3.6" font-style="italic" text-anchor="middle" fill="#333" transform="translate(103.8 309.1) rotate(28)">0.0</text>
<line x1="117.5" y1="309.1" x2="116.7" y2="310.7" stroke="#333" stroke-width="0.4"/>
<text font-family="'Liberation Serif',serif" font-size="3.6" font-style="italic" text-anchor="middle" fill="#333" transform="translate(114.5 314.1) rotate(28)">0.1</text>
<line x1="128.1" y1="314.1" x2="127.3" y2="315.7" stroke="#333" stroke-width="0.4"/>
<text font-family="'Liberation Serif',serif" font-size="3.6" font-style="italic" text-anchor="middle" fill="#333" transform="translate(125.1 319.1) rotate(28)">0.2</text>
<line x1="138.8" y1="319" x2="138" y2="320.6" stroke="#333" stroke-width="0.4"/>
<text font-family="'Liberation Serif',serif" font-size="3.6" font-style="italic" text-anchor="middle" fill="#333" transform="translate(135.8 324) rotate(28)">0.3</text>
<line x1="149.4" y1="324" x2="148.6" y2="325.6" stroke="#333" stroke-width="0.4"/>
<text font-family="'Liberation Serif',serif" font-size="3.6" font-style="italic" text-anchor="middle" fill="#333" transform="translate(146.4 329) rotate(28)">0.4</text>
<line x1="160.1" y1="329" x2="159.3" y2="330.6" stroke="#333" stroke-width="0.4"/>
<text font-family="'Liberation Serif',serif" font-size="3.6" font-style="italic" text-anchor="middle" fill="#333" transform="translate(157.1 334) rotate(28)">0.5</text>
<line x1="163.1" y1="328.8" x2="164.1" y2="330.2" stroke="#333" stroke-width="0.4"/>
<text font-family="'Liberation Serif',serif" font-size="3.6" font-style="italic" text-anchor="middle" fill="#333" transform="translate(166.9 332.4) rotate(-35)">0.0</text>
<line x1="171.1" y1="322.7" x2="172.1" y2="324.1" stroke="#333" stroke-width="0.4"/>
<text font-family="'Liberation Serif',serif" font-size="3.6" font-style="italic" text-anchor="middle" fill="#333" transform="translate(174.9 326.3) rotate(-35)">0.1</text>
<line x1="179.2" y1="316.6" x2="180.2" y2="318" stroke="#333" stroke-width="0.4"/>
<text font-family="'Liberation Serif',serif" font-size="3.6" font-style="italic" text-anchor="middle" fill="#333" transform="translate(183 320.2) rotate(-35)">0.2</text>
<line x1="187.2" y1="310.4" x2="188.2" y2="311.8" stroke="#333" stroke-width="0.4"/>
<text font-family="'Liberation Serif',serif" font-size="3.6" font-style="italic" text-anchor="middle" fill="#333" transform="translate(191 314) rotate(-35)">0.3</text>
<line x1="195.3" y1="304.3" x2="196.3" y2="305.7" stroke="#333" stroke-width="0.4"/>
<text font-family="'Liberation Serif',serif" font-size="3.6" font-style="italic" text-anchor="middle" fill="#333" transform="translate(199.1 307.9) rotate(-35)">0.4</text>
<line x1="203.3" y1="298.2" x2="204.3" y2="299.6" stroke="#333" stroke-width="0.4"/>
<text font-family="'Liberation Serif',serif" font-size="3.6" font-style="italic" text-anchor="middle" fill="#333" transform="translate(207.1 301.8) rotate(-35)">0.5</text>
<text font-family="'Liberation Serif',serif" font-size="5.4" font-weight="bold" font-style="italic" text-anchor="middle" transform="translate(119.8 323.2) rotate(30)">X (m)</text>
<text font-family="'Liberation Serif',serif" font-size="5.4" font-weight="bold" font-style="italic" text-anchor="middle" transform="translate(194.5 320) rotate(-38)">Y (m)</text>
<rect x="212.3" y="202.1" width="5.9" height="13.3" fill="#c0c0c0"/>
<rect x="212.3" y="215.2" width="5.9" height="13.3" fill="#0000ff"/>
<rect x="212.3" y="228.4" width="5.9" height="13.3" fill="#0080ff"/>
<rect x="212.3" y="241.5" width="5.9" height="13.3" fill="#00ffff"/>
<rect x="212.3" y="254.7" width="5.9" height="13.3" fill="#00ff00"/>
<rect x="212.3" y="267.8" width="5.9" height="13.3" fill="#80ff00"/>
<rect x="212.3" y="280.9" width="5.9" height="13.3" fill="#ffff00"/>
<rect x="212.3" y="294.1" width="5.9" height="13.3" fill="#ff8000"/>
<rect x="212.3" y="307.2" width="5.9" height="13.3" fill="#ff0000"/>
<rect x="212.3" y="320.4" width="5.9" height="13.3" fill="#000000"/>
<rect x="212.3" y="202.1" width="5.9" height="13.1" fill="none" stroke="#999" stroke-width="0.4"/>
<line x1="218.2" y1="215.2" x2="219.9" y2="215.2" stroke="#444" stroke-width="0.4"/>
<text x="221.7" y="217.1" font-family="'Liberation Serif',serif" font-size="5.6" fill="#222">1.000</text>
<line x1="218.2" y1="228.4" x2="219.9" y2="228.4" stroke="#444" stroke-width="0.4"/>
<text x="221.7" y="230.3" font-family="'Liberation Serif',serif" font-size="5.6" fill="#222">0.8750</text>
<line x1="218.2" y1="241.5" x2="219.9" y2="241.5" stroke="#444" stroke-width="0.4"/>
<text x="221.7" y="243.4" font-family="'Liberation Serif',serif" font-size="5.6" fill="#222">0.7500</text>
<line x1="218.2" y1="254.7" x2="219.9" y2="254.7" stroke="#444" stroke-width="0.4"/>
<text x="221.7" y="256.6" font-family="'Liberation Serif',serif" font-size="5.6" fill="#222">0.6250</text>
<line x1="218.2" y1="267.8" x2="219.9" y2="267.8" stroke="#444" stroke-width="0.4"/>
<text x="221.7" y="269.7" font-family="'Liberation Serif',serif" font-size="5.6" fill="#222">0.5000</text>
<line x1="218.2" y1="280.9" x2="219.9" y2="280.9" stroke="#444" stroke-width="0.4"/>
<text x="221.7" y="282.8" font-family="'Liberation Serif',serif" font-size="5.6" fill="#222">0.3750</text>
<line x1="218.2" y1="294.1" x2="219.9" y2="294.1" stroke="#444" stroke-width="0.4"/>
<text x="221.7" y="296" font-family="'Liberation Serif',serif" font-size="5.6" fill="#222">0.2500</text>
<line x1="218.2" y1="307.2" x2="219.9" y2="307.2" stroke="#444" stroke-width="0.4"/>
<text x="221.7" y="309.1" font-family="'Liberation Serif',serif" font-size="5.6" fill="#222">0.1250</text>
<line x1="218.2" y1="320.4" x2="219.9" y2="320.4" stroke="#444" stroke-width="0.4"/>
<text x="221.7" y="322.3" font-family="'Liberation Serif',serif" font-size="5.6" fill="#222">0.000</text>
<text x="89" y="194.5" font-family="'Liberation Serif',serif" font-size="19.5" font-weight="bold" text-anchor="middle">d</text>
</g>
<g id="panel-e">
<polygon points="331.4,303.3 377.9,279 377.9,200.1 328.9,210.9" fill="#fff" stroke="#cfcfcf" stroke-width="0.4" stroke-linejoin="round"/>
<polygon points="377.9,279 430.9,297.2 432.8,208.9 377.9,200.1" fill="#fff" stroke="#cfcfcf" stroke-width="0.4" stroke-linejoin="round"/>
<polygon points="331.4,303.3 388.1,329.8 430.9,297.2 377.9,279" fill="#fff" stroke="#cfcfcf" stroke-width="0.4" stroke-linejoin="round"/>
<line x1="331.4" y1="303.3" x2="377.9" y2="279" stroke="#d4d4d4" stroke-width="0.4"/>
<line x1="377.9" y1="279" x2="430.9" y2="297.2" stroke="#d4d4d4" stroke-width="0.4"/>
<line x1="331.2" y1="297.5" x2="377.9" y2="274.1" stroke="#d4d4d4" stroke-width="0.4"/>
<line x1="377.9" y1="274.1" x2="431" y2="291.7" stroke="#d4d4d4" stroke-width="0.4"/>
<line x1="331.1" y1="291.8" x2="377.9" y2="269.1" stroke="#d4d4d4" stroke-width="0.4"/>
<line x1="377.9" y1="269.1" x2="431.1" y2="286.2" stroke="#d4d4d4" stroke-width="0.4"/>
<line x1="330.9" y1="286" x2="377.9" y2="264.2" stroke="#d4d4d4" stroke-width="0.4"/>
<line x1="377.9" y1="264.2" x2="431.3" y2="280.6" stroke="#d4d4d4" stroke-width="0.4"/>
<line x1="330.8" y1="280.2" x2="377.9" y2="259.3" stroke="#d4d4d4" stroke-width="0.4"/>
<line x1="377.9" y1="259.3" x2="431.4" y2="275.1" stroke="#d4d4d4" stroke-width="0.4"/>
<line x1="330.6" y1="274.4" x2="377.9" y2="254.3" stroke="#d4d4d4" stroke-width="0.4"/>
<line x1="377.9" y1="254.3" x2="431.5" y2="269.6" stroke="#d4d4d4" stroke-width="0.4"/>
<line x1="330.5" y1="268.6" x2="377.9" y2="249.4" stroke="#d4d4d4" stroke-width="0.4"/>
<line x1="377.9" y1="249.4" x2="431.6" y2="264.1" stroke="#d4d4d4" stroke-width="0.4"/>
<line x1="330.3" y1="262.9" x2="377.9" y2="244.5" stroke="#d4d4d4" stroke-width="0.4"/>
<line x1="377.9" y1="244.5" x2="431.7" y2="258.6" stroke="#d4d4d4" stroke-width="0.4"/>
<line x1="330.1" y1="257.1" x2="377.9" y2="239.6" stroke="#d4d4d4" stroke-width="0.4"/>
<line x1="377.9" y1="239.6" x2="431.9" y2="253.1" stroke="#d4d4d4" stroke-width="0.4"/>
<line x1="330" y1="251.3" x2="377.9" y2="234.6" stroke="#d4d4d4" stroke-width="0.4"/>
<line x1="377.9" y1="234.6" x2="432" y2="247.5" stroke="#d4d4d4" stroke-width="0.4"/>
<line x1="329.8" y1="245.6" x2="377.9" y2="229.7" stroke="#d4d4d4" stroke-width="0.4"/>
<line x1="377.9" y1="229.7" x2="432.1" y2="242" stroke="#d4d4d4" stroke-width="0.4"/>
<line x1="329.7" y1="239.8" x2="377.9" y2="224.8" stroke="#d4d4d4" stroke-width="0.4"/>
<line x1="377.9" y1="224.8" x2="432.2" y2="236.5" stroke="#d4d4d4" stroke-width="0.4"/>
<line x1="329.5" y1="234" x2="377.9" y2="219.8" stroke="#d4d4d4" stroke-width="0.4"/>
<line x1="377.9" y1="219.8" x2="432.3" y2="231" stroke="#d4d4d4" stroke-width="0.4"/>
<line x1="329.4" y1="228.2" x2="377.9" y2="214.9" stroke="#d4d4d4" stroke-width="0.4"/>
<line x1="377.9" y1="214.9" x2="432.4" y2="225.5" stroke="#d4d4d4" stroke-width="0.4"/>
<line x1="329.2" y1="222.4" x2="377.9" y2="210" stroke="#d4d4d4" stroke-width="0.4"/>
<line x1="377.9" y1="210" x2="432.6" y2="219.9" stroke="#d4d4d4" stroke-width="0.4"/>
<line x1="329.1" y1="216.7" x2="377.9" y2="205" stroke="#d4d4d4" stroke-width="0.4"/>
<line x1="377.9" y1="205" x2="432.7" y2="214.4" stroke="#d4d4d4" stroke-width="0.4"/>
<line x1="328.9" y1="210.9" x2="377.9" y2="200.1" stroke="#d4d4d4" stroke-width="0.4"/>
<line x1="377.9" y1="200.1" x2="432.8" y2="208.9" stroke="#d4d4d4" stroke-width="0.4"/>
<line x1="341.4" y1="298.1" x2="339.4" y2="208.6" stroke="#d4d4d4" stroke-width="0.4"/>
<line x1="387.2" y1="282.2" x2="387.6" y2="201.6" stroke="#d4d4d4" stroke-width="0.4"/>
<line x1="351.1" y1="293" x2="349.7" y2="206.3" stroke="#d4d4d4" stroke-width="0.4"/>
<line x1="397.6" y1="285.8" x2="398.3" y2="203.4" stroke="#d4d4d4" stroke-width="0.4"/>
<line x1="360.6" y1="288" x2="359.7" y2="204.1" stroke="#d4d4d4" stroke-width="0.4"/>
<line x1="408.4" y1="289.5" x2="409.5" y2="205.2" stroke="#d4d4d4" stroke-width="0.4"/>
<line x1="369.7" y1="283.3" x2="369.3" y2="202" stroke="#d4d4d4" stroke-width="0.4"/>
<line x1="419.5" y1="293.3" x2="421" y2="207" stroke="#d4d4d4" stroke-width="0.4"/>
<g stroke-width=".15" stroke-linejoin="round">
<path class="kae" d="M332.2 303.3l55.4 25.8 0-2.6-55.4-25.6z"/>
<path class="kaf" d="M387.6 329.1l41.9-31.7 0-2.3-41.9 31.4z"/>
<path class="kag" d="M332.2 300.9l55.4 25.6 41.9-31.4-51.9-17.6z"/>
<path class="kah" d="M378.6 280l2.7 .9 0-2.6-2.7-.8z"/>
<path class="kai" d="M381.3 280.9l2.2-1.2 0-2.5-2.2 1.1z"/>
<path class="kaj" d="M378.6 277.5l2.7 .8 2.2-1.1-2.6-.9z"/>
<path class="kah" d="M385.2 282.3l2.6 .9 0-2.9-2.6-.8z"/>
<path class="kai" d="M387.8 283.2l2.2-1.3 0-2.8-2.2 1.2z"/>
<path class="kaj" d="M385.2 279.5l2.6 .8 2.2-1.2-2.6-.9z"/>
<path class="kah" d="M391.7 284.5l2.6 .9 0-2.1-2.6-.9z"/>
<path class="kai" d="M394.3 285.4l2.2-1.3 0-2.1-2.2 1.3z"/>
<path class="kaj" d="M391.7 282.4l2.6 .9 2.2-1.3-2.6-.9z"/>
<path class="kah" d="M398.2 286.8l2.6 .9 0-2.8-2.6-.9z"/>
<path class="kai" d="M400.8 287.7l2.2-1.4 0-2.7-2.2 1.3z"/>
<path class="kaj" d="M398.2 284l2.6 .9 2.2-1.3-2.6-.9z"/>
<path class="kah" d="M404.7 289.1l2.6 .9 0-2.8-2.6-.9z"/>
<path class="kai" d="M407.3 290l2.2-1.4 0-2.8-2.2 1.4z"/>
<path class="kaj" d="M404.7 286.3l2.6 .9 2.2-1.4-2.6-.9z"/>
<path class="kah" d="M411.2 291.3l2.6 .9 0-2.1-2.6-.9z"/>
<path class="kai" d="M413.8 292.2l2.1-1.4 .1-2.2-2.2 1.5z"/>
<path class="kaj" d="M411.2 289.2l2.6 .9 2.2-1.5-2.6-.8z"/>
<path class="kah" d="M417.7 293.6l2.6 .9 .1-3-2.6-.9z"/>
<path class="kai" d="M420.3 294.5l2.1-1.5 .1-3-2.1 1.5z"/>
<path class="kaj" d="M417.8 290.6l2.6 .9 2.1-1.5-2.6-.8z"/>
<path class="kah" d="M424.2 295.9l2.6 .9 .1-2.4-2.6-.9z"/>
<path class="kai" d="M426.8 296.8l2.1-1.6 .1-2.3-2.1 1.5z"/>
<path class="kaj" d="M424.3 293.5l2.6 .9 2.1-1.5-2.6-.9z"/>
<path class="kah" d="M372.6 280.4l2.6 .9 0-2.2-2.7-.9z"/>
<path class="kai" d="M375.2 281.3l2.2-1.2 0-2.2-2.2 1.2z"/>
<path class="kaj" d="M372.5 278.2l2.7 .9 2.2-1.2-2.6-.9z"/>
<path class="kaz" d="M375.8 281.5l2.6 .9 0-3.1-2.6-.9z"/>
<path class="kba" d="M378.4 282.4l2.3-1.2 0-3.1-2.3 1.2z"/>
<path class="kbb" d="M375.8 278.4l2.6 .9 2.3-1.2-2.6-.9z"/>
<path class="kbc" d="M379.1 282.7l2.6 .9 0-2.4-2.6-.9z"/>
<path class="kbd" d="M381.7 283.6l2.2-1.2 .1-2.4-2.3 1.2z"/>
<path class="kbe" d="M379.1 280.3l2.6 .9 2.3-1.2-2.7-.9z"/>
<path class="kbc" d="M382.4 283.8l2.6 1 0-2-2.6-1z"/>
<path class="kbd" d="M385 284.8l2.2-1.3 0-2-2.2 1.3z"/>
<path class="kbe" d="M382.4 281.8l2.6 1 2.2-1.3-2.6-.9z"/>
<path class="kaz" d="M385.6 285l2.6 .9 .1-3.1-2.7-1z"/>
<path class="kba" d="M388.2 285.9l2.3-1.3 0-3.1-2.2 1.3z"/>
<path class="kbb" d="M385.6 281.8l2.7 1 2.2-1.3-2.6-.9z"/>
<path class="kaz" d="M388.9 286.2l2.6 .9 0-3.8-2.6-.9z"/>
<path class="kba" d="M391.5 287.1l2.2-1.3 0-3.8-2.2 1.3z"/>
<path class="kbb" d="M388.9 282.4l2.6 .9 2.2-1.3-2.6-.9z"/>
<path class="kaz" d="M392.2 287.3l2.6 1 0-4-2.6-.9z"/>
<path class="kba" d="M394.8 288.3l2.2-1.4 0-3.9-2.2 1.3z"/>
<path class="kbb" d="M392.2 283.4l2.6 .9 2.2-1.3-2.6-.9z"/>
<path class="kat" d="M395.4 288.5l2.7 .9 0-5-2.6-.9z"/>
<path class="kau" d="M398.1 289.4l2.1-1.3 .1-5-2.2 1.3z"/>
<path class="kav" d="M395.5 283.5l2.6 .9 2.2-1.3-2.6-.9z"/>
<path class="kat" d="M398.7 289.7l2.6 .9 .1-4.6-2.7-.9z"/>
<path class="kau" d="M401.3 290.6l2.2-1.4 0-4.6-2.1 1.4z"/>
<path class="kav" d="M398.7 285.1l2.7 .9 2.1-1.4-2.6-.8z"/>
<path class="kat" d="M402 290.8l2.6 .9 0-5.2-2.6-.9z"/>
<path class="kau" d="M404.6 291.7l2.2-1.4 0-5.1-2.2 1.3z"/>
<path class="kav" d="M402 285.6l2.6 .9 2.2-1.3-2.6-.9z"/>
<path class="kaz" d="M405.2 292l2.7 .9 0-4.4-2.6-.9z"/>
<path class="kba" d="M407.9 292.9l2.1-1.4 .1-4.4-2.2 1.4z"/>
<path class="kbb" d="M405.3 287.6l2.6 .9 2.2-1.4-2.6-.9z"/>
<path class="kbc" d="M408.5 293.1l2.6 1 .1-3-2.7-.9z"/>
<path class="kbd" d="M411.1 294.1l2.2-1.5 0-2.9-2.1 1.4z"/>
<path class="kbe" d="M408.5 290.2l2.7 .9 2.1-1.4-2.6-.9z"/>
<path class="kbc" d="M411.8 294.3l2.6 .9 0-2.9-2.6-.9z"/>
<path class="kbd" d="M414.4 295.2l2.1-1.5 .1-2.9-2.2 1.5z"/>
<path class="kbe" d="M411.8 291.4l2.6 .9 2.2-1.5-2.6-.9z"/>
<path class="kbc" d="M415 295.5l2.7 .9 0-2.2-2.6-.9z"/>
<path class="kbd" d="M417.7 296.4l2.1-1.5 0-2.2-2.1 1.5z"/>
<path class="kbe" d="M415.1 293.3l2.6 .9 2.1-1.5-2.6-.9z"/>
<path class="kaz" d="M418.3 296.6l2.6 1 .1-4.1-2.6-.9z"/>
<path class="kba" d="M420.9 297.6l2.1-1.6 .1-4-2.1 1.5z"/>
<path class="kbb" d="M418.4 292.6l2.6 .9 2.1-1.5-2.6-.9z"/>
<path class="kbc" d="M373 283l2.6 1 0-2.1-2.6-1z"/>
<path class="kbd" d="M375.6 284l2.3-1.2 0-2.1-2.3 1.2z"/>
<path class="kbe" d="M373 280.9l2.6 1 2.3-1.2-2.6-1z"/>
<path class="kaz" d="M376.3 284.2l2.6 1 0-3.8-2.6-1z"/>
<path class="kba" d="M378.9 285.2l2.2-1.3 0-3.7-2.2 1.2z"/>
<path class="kbb" d="M376.3 280.4l2.6 1 2.2-1.2-2.6-1z"/>
<path class="kaz" d="M379.6 285.4l2.6 1 0-3.5-2.6-1z"/>
<path class="kba" d="M382.2 286.4l2.2-1.3 0-3.5-2.2 1.3z"/>
<path class="kbb" d="M379.6 281.9l2.6 1 2.2-1.3-2.6-.9z"/>
<path class="kat" d="M382.8 286.6l2.7 1 0-4.4-2.7-1z"/>
<path class="kau" d="M385.5 287.6l2.2-1.3 0-4.4-2.2 1.3z"/>
<path class="kav" d="M382.8 282.2l2.7 1 2.2-1.3-2.6-.9z"/>
<path class="kaz" d="M386.1 287.8l2.7 .9 0-4.3-2.7-.9z"/>
<path class="kba" d="M388.8 288.7l2.2-1.3 0-4.3-2.2 1.3z"/>
<path class="kbb" d="M386.1 283.5l2.7 .9 2.2-1.3-2.6-.9z"/>
<path class="kat" d="M389.4 289l2.6 .9 .1-5.1-2.7-1z"/>
<path class="kau" d="M392 289.9l2.2-1.3 .1-5.1-2.2 1.3z"/>
<path class="kav" d="M389.4 283.8l2.7 1 2.2-1.3-2.7-.9z"/>
<path class="kat" d="M392.7 290.2l2.6 .9 0-5.2-2.6-.9z"/>
<path class="kau" d="M395.3 291.1l2.2-1.3 0-5.2-2.2 1.3z"/>
<path class="kav" d="M392.7 285l2.6 .9 2.2-1.3-2.6-.9z"/>
<path class="kat" d="M396 291.4l2.6 .9 0-4.7-2.6-.9z"/>
<path class="kau" d="M398.6 292.3l2.2-1.4 0-4.6-2.2 1.3z"/>
<path class="kav" d="M396 286.7l2.6 .9 2.2-1.3-2.6-1z"/>
<path class="kaz" d="M399.3 292.6l2.6 .9 0-3.7-2.6-1z"/>
<path class="kba" d="M401.9 293.5l2.1-1.4 .1-3.7-2.2 1.4z"/>
<path class="kbb" d="M399.3 288.8l2.6 1 2.2-1.4-2.6-.9z"/>
<path class="kaz" d="M402.5 293.8l2.7 .9 0-4.1-2.6-.9z"/>
<path class="kba" d="M405.2 294.7l2.1-1.4 .1-4.1-2.2 1.4z"/>
<path class="kbb" d="M402.6 289.7l2.6 .9 2.2-1.4-2.7-.9z"/>
<path class="kbc" d="M405.8 294.9l2.6 1 .1-2.8-2.7-1z"/>
<path class="kbd" d="M408.4 295.9l2.2-1.5 0-2.8-2.1 1.5z"/>
<path class="kbe" d="M405.8 292.1l2.7 1 2.1-1.5-2.6-.9z"/>
<path class="kbc" d="M409.1 296.1l2.6 1 .1-2.5-2.7-.9z"/>
<path class="kbd" d="M411.7 297.1l2.2-1.5 0-2.5-2.1 1.5z"/>
<path class="kbe" d="M409.1 293.7l2.7 .9 2.1-1.5-2.6-.9z"/>
<path class="kaz" d="M412.4 297.3l2.6 1 .1-3.9-2.7-1z"/>
<path class="kba" d="M415 298.3l2.1-1.5 .1-3.9-2.1 1.5z"/>
<path class="kbb" d="M412.4 293.4l2.7 1 2.1-1.5-2.6-.9z"/>
<path class="kbc" d="M415.7 298.5l2.6 1 0-2.2-2.6-1z"/>
<path class="kbd" d="M418.3 299.5l2.1-1.6 0-2.1-2.1 1.5z"/>
<path class="kbe" d="M415.7 296.3l2.6 1 2.1-1.5-2.6-1z"/>
<path class="kah" d="M419 299.7l2.6 1 0-2.6-2.6-1z"/>
<path class="kai" d="M421.6 300.7l2.1-1.6 0-2.6-2.1 1.6z"/>
<path class="kaj" d="M419 297.1l2.6 1 2.1-1.6-2.6-.9z"/>
<path class="kah" d="M366.9 283.3l2.6 1 0-2.9-2.6-1z"/>
<path class="kai" d="M369.5 284.3l2.3-1.2 0-2.9-2.3 1.2z"/>
<path class="kaj" d="M366.9 280.4l2.6 1 2.3-1.2-2.7-.9z"/>
<path class="kbc" d="M370.2 284.5l2.6 1 0-2-2.6-1z"/>
<path class="kbd" d="M372.8 285.5l2.3-1.2 0-2-2.3 1.2z"/>
<path class="kbe" d="M370.2 282.5l2.6 1 2.3-1.2-2.7-1z"/>
<path class="kbc" d="M373.5 285.7l2.6 1 0-3.1-2.6-.9z"/>
<path class="kbd" d="M376.1 286.7l2.2-1.2 0-3.1-2.2 1.2z"/>
<path class="kbe" d="M373.5 282.7l2.6 .9 2.2-1.2-2.6-.9z"/>
<path class="kaz" d="M376.8 287l2.6 .9 0-3.3-2.6-.9z"/>
<path class="kba" d="M379.4 287.9l2.2-1.2 0-3.3-2.2 1.2z"/>
<path class="kbb" d="M376.8 283.7l2.6 .9 2.2-1.2-2.6-.9z"/>
<path class="kan" d="M380.1 288.2l2.6 1 0-6.2-2.7-1z"/>
<path class="kao" d="M382.7 289.2l2.2-1.3 0-6.2-2.2 1.3z"/>
<path class="kap" d="M380 282l2.7 1 2.2-1.3-2.6-.9z"/>
<path class="kat" d="M383.4 289.4l2.6 1 0-5.5-2.7-.9z"/>
<path class="kau" d="M386 290.4l2.2-1.3 0-5.4-2.2 1.2z"/>
<path class="kav" d="M383.3 284l2.7 .9 2.2-1.2-2.6-1z"/>
<path class="kat" d="M386.7 290.6l2.6 1 0-4.5-2.6-1z"/>
<path class="kau" d="M389.3 291.6l2.2-1.3 0-4.5-2.2 1.3z"/>
<path class="kav" d="M386.7 286.1l2.6 1 2.2-1.3-2.6-.9z"/>
<path class="kat" d="M389.9 291.9l2.7 .9 0-5.5-2.6-1z"/>
<path class="kau" d="M392.6 292.8l2.2-1.3 0-5.5-2.2 1.3z"/>
<path class="kav" d="M390 286.3l2.6 1 2.2-1.3-2.6-1z"/>
<path class="kaz" d="M393.2 293.1l2.7 1 0-3.5-2.6-.9z"/>
<path class="kba" d="M395.9 294.1l2.2-1.4 0-3.4-2.2 1.3z"/>
<path class="kbb" d="M393.3 289.7l2.6 .9 2.2-1.3-2.7-1z"/>
<path class="kbc" d="M396.5 294.3l2.7 1 0-3.3-2.6-1z"/>
<path class="kbd" d="M399.2 295.3l2.1-1.4 .1-3.3-2.2 1.4z"/>
<path class="kbe" d="M396.6 291l2.6 1 2.2-1.4-2.7-1z"/>
<path class="kaz" d="M399.8 295.5l2.7 1 0-4-2.6-1z"/>
<path class="kba" d="M402.5 296.5l2.1-1.4 .1-4-2.2 1.4z"/>
<path class="kbb" d="M399.9 291.5l2.6 1 2.2-1.4-2.7-1z"/>
<path class="kaz" d="M403.1 296.8l2.7 .9 0-3.4-2.6-.9z"/>
<path class="kba" d="M405.8 297.7l2.1-1.4 0-3.4-2.1 1.4z"/>
<path class="kbb" d="M403.2 293.4l2.6 .9 2.1-1.4-2.6-1z"/>
<path class="kaz" d="M406.4 298l2.7 1 0-4.3-2.6-1z"/>
<path class="kba" d="M409.1 299l2.1-1.5 0-4.3-2.1 1.5z"/>
<path class="kbb" d="M406.5 293.7l2.6 1 2.1-1.5-2.6-.9z"/>
<path class="kaz" d="M409.7 299.2l2.7 1 0-3.5-2.6-1z"/>
<path class="kba" d="M412.4 300.2l2.1-1.5 0-3.5-2.1 1.5z"/>
<path class="kbb" d="M409.8 295.7l2.6 1 2.1-1.5-2.6-.9z"/>
<path class="kaz" d="M413 300.4l2.7 1 0-4.2-2.6-.9z"/>
<path class="kba" d="M415.7 301.4l2.1-1.5 0-4.2-2.1 1.5z"/>
<path class="kbb" d="M413.1 296.3l2.6 .9 2.1-1.5-2.6-.9z"/>
<path class="kaz" d="M367.3 286l2.7 1 0-3.9-2.7-1z"/>
<path class="kba" d="M370 287l2.2-1.2 0-3.9-2.2 1.2z"/>
<path class="kbb" d="M367.3 282.1l2.7 1 2.2-1.2-2.6-1z"/>
<path class="kat" d="M370.7 287.3l2.6 1 0-5.4-2.7-.9z"/>
<path class="kau" d="M373.3 288.3l2.2-1.3 0-5.3-2.2 1.2z"/>
<path class="kav" d="M370.6 282l2.7 .9 2.2-1.2-2.6-.9z"/>
<path class="kaz" d="M374 288.5l2.6 1 0-4-2.7-1z"/>
<path class="kba" d="M376.6 289.5l2.2-1.2 0-4.1-2.2 1.3z"/>
<path class="kbb" d="M373.9 284.5l2.7 1 2.2-1.3-2.6-.9z"/>
<path class="kat" d="M377.3 289.8l2.6 1 0-5.4-2.6-1z"/>
<path class="kau" d="M379.9 290.8l2.2-1.3 0-5.3-2.2 1.2z"/>
<path class="kav" d="M377.3 284.4l2.6 1 2.2-1.2-2.6-1z"/>
<path class="kbc" d="M380.6 291l2.6 1 0-3.1-2.6-1z"/>
<path class="kbd" d="M383.2 292l2.2-1.3 0-3.1-2.2 1.3z"/>
<path class="kbe" d="M380.6 287.9l2.6 1 2.2-1.3-2.6-.9z"/>
<path class="kaz" d="M383.9 292.3l2.6 1 0-4.2-2.6-1z"/>
<path class="kba" d="M386.5 293.3l2.2-1.3 0-4.2-2.2 1.3z"/>
<path class="kbb" d="M383.9 288.1l2.6 1 2.2-1.3-2.6-1z"/>
<path class="kat" d="M387.2 293.5l2.7 1 0-4.5-2.7-1z"/>
<path class="kau" d="M389.9 294.5l2.1-1.3 0-4.5-2.1 1.3z"/>
<path class="kav" d="M387.2 289l2.7 1 2.1-1.3-2.6-1z"/>
<path class="kaz" d="M390.5 294.8l2.7 1 0-3.6-2.7-1z"/>
<path class="kba" d="M393.2 295.8l2.1-1.4 0-3.6-2.1 1.4z"/>
<path class="kbb" d="M390.5 291.2l2.7 1 2.1-1.4-2.6-1z"/>
<path class="kbc" d="M393.8 296.1l2.7 1 0-2.6-2.7-1z"/>
<path class="kbd" d="M396.5 297.1l2.1-1.5 0-2.5-2.1 1.4z"/>
<path class="kbe" d="M393.8 293.5l2.7 1 2.1-1.4-2.6-.9z"/>
<path class="kat" d="M397.1 297.3l2.7 1 0-5.3-2.7-1z"/>
<path class="kau" d="M399.8 298.3l2.1-1.4 .1-5.3-2.2 1.4z"/>
<path class="kav" d="M397.1 292l2.7 1 2.2-1.4-2.7-1z"/>
<path class="kan" d="M400.4 298.6l2.7 1 0-6.5-2.6-1z"/>
<path class="kao" d="M403.1 299.6l2.1-1.5 .1-6.4-2.2 1.4z"/>
<path class="kap" d="M400.5 292.1l2.6 1 2.2-1.4-2.7-1z"/>
<path class="kat" d="M403.8 299.8l2.6 1 0-5.5-2.6-1z"/>
<path class="kau" d="M406.4 300.8l2.1-1.5 .1-5.5-2.2 1.5z"/>
<path class="kav" d="M403.8 294.3l2.6 1 2.2-1.5-2.7-.9z"/>
<path class="kaz" d="M407.1 301.1l2.6 1 0-3.8-2.6-1z"/>
<path class="kba" d="M409.7 302.1l2.1-1.5 .1-3.8-2.2 1.5z"/>
<path class="kbb" d="M407.1 297.3l2.6 1 2.2-1.5-2.7-1z"/>
<path class="kbc" d="M410.4 302.3l2.6 1 0-3.4-2.6-1z"/>
<path class="kbd" d="M413 303.3l2.1-1.5 .1-3.4-2.2 1.5z"/>
<path class="kbe" d="M410.4 298.9l2.6 1 2.2-1.5-2.7-.9z"/>
<path class="kah" d="M413.7 303.6l2.6 1 .1-2.7-2.7-1z"/>
<path class="kai" d="M416.3 304.6l2.1-1.6 .1-2.6-2.1 1.5z"/>
<path class="kaj" d="M413.7 300.9l2.7 1 2.1-1.5-2.7-1z"/>
<path class="kah" d="M361.2 286.2l2.7 1.1-.1-2.4-2.6-1z"/>
<path class="kai" d="M363.9 287.3l2.2-1.2 0-2.4-2.3 1.2z"/>
<path class="kaj" d="M361.2 283.9l2.6 1 2.3-1.2-2.7-1z"/>
<path class="kaq" d="M364.5 287.5l2.7 1-.1-6.6-2.6-1z"/>
<path class="kar" d="M367.2 288.5l2.2-1.2 0-6.6-2.3 1.2z"/>
<path class="kas" d="M364.5 280.9l2.6 1 2.3-1.2-2.7-1z"/>
<path class="kaz" d="M367.8 288.8l2.7 1 0-3.6-2.7-1z"/>
<path class="kba" d="M370.5 289.8l2.2-1.2 0-3.6-2.2 1.2z"/>
<path class="kbb" d="M367.8 285.2l2.7 1 2.2-1.2-2.6-1z"/>
<path class="kaz" d="M371.2 290.1l2.6 1 0-4.1-2.7-1z"/>
<path class="kba" d="M373.8 291.1l2.3-1.3-.1-4-2.2 1.2z"/>
<path class="kbb" d="M371.1 286l2.7 1 2.2-1.2-2.6-1z"/>
<path class="kat" d="M374.5 291.4l2.6 1 0-5.5-2.6-1z"/>
<path class="kau" d="M377.1 292.4l2.3-1.3-.1-5.4-2.2 1.2z"/>
<path class="kav" d="M374.5 285.9l2.6 1 2.2-1.2-2.6-1z"/>
<path class="kat" d="M377.8 292.7l2.7 1 0-4.6-2.7-1z"/>
<path class="kau" d="M380.5 293.7l2.2-1.3 0-4.6-2.2 1.3z"/>
<path class="kav" d="M377.8 288.1l2.7 1 2.2-1.3-2.7-.9z"/>
<path class="kbc" d="M381.1 293.9l2.7 1.1 0-2.9-2.7-1z"/>
<path class="kbd" d="M383.8 295l2.2-1.4 0-2.8-2.2 1.3z"/>
<path class="kbe" d="M381.1 291.1l2.7 1 2.2-1.3-2.7-1z"/>
<path class="kbc" d="M384.5 295.2l2.6 1.1 0-3.1-2.6-1z"/>
<path class="kbd" d="M387.1 296.3l2.2-1.4 0-3.1-2.2 1.4z"/>
<path class="kbe" d="M384.5 292.2l2.6 1 2.2-1.4-2.6-1z"/>
<path class="kaz" d="M387.8 296.5l2.6 1 0-4.1-2.6-1z"/>
<path class="kba" d="M390.4 297.5l2.2-1.3 0-4.1-2.2 1.3z"/>
<path class="kbb" d="M387.8 292.4l2.6 1 2.2-1.3-2.6-1z"/>
<path class="kat" d="M391.1 297.8l2.7 1 0-5.1-2.7-1z"/>
<path class="kau" d="M393.8 298.8l2.1-1.4 0-5.1-2.1 1.4z"/>
<path class="kav" d="M391.1 292.7l2.7 1 2.1-1.4-2.6-.9z"/>
<path class="kaz" d="M394.4 299.1l2.7 1 0-4.6-2.7-1z"/>
<path class="kba" d="M397.1 300.1l2.1-1.4 .1-4.6-2.2 1.4z"/>
<path class="kbb" d="M394.4 294.5l2.7 1 2.2-1.4-2.7-.9z"/>
<path class="kan" d="M397.8 300.4l2.6 1 0-6.5-2.6-.9z"/>
<path class="kao" d="M400.4 301.4l2.2-1.5 0-6.4-2.2 1.4z"/>
<path class="kap" d="M397.8 294l2.6 .9 2.2-1.4-2.7-.9z"/>
<path class="kan" d="M401.1 301.7l2.6 1 .1-6.2-2.7-1z"/>
<path class="kao" d="M403.7 302.7l2.2-1.5 0-6.2-2.1 1.5z"/>
<path class="kap" d="M401.1 295.5l2.7 1 2.1-1.5-2.7-1z"/>
<path class="kaz" d="M404.4 302.9l2.7 1.1 0-4.1-2.7-1z"/>
<path class="kba" d="M407.1 304l2.1-1.5 0-4.1-2.1 1.5z"/>
<path class="kbb" d="M404.4 298.9l2.7 1 2.1-1.5-2.6-1z"/>
<path class="kat" d="M407.7 304.2l2.7 1.1 0-5.1-2.6-1z"/>
<path class="kau" d="M410.4 305.3l2.1-1.6 0-5-2.1 1.5z"/>
<path class="kav" d="M407.8 299.2l2.6 1 2.1-1.5-2.6-.9z"/>
<path class="kat" d="M361.7 289l2.7 1.1-.1-5.5-2.7-1z"/>
<path class="kau" d="M364.4 290.1l2.2-1.2 0-5.4-2.3 1.1z"/>
<path class="kav" d="M361.6 283.6l2.7 1 2.3-1.1-2.7-1z"/>
<path class="kat" d="M365 290.3l2.7 1.1 0-4.6-2.7-1z"/>
<path class="kau" d="M367.7 291.4l2.2-1.3 0-4.5-2.2 1.2z"/>
<path class="kav" d="M365 285.8l2.7 1 2.2-1.2-2.7-1z"/>
<path class="kat" d="M368.4 291.7l2.6 1 0-4.5-2.7-1.1z"/>
<path class="kau" d="M371 292.7l2.3-1.3-.1-4.5-2.2 1.3z"/>
<path class="kav" d="M368.3 287.1l2.7 1.1 2.2-1.3-2.6-1z"/>
<path class="kaz" d="M371.7 293l2.7 1-.1-4.3-2.6-1z"/>
<path class="kba" d="M374.4 294l2.2-1.3 0-4.3-2.3 1.3z"/>
<path class="kbb" d="M371.7 288.7l2.6 1 2.3-1.3-2.7-1z"/>
<path class="kaz" d="M375 294.3l2.7 1 0-3.5-2.7-1.1z"/>
<path class="kba" d="M377.7 295.3l2.2-1.3 0-3.5-2.2 1.3z"/>
<path class="kbb" d="M375 290.7l2.7 1.1 2.2-1.3-2.7-1z"/>
<path class="kaz" d="M378.4 295.6l2.6 1.1 0-3.4-2.6-1z"/>
<path class="kba" d="M381 296.7l2.2-1.4 0-3.3-2.2 1.3z"/>
<path class="kbb" d="M378.4 292.3l2.6 1 2.2-1.3-2.6-1z"/>
<path class="kbc" d="M381.7 296.9l2.7 1.1 0-2.2-2.7-1.1z"/>
<path class="kbd" d="M384.4 298l2.2-1.4 0-2.2-2.2 1.4z"/>
<path class="kbe" d="M381.7 294.7l2.7 1.1 2.2-1.4-2.7-1z"/>
<path class="kbc" d="M385.1 298.2l2.6 1.1 0-2.2-2.7-1.1z"/>
<path class="kbd" d="M387.7 299.3l2.2-1.4 0-2.2-2.2 1.4z"/>
<path class="kbe" d="M385 296l2.7 1.1 2.2-1.4-2.7-1z"/>
<path class="kat" d="M388.4 299.5l2.7 1.1 0-5.3-2.7-1z"/>
<path class="kau" d="M391.1 300.6l2.1-1.4 0-5.3-2.1 1.4z"/>
<path class="kav" d="M388.4 294.3l2.7 1 2.1-1.4-2.6-1z"/>
<path class="kat" d="M391.7 300.9l2.7 1 0-5.3-2.7-1z"/>
<path class="kau" d="M394.4 301.9l2.2-1.4 0-5.3-2.2 1.4z"/>
<path class="kav" d="M391.7 295.6l2.7 1 2.2-1.4-2.7-1z"/>
<path class="kat" d="M395.1 302.2l2.6 1 0-5.8-2.6-1.1z"/>
<path class="kau" d="M397.7 303.2l2.2-1.4 0-5.9-2.2 1.5z"/>
<path class="kav" d="M395.1 296.3l2.6 1.1 2.2-1.5-2.7-1z"/>
<path class="kat" d="M398.4 303.5l2.7 1 0-5.6-2.7-1z"/>
<path class="kau" d="M401.1 304.5l2.1-1.4 0-5.6-2.1 1.4z"/>
<path class="kav" d="M398.4 297.9l2.7 1 2.1-1.4-2.6-1z"/>
<path class="kaz" d="M401.7 304.8l2.7 1.1 0-4.6-2.7-1z"/>
<path class="kba" d="M404.4 305.9l2.1-1.5 .1-4.5-2.2 1.4z"/>
<path class="kbb" d="M401.7 300.3l2.7 1 2.2-1.4-2.7-1.1z"/>
<path class="kaz" d="M405.1 306.1l2.6 1.1 .1-4.6-2.7-1z"/>
<path class="kba" d="M407.7 307.2l2.2-1.6 0-4.5-2.1 1.5z"/>
<path class="kbb" d="M405.1 301.6l2.7 1 2.1-1.5-2.7-1z"/>
<path class="kah" d="M408.4 307.4l2.7 1.1 0-3.3-2.7-1z"/>
<path class="kai" d="M411.1 308.5l2.1-1.6 0-3.2-2.1 1.5z"/>
<path class="kaj" d="M408.4 304.2l2.7 1 2.1-1.5-2.7-1.1z"/>
<path class="kah" d="M355.5 289.2l2.7 1 0-2.8-2.7-1.1z"/>
<path class="kai" d="M358.2 290.2l2.3-1.1-.1-2.9-2.2 1.2z"/>
<path class="kaj" d="M355.5 286.3l2.7 1.1 2.2-1.2-2.7-1z"/>
<path class="kaz" d="M358.9 290.5l2.6 1.1 0-3.4-2.7-1.1z"/>
<path class="kba" d="M361.5 291.6l2.3-1.2 0-3.4-2.3 1.2z"/>
<path class="kbb" d="M358.8 287.1l2.7 1.1 2.3-1.2-2.7-1z"/>
<path class="kaz" d="M362.2 291.9l2.7 1 0-3.4-2.7-1z"/>
<path class="kba" d="M364.9 292.9l2.2-1.2 0-3.4-2.2 1.2z"/>
<path class="kbb" d="M362.2 288.5l2.7 1 2.2-1.2-2.7-1z"/>
<path class="kat" d="M365.6 293.2l2.6 1.1 0-5-2.7-1.1z"/>
<path class="kau" d="M368.2 294.3l2.3-1.3-.1-4.9-2.2 1.2z"/>
<path class="kav" d="M365.5 288.2l2.7 1.1 2.2-1.2-2.6-1.1z"/>
<path class="kat" d="M368.9 294.6l2.7 1 0-5.6-2.7-1z"/>
<path class="kau" d="M371.6 295.6l2.2-1.3 0-5.5-2.2 1.2z"/>
<path class="kav" d="M368.9 289l2.7 1 2.2-1.2-2.7-1z"/>
<path class="kat" d="M372.3 295.9l2.6 1.1 0-5.6-2.7-1z"/>
<path class="kau" d="M374.9 297l2.3-1.3-.1-5.6-2.2 1.3z"/>
<path class="kav" d="M372.2 290.4l2.7 1 2.2-1.3-2.7-1z"/>
<path class="kaz" d="M375.6 297.3l2.7 1 0-3.9-2.7-1.1z"/>
<path class="kba" d="M378.3 298.3l2.2-1.3 0-3.9-2.2 1.3z"/>
<path class="kbb" d="M375.6 293.3l2.7 1.1 2.2-1.3-2.7-1.1z"/>
<path class="kaz" d="M379 298.6l2.7 1.1-.1-3.9-2.7-1z"/>
<path class="kba" d="M381.7 299.7l2.1-1.4 0-3.8-2.2 1.3z"/>
<path class="kbb" d="M378.9 294.8l2.7 1 2.2-1.3-2.7-1z"/>
<path class="kbc" d="M382.3 299.9l2.7 1.1 0-3-2.7-1.1z"/>
<path class="kbd" d="M385 301l2.2-1.4 0-3-2.2 1.4z"/>
<path class="kbe" d="M382.3 296.9l2.7 1.1 2.2-1.4-2.7-1z"/>
<path class="kat" d="M385.7 301.3l2.7 1.1-.1-5.2-2.6-1z"/>
<path class="kau" d="M388.4 302.4l2.1-1.4 0-5.1-2.2 1.3z"/>
<path class="kav" d="M385.7 296.2l2.6 1 2.2-1.3-2.7-1.1z"/>
<path class="kaz" d="M389 302.6l2.7 1.1 0-4.6-2.7-1.1z"/>
<path class="kba" d="M391.7 303.7l2.2-1.4 0-4.6-2.2 1.4z"/>
<path class="kbb" d="M389 298l2.7 1.1 2.2-1.4-2.7-1.1z"/>
<path class="kan" d="M392.4 304l2.7 1.1-.1-6.7-2.6-1z"/>
<path class="kao" d="M395.1 305.1l2.1-1.5 0-6.6-2.2 1.4z"/>
<path class="kap" d="M392.4 297.4l2.6 1 2.2-1.4-2.7-1z"/>
<path class="kat" d="M395.7 305.3l2.7 1.1 0-4.8-2.7-1.1z"/>
<path class="kau" d="M398.4 306.4l2.1-1.5 0-4.8-2.1 1.5z"/>
<path class="kav" d="M395.7 300.5l2.7 1.1 2.1-1.5-2.6-1z"/>
<path class="kat" d="M399.1 306.7l2.7 1.1 0-5.6-2.7-1z"/>
<path class="kau" d="M401.8 307.8l2.1-1.6 0-5.5-2.1 1.5z"/>
<path class="kav" d="M399.1 301.2l2.7 1 2.1-1.5-2.7-1z"/>
<path class="kan" d="M402.4 308l2.7 1.1 0-6.4-2.7-1z"/>
<path class="kao" d="M405.1 309.1l2.1-1.5 0-6.4-2.1 1.5z"/>
<path class="kap" d="M402.4 301.7l2.7 1 2.1-1.5-2.6-1z"/>
<path class="kaz" d="M356 292l2.7 1.1 0-4-2.7-1.1z"/>
<path class="kba" d="M358.7 293.1l2.3-1.2-.1-4-2.2 1.2z"/>
<path class="kbb" d="M356 288l2.7 1.1 2.2-1.2-2.7-1z"/>
<path class="kbc" d="M359.4 293.4l2.7 1.1 0-3.3-2.7-1.1z"/>
<path class="kbd" d="M362.1 294.5l2.2-1.2 0-3.3-2.2 1.2z"/>
<path class="kbe" d="M359.4 290.1l2.7 1.1 2.2-1.2-2.7-1.1z"/>
<path class="kan" d="M362.8 294.8l2.7 1.1-.1-6.2-2.7-1z"/>
<path class="kao" d="M365.5 295.9l2.2-1.3-.1-6.1-2.2 1.2z"/>
<path class="kap" d="M362.7 288.7l2.7 1 2.2-1.2-2.7-1z"/>
<path class="kaz" d="M366.1 296.2l2.7 1.1 0-4-2.7-1.1z"/>
<path class="kba" d="M368.8 297.3l2.2-1.3 0-4-2.2 1.3z"/>
<path class="kbb" d="M366.1 292.2l2.7 1.1 2.2-1.3-2.7-1.1z"/>
<path class="kaz" d="M369.5 297.5l2.7 1.1-.1-4.3-2.6-1.1z"/>
<path class="kba" d="M372.2 298.6l2.2-1.3 0-4.3-2.3 1.3z"/>
<path class="kbb" d="M369.5 293.2l2.6 1.1 2.3-1.3-2.7-1z"/>
<path class="kat" d="M372.9 298.9l2.7 1.1-.1-5.3-2.7-1.1z"/>
<path class="kau" d="M375.6 300l2.2-1.3-.1-5.3-2.2 1.3z"/>
<path class="kav" d="M372.8 293.6l2.7 1.1 2.2-1.3-2.7-1z"/>
<path class="kbc" d="M376.2 300.3l2.7 1.1 0-3.4-2.7-1.1z"/>
<path class="kbd" d="M378.9 301.4l2.2-1.4 0-3.4-2.2 1.4z"/>
<path class="kbe" d="M376.2 296.9l2.7 1.1 2.2-1.4-2.7-1z"/>
<path class="kaz" d="M379.6 301.7l2.7 1.1 0-4-2.7-1.1z"/>
<path class="kba" d="M382.3 302.8l2.2-1.4-.1-3.9-2.1 1.3z"/>
<path class="kbb" d="M379.6 297.7l2.7 1.1 2.1-1.3-2.6-1.1z"/>
<path class="kat" d="M383 303l2.6 1.1 0-5.4-2.7-1.1z"/>
<path class="kau" d="M385.6 304.1l2.2-1.4 0-5.4-2.2 1.4z"/>
<path class="kav" d="M382.9 297.6l2.7 1.1 2.2-1.4-2.7-1z"/>
<path class="kat" d="M386.3 304.4l2.7 1.1 0-5.5-2.7-1.1z"/>
<path class="kau" d="M389 305.5l2.2-1.4 0-5.5-2.2 1.4z"/>
<path class="kav" d="M386.3 298.9l2.7 1.1 2.2-1.4-2.7-1z"/>
<path class="kaz" d="M389.7 305.8l2.7 1.1 0-4.5-2.7-1z"/>
<path class="kba" d="M392.4 306.9l2.1-1.5 0-4.4-2.1 1.4z"/>
<path class="kbb" d="M389.7 301.4l2.7 1 2.1-1.4-2.7-1.1z"/>
<path class="kan" d="M393.1 307.2l2.6 1.1 0-6.8-2.7-1.1z"/>
<path class="kao" d="M395.7 308.3l2.2-1.5 0-6.8-2.2 1.5z"/>
<path class="kap" d="M393 300.4l2.7 1.1 2.2-1.5-2.7-1z"/>
<path class="kaz" d="M396.4 308.6l2.7 1.1 0-4.6-2.7-1.1z"/>
<path class="kba" d="M399.1 309.7l2.1-1.6 0-4.5-2.1 1.5z"/>
<path class="kbb" d="M396.4 304l2.7 1.1 2.1-1.5-2.7-1.1z"/>
<path class="kaq" d="M399.8 309.9l2.7 1.1 0-7.5-2.7-1z"/>
<path class="kar" d="M402.5 311l2.1-1.5 0-7.5-2.1 1.5z"/>
<path class="kas" d="M399.8 302.5l2.7 1 2.1-1.5-2.7-1z"/>
<path class="kah" d="M403.1 311.3l2.7 1.1 0-3.2-2.7-1.1z"/>
<path class="kai" d="M405.8 312.4l2.1-1.6 0-3.1-2.1 1.5z"/>
<path class="kaj" d="M403.1 308.1l2.7 1.1 2.1-1.5-2.6-1.1z"/>
<path class="kah" d="M349.8 292.1l2.7 1.1 0-2.1-2.7-1.1z"/>
<path class="kai" d="M352.5 293.2l2.3-1.2 0-2.1-2.3 1.2z"/>
<path class="kaj" d="M349.8 290l2.7 1.1 2.3-1.2-2.7-1.1z"/>
<path class="kaz" d="M353.2 293.5l2.7 1.1 0-3.8-2.8-1.1z"/>
<path class="kba" d="M355.9 294.6l2.3-1.2-.1-3.8-2.2 1.2z"/>
<path class="kbb" d="M353.1 289.7l2.8 1.1 2.2-1.2-2.7-1.1z"/>
<path class="kaz" d="M356.6 294.9l2.7 1.2-.1-3.5-2.7-1.1z"/>
<path class="kba" d="M359.3 296.1l2.2-1.3 0-3.4-2.3 1.2z"/>
<path class="kbb" d="M356.5 291.5l2.7 1.1 2.3-1.2-2.7-1.1z"/>
<path class="kaz" d="M360 296.3l2.7 1.2-.1-4.6-2.7-1.1z"/>
<path class="kba" d="M362.7 297.5l2.2-1.3-.1-4.6-2.2 1.3z"/>
<path class="kbb" d="M359.9 291.8l2.7 1.1 2.2-1.3-2.7-1z"/>
<path class="kat" d="M363.3 297.7l2.7 1.2 0-4.7-2.7-1.1z"/>
<path class="kau" d="M366 298.9l2.3-1.3-.1-4.7-2.2 1.3z"/>
<path class="kav" d="M363.3 293.1l2.7 1.1 2.2-1.3-2.7-1z"/>
<path class="kaz" d="M366.7 299.2l2.7 1.1 0-3.9-2.7-1.1z"/>
<path class="kba" d="M369.4 300.3l2.2-1.3 0-3.9-2.2 1.3z"/>
<path class="kbb" d="M366.7 295.3l2.7 1.1 2.2-1.3-2.7-1z"/>
<path class="kaz" d="M370.1 300.6l2.7 1.1 0-4-2.7-1.1z"/>
<path class="kba" d="M372.8 301.7l2.2-1.4 0-3.9-2.2 1.3z"/>
<path class="kbb" d="M370.1 296.6l2.7 1.1 2.2-1.3-2.7-1.1z"/>
<path class="kaz" d="M373.5 302l2.7 1.1-.1-4-2.7-1.1z"/>
<path class="kba" d="M376.2 303.1l2.2-1.4-.1-4-2.2 1.4z"/>
<path class="kbb" d="M373.4 298l2.7 1.1 2.2-1.4-2.7-1.1z"/>
<path class="kaz" d="M376.9 303.4l2.7 1.1-.1-3.7-2.7-1.1z"/>
<path class="kba" d="M379.6 304.5l2.1-1.4 0-3.7-2.2 1.4z"/>
<path class="kbb" d="M376.8 299.7l2.7 1.1 2.2-1.4-2.7-1.1z"/>
<path class="kaz" d="M380.2 304.8l2.7 1.1 0-4.4-2.7-1.1z"/>
<path class="kba" d="M382.9 305.9l2.2-1.4 0-4.4-2.2 1.4z"/>
<path class="kbb" d="M380.2 300.4l2.7 1.1 2.2-1.4-2.7-1z"/>
<path class="kaz" d="M383.6 306.2l2.7 1.1 0-4.5-2.7-1.1z"/>
<path class="kba" d="M386.3 307.3l2.2-1.4 0-4.5-2.2 1.4z"/>
<path class="kbb" d="M383.6 301.7l2.7 1.1 2.2-1.4-2.7-1.1z"/>
<path class="kbc" d="M387 307.6l2.7 1.1 0-3.1-2.7-1.1z"/>
<path class="kbd" d="M389.7 308.7l2.1-1.4 0-3.2-2.1 1.5z"/>
<path class="kbe" d="M387 304.5l2.7 1.1 2.1-1.5-2.7-1.1z"/>
<path class="kak" d="M390.4 309l2.7 1.1-.1-7.4-2.7-1.1z"/>
<path class="kal" d="M393.1 310.1l2.1-1.5 0-7.4-2.2 1.5z"/>
<path class="kam" d="M390.3 301.6l2.7 1.1 2.2-1.5-2.7-1z"/>
<path class="kaz" d="M393.8 310.4l2.7 1.1-.1-4.8-2.7-1.1z"/>
<path class="kba" d="M396.5 311.5l2.1-1.5 0-4.8-2.2 1.5z"/>
<path class="kbb" d="M393.7 305.6l2.7 1.1 2.2-1.5-2.7-1.1z"/>
<path class="kaz" d="M397.1 311.8l2.7 1.2 0-3.8-2.7-1.1z"/>
<path class="kba" d="M399.8 313l2.1-1.6 0-3.7-2.1 1.5z"/>
<path class="kbb" d="M397.1 308.1l2.7 1.1 2.1-1.5-2.7-1.1z"/>
<path class="kbc" d="M350.4 295l2.7 1.2-.1-3.3-2.7-1.2z"/>
<path class="kbd" d="M353.1 296.2l2.3-1.2-.1-3.3-2.3 1.2z"/>
<path class="kbe" d="M350.3 291.7l2.7 1.2 2.3-1.2-2.7-1.1z"/>
<path class="kbc" d="M353.8 296.5l2.7 1.1 0-2.4-2.8-1.1z"/>
<path class="kbd" d="M356.5 297.6l2.2-1.2 0-2.4-2.2 1.2z"/>
<path class="kbe" d="M353.7 294.1l2.8 1.1 2.2-1.2-2.7-1.2z"/>
<path class="kan" d="M357.2 297.9l2.7 1.1-.1-5.9-2.7-1.1z"/>
<path class="kao" d="M359.9 299l2.2-1.2-.1-5.9-2.2 1.2z"/>
<path class="kap" d="M357.1 292l2.7 1.1 2.2-1.2-2.7-1.1z"/>
<path class="kat" d="M360.6 299.3l2.7 1.2-.1-5.1-2.7-1.1z"/>
<path class="kau" d="M363.3 300.5l2.2-1.3-.1-5.1-2.2 1.3z"/>
<path class="kav" d="M360.5 294.3l2.7 1.1 2.2-1.3-2.7-1.1z"/>
<path class="kat" d="M364 300.8l2.7 1.1-.1-5.6-2.7-1.1z"/>
<path class="kau" d="M366.7 301.9l2.2-1.3-.1-5.6-2.2 1.3z"/>
<path class="kav" d="M363.9 295.2l2.7 1.1 2.2-1.3-2.7-1.1z"/>
<path class="kat" d="M367.3 302.2l2.8 1.2-.1-5.2-2.7-1.1z"/>
<path class="kau" d="M370.1 303.4l2.2-1.4-.1-5.1-2.2 1.3z"/>
<path class="kav" d="M367.3 297.1l2.7 1.1 2.2-1.3-2.7-1.1z"/>
<path class="kat" d="M370.7 303.7l2.8 1.1-.1-5.7-2.7-1.1z"/>
<path class="kau" d="M373.5 304.8l2.1-1.4 0-5.6-2.2 1.3z"/>
<path class="kav" d="M370.7 298l2.7 1.1 2.2-1.3-2.7-1.1z"/>
<path class="kat" d="M374.1 305.1l2.7 1.1 0-5-2.7-1.1z"/>
<path class="kau" d="M376.8 306.2l2.2-1.3 0-5-2.2 1.3z"/>
<path class="kav" d="M374.1 300.1l2.7 1.1 2.2-1.3-2.7-1.1z"/>
<path class="kat" d="M377.5 306.5l2.7 1.2 0-5.6-2.7-1.2z"/>
<path class="kau" d="M380.2 307.7l2.2-1.4 0-5.6-2.2 1.4z"/>
<path class="kav" d="M377.5 300.9l2.7 1.2 2.2-1.4-2.7-1.1z"/>
<path class="kaz" d="M380.9 308l2.7 1.1 0-4.3-2.7-1.1z"/>
<path class="kba" d="M383.6 309.1l2.2-1.4 0-4.3-2.2 1.4z"/>
<path class="kbb" d="M380.9 303.7l2.7 1.1 2.2-1.4-2.8-1.1z"/>
<path class="kbc" d="M384.3 309.4l2.7 1.2 0-3.3-2.7-1.2z"/>
<path class="kbd" d="M387 310.6l2.2-1.5-.1-3.3-2.1 1.5z"/>
<path class="kbe" d="M384.3 306.1l2.7 1.2 2.1-1.5-2.7-1.1z"/>
<path class="kat" d="M387.7 310.9l2.7 1.1 0-5-2.7-1.1z"/>
<path class="kau" d="M390.4 312l2.1-1.5 0-4.9-2.1 1.4z"/>
<path class="kav" d="M387.7 305.9l2.7 1.1 2.1-1.4-2.7-1.1z"/>
<path class="kaz" d="M391.1 312.3l2.7 1.1 0-4.1-2.7-1.2z"/>
<path class="kba" d="M393.8 313.4l2.1-1.5 0-4.1-2.1 1.5z"/>
<path class="kbb" d="M391.1 308.1l2.7 1.2 2.1-1.5-2.7-1.1z"/>
<path class="kaz" d="M394.5 313.7l2.7 1.2 0-4.6-2.7-1.1z"/>
<path class="kba" d="M397.2 314.9l2.1-1.6 0-4.5-2.1 1.5z"/>
<path class="kbb" d="M394.5 309.2l2.7 1.1 2.1-1.5-2.7-1.1z"/>
<path class="kah" d="M397.9 315.2l2.7 1.1 0-3.4-2.7-1.1z"/>
<path class="kai" d="M400.6 316.3l2.1-1.5 0-3.5-2.1 1.6z"/>
<path class="kaj" d="M397.9 311.8l2.7 1.1 2.1-1.6-2.7-1.1z"/>
<path class="kah" d="M344.2 295l2.7 1.2-.1-2.4-2.7-1.1z"/>
<path class="kai" d="M346.9 296.2l2.2-1.2 0-2.3-2.3 1.1z"/>
<path class="kaj" d="M344.1 292.7l2.7 1.1 2.3-1.1-2.7-1.2z"/>
<path class="kaz" d="M347.6 296.5l2.7 1.2-.1-3.9-2.7-1.1z"/>
<path class="kba" d="M350.3 297.7l2.2-1.2 0-3.9-2.3 1.2z"/>
<path class="kbb" d="M347.5 292.7l2.7 1.1 2.3-1.2-2.8-1.1z"/>
<path class="kaz" d="M351 298l2.7 1.2-.1-4-2.7-1.2z"/>
<path class="kba" d="M353.7 299.2l2.2-1.3 0-4-2.3 1.3z"/>
<path class="kbb" d="M350.9 294l2.7 1.2 2.3-1.3-2.8-1.1z"/>
<path class="kaz" d="M354.4 299.5l2.7 1.1-.1-4.4-2.7-1.1z"/>
<path class="kba" d="M357.1 300.6l2.2-1.2 0-4.4-2.3 1.2z"/>
<path class="kbb" d="M354.3 295.1l2.7 1.1 2.3-1.2-2.8-1.2z"/>
<path class="kat" d="M357.8 300.9l2.7 1.2-.1-4.8-2.7-1.2z"/>
<path class="kau" d="M360.5 302.1l2.2-1.3 0-4.8-2.3 1.3z"/>
<path class="kav" d="M357.7 296.1l2.7 1.2 2.3-1.3-2.8-1.1z"/>
<path class="kbc" d="M361.2 302.4l2.7 1.2 0-3.2-2.8-1.2z"/>
<path class="kbd" d="M363.9 303.6l2.2-1.3 0-3.2-2.2 1.3z"/>
<path class="kbe" d="M361.1 299.2l2.8 1.2 2.2-1.3-2.7-1.2z"/>
<path class="kbc" d="M364.6 303.9l2.7 1.1 0-3.3-2.8-1.2z"/>
<path class="kbd" d="M367.3 305l2.2-1.3 0-3.3-2.2 1.3z"/>
<path class="kbe" d="M364.5 300.5l2.8 1.2 2.2-1.3-2.7-1.2z"/>
<path class="kaz" d="M368 305.3l2.7 1.2 0-4.6-2.8-1.2z"/>
<path class="kba" d="M370.7 306.5l2.2-1.4 0-4.6-2.2 1.4z"/>
<path class="kbb" d="M367.9 300.7l2.8 1.2 2.2-1.4-2.8-1.1z"/>
<path class="kaz" d="M371.4 306.8l2.7 1.2 0-4-2.7-1.1z"/>
<path class="kba" d="M374.1 308l2.2-1.4 0-3.9-2.2 1.3z"/>
<path class="kbb" d="M371.4 302.9l2.7 1.1 2.2-1.3-2.8-1.2z"/>
<path class="kbc" d="M374.8 308.3l2.7 1.2 0-2.9-2.7-1.2z"/>
<path class="kbd" d="M377.5 309.5l2.2-1.5 0-2.8-2.2 1.4z"/>
<path class="kbe" d="M374.8 305.4l2.7 1.2 2.2-1.4-2.7-1.1z"/>
<path class="kaz" d="M378.2 309.7l2.7 1.2 0-4.2-2.7-1.1z"/>
<path class="kba" d="M380.9 310.9l2.2-1.4 0-4.2-2.2 1.4z"/>
<path class="kbb" d="M378.2 305.6l2.7 1.1 2.2-1.4-2.8-1.1z"/>
<path class="kbc" d="M381.6 311.2l2.7 1.2 0-3.6-2.7-1.1z"/>
<path class="kbd" d="M384.3 312.4l2.2-1.5 0-3.5-2.2 1.4z"/>
<path class="kbe" d="M381.6 307.7l2.7 1.1 2.2-1.4-2.8-1.1z"/>
<path class="kaz" d="M385 312.7l2.7 1.2 0-4.2-2.7-1.1z"/>
<path class="kba" d="M387.7 313.9l2.2-1.5 0-4.2-2.2 1.5z"/>
<path class="kbb" d="M385 308.6l2.7 1.1 2.2-1.5-2.8-1.1z"/>
<path class="kaz" d="M388.4 314.2l2.8 1.1-.1-4.4-2.7-1.2z"/>
<path class="kba" d="M391.2 315.3l2.1-1.5 0-4.4-2.2 1.5z"/>
<path class="kbb" d="M388.4 309.7l2.7 1.2 2.2-1.5-2.8-1.2z"/>
<path class="kat" d="M391.8 315.6l2.8 1.2-.1-5.3-2.7-1.2z"/>
<path class="kau" d="M394.6 316.8l2.1-1.5-.1-5.3-2.1 1.5z"/>
<path class="kav" d="M391.8 310.3l2.7 1.2 2.1-1.5-2.7-1.2z"/>
<path class="kat" d="M344.7 298l2.8 1.2-.1-5.8-2.8-1.2z"/>
<path class="kau" d="M347.5 299.2l2.2-1.2-.1-5.8-2.2 1.2z"/>
<path class="kav" d="M344.6 292.2l2.8 1.2 2.2-1.2-2.7-1.1z"/>
<path class="kaz" d="M348.2 299.5l2.7 1.2-.1-4.3-2.7-1.2z"/>
<path class="kba" d="M350.9 300.7l2.2-1.2 0-4.3-2.3 1.2z"/>
<path class="kbb" d="M348.1 295.2l2.7 1.2 2.3-1.2-2.8-1.2z"/>
<path class="kaz" d="M351.6 301l2.7 1.2-.1-4.5-2.7-1.2z"/>
<path class="kba" d="M354.3 302.2l2.2-1.2 0-4.6-2.3 1.3z"/>
<path class="kbb" d="M351.5 296.5l2.7 1.2 2.3-1.3-2.8-1.1z"/>
<path class="kat" d="M355 302.5l2.7 1.2-.1-5.5-2.7-1.2z"/>
<path class="kau" d="M357.7 303.7l2.2-1.3 0-5.4-2.3 1.2z"/>
<path class="kav" d="M354.9 297l2.7 1.2 2.3-1.2-2.8-1.2z"/>
<path class="kaz" d="M358.4 304l2.7 1.2 0-4.5-2.8-1.1z"/>
<path class="kba" d="M361.1 305.2l2.3-1.3-.1-4.5-2.2 1.3z"/>
<path class="kbb" d="M358.3 299.6l2.8 1.1 2.2-1.3-2.7-1.1z"/>
<path class="kat" d="M361.8 305.5l2.8 1.2-.1-5.6-2.8-1.2z"/>
<path class="kau" d="M364.6 306.7l2.2-1.3-.1-5.6-2.2 1.3z"/>
<path class="kav" d="M361.7 299.9l2.8 1.2 2.2-1.3-2.7-1.2z"/>
<path class="kaz" d="M365.3 307l2.7 1.2-.1-4.8-2.7-1.1z"/>
<path class="kba" d="M368 308.2l2.2-1.3-.1-4.8-2.2 1.3z"/>
<path class="kbb" d="M365.2 302.3l2.7 1.1 2.2-1.3-2.7-1.1z"/>
<path class="kaz" d="M368.7 308.5l2.7 1.2-.1-4.7-2.7-1.2z"/>
<path class="kba" d="M371.4 309.7l2.2-1.4-.1-4.6-2.2 1.3z"/>
<path class="kbb" d="M368.6 303.8l2.7 1.2 2.2-1.3-2.7-1.2z"/>
<path class="kaz" d="M372.1 310l2.7 1.2 0-4-2.8-1.2z"/>
<path class="kba" d="M374.8 311.2l2.2-1.4-.1-4-2.1 1.4z"/>
<path class="kbb" d="M372 306l2.8 1.2 2.1-1.4-2.7-1.2z"/>
<path class="kat" d="M375.5 311.5l2.7 1.2 0-5.6-2.8-1.1z"/>
<path class="kau" d="M378.2 312.7l2.2-1.4-.1-5.6-2.1 1.4z"/>
<path class="kav" d="M375.4 306l2.8 1.1 2.1-1.4-2.7-1.1z"/>
<path class="kat" d="M378.9 313l2.8 1.2-.1-5-2.7-1.2z"/>
<path class="kau" d="M381.7 314.2l2.1-1.4 0-5.1-2.2 1.5z"/>
<path class="kav" d="M378.9 308l2.7 1.2 2.2-1.5-2.8-1.1z"/>
<path class="kaz" d="M382.3 314.5l2.8 1.2-.1-5-2.7-1.2z"/>
<path class="kba" d="M385.1 315.7l2.1-1.5 0-5-2.2 1.5z"/>
<path class="kbb" d="M382.3 309.5l2.7 1.2 2.2-1.5-2.8-1.1z"/>
<path class="kat" d="M385.8 316l2.7 1.2 0-5.3-2.8-1.2z"/>
<path class="kau" d="M388.5 317.2l2.1-1.5 0-5.3-2.1 1.5z"/>
<path class="kav" d="M385.7 310.7l2.8 1.2 2.1-1.5-2.7-1.2z"/>
<path class="kaz" d="M389.2 317.5l2.7 1.2 0-3.9-2.7-1.2z"/>
<path class="kba" d="M391.9 318.7l2.1-1.5 0-3.9-2.1 1.5z"/>
<path class="kbb" d="M389.2 313.6l2.7 1.2 2.1-1.5-2.7-1.2z"/>
<path class="kah" d="M392.6 319l2.7 1.2 0-3.4-2.7-1.2z"/>
<path class="kai" d="M395.3 320.2l2.1-1.5 0-3.5-2.1 1.6z"/>
<path class="kaj" d="M392.6 315.6l2.7 1.2 2.1-1.6-2.7-1.1z"/>
<path class="kah" d="M338.5 298l2.7 1.2-.1-3.2-2.7-1.2z"/>
<path class="kai" d="M341.2 299.2l2.3-1.2-.1-3.2-2.3 1.2z"/>
<path class="kaj" d="M338.4 294.8l2.7 1.2 2.3-1.2-2.7-1.2z"/>
<path class="kan" d="M341.9 299.5l2.8 1.2-.2-6-2.7-1.2z"/>
<path class="kao" d="M344.7 300.7l2.2-1.2-.1-6-2.3 1.2z"/>
<path class="kap" d="M341.8 293.5l2.7 1.2 2.3-1.2-2.8-1.2z"/>
<path class="kak" d="M345.3 301.1l2.8 1.2-.2-7.3-2.7-1.1z"/>
<path class="kal" d="M348.1 302.3l2.2-1.3-.1-7.2-2.3 1.2z"/>
<path class="kam" d="M345.2 293.9l2.7 1.1 2.3-1.2-2.8-1.1z"/>
<path class="kan" d="M348.8 302.6l2.7 1.2-.1-6.2-2.8-1.2z"/>
<path class="kao" d="M351.5 303.8l2.2-1.3-.1-6.1-2.2 1.2z"/>
<path class="kap" d="M348.6 296.4l2.8 1.2 2.2-1.2-2.7-1.2z"/>
<path class="kat" d="M352.2 304.1l2.8 1.2-.2-5.6-2.7-1.2z"/>
<path class="kau" d="M355 305.3l2.2-1.3-.1-5.6-2.3 1.3z"/>
<path class="kav" d="M352.1 298.5l2.7 1.2 2.3-1.3-2.8-1.1z"/>
<path class="kbc" d="M355.6 305.6l2.8 1.3-.1-3.5-2.7-1.2z"/>
<path class="kbd" d="M358.4 306.9l2.2-1.3-.1-3.5-2.2 1.3z"/>
<path class="kbe" d="M355.6 302.2l2.7 1.2 2.2-1.3-2.7-1.2z"/>
<path class="kat" d="M359.1 307.2l2.7 1.2-.1-5.2-2.7-1.2z"/>
<path class="kau" d="M361.8 308.4l2.2-1.3-.1-5.2-2.2 1.3z"/>
<path class="kav" d="M359 302l2.7 1.2 2.2-1.3-2.7-1.2z"/>
<path class="kbc" d="M362.5 308.7l2.8 1.2-.1-3.3-2.7-1.2z"/>
<path class="kbd" d="M365.3 309.9l2.1-1.3 0-3.3-2.2 1.3z"/>
<path class="kbe" d="M362.5 305.4l2.7 1.2 2.2-1.3-2.7-1.2z"/>
<path class="kbc" d="M365.9 310.2l2.8 1.3-.1-3.6-2.7-1.2z"/>
<path class="kbd" d="M368.7 311.5l2.2-1.4-.1-3.5-2.2 1.3z"/>
<path class="kbe" d="M365.9 306.7l2.7 1.2 2.2-1.3-2.7-1.2z"/>
<path class="kbc" d="M369.4 311.8l2.7 1.2 0-2.4-2.8-1.2z"/>
<path class="kbd" d="M372.1 313l2.2-1.4 0-2.4-2.2 1.4z"/>
<path class="kbe" d="M369.3 309.4l2.8 1.2 2.2-1.4-2.8-1.2z"/>
<path class="kbc" d="M372.8 313.3l2.8 1.2-.1-3.4-2.7-1.2z"/>
<path class="kbd" d="M375.6 314.5l2.1-1.4 0-3.4-2.2 1.4z"/>
<path class="kbe" d="M372.8 309.9l2.7 1.2 2.2-1.4-2.8-1.2z"/>
<path class="kaz" d="M376.2 314.8l2.8 1.3-.1-4.4-2.7-1.2z"/>
<path class="kba" d="M379 316.1l2.1-1.5 0-4.4-2.2 1.5z"/>
<path class="kbb" d="M376.2 310.5l2.7 1.2 2.2-1.5-2.8-1.1z"/>
<path class="kan" d="M379.7 316.4l2.7 1.2-.1-6.9-2.7-1.2z"/>
<path class="kao" d="M382.4 317.6l2.2-1.5-.1-6.8-2.2 1.4z"/>
<path class="kap" d="M379.6 309.5l2.7 1.2 2.2-1.4-2.8-1.2z"/>
<path class="kat" d="M383.1 317.9l2.8 1.2-.1-5.4-2.8-1.2z"/>
<path class="kau" d="M385.9 319.1l2.1-1.5-.1-5.4-2.1 1.5z"/>
<path class="kav" d="M383 312.5l2.8 1.2 2.1-1.5-2.7-1.2z"/>
<path class="kaz" d="M386.5 319.4l2.8 1.3-.1-4.7-2.7-1.2z"/>
<path class="kba" d="M389.3 320.7l2.1-1.6 0-4.6-2.2 1.5z"/>
<path class="kbb" d="M386.5 314.8l2.7 1.2 2.2-1.5-2.8-1.1z"/>
<path class="kbc" d="M339.1 301l2.7 1.3 0-3.4-2.8-1.3z"/>
<path class="kbd" d="M341.8 302.3l2.3-1.2-.1-3.4-2.2 1.2z"/>
<path class="kbe" d="M339 297.6l2.8 1.3 2.2-1.2-2.7-1.2z"/>
<path class="kaz" d="M342.5 302.6l2.8 1.2-.1-3.9-2.8-1.3z"/>
<path class="kba" d="M345.3 303.8l2.2-1.2-.1-3.9-2.2 1.2z"/>
<path class="kbb" d="M342.4 298.6l2.8 1.3 2.2-1.2-2.7-1.2z"/>
<path class="kat" d="M346 304.1l2.7 1.3-.1-5.5-2.7-1.2z"/>
<path class="kau" d="M348.7 305.4l2.3-1.3-.1-5.4-2.3 1.2z"/>
<path class="kav" d="M345.9 298.7l2.7 1.2 2.3-1.2-2.8-1.2z"/>
<path class="kat" d="M349.4 305.7l2.8 1.3-.1-6.2-2.8-1.2z"/>
<path class="kau" d="M352.2 307l2.2-1.3-.1-6.1-2.2 1.2z"/>
<path class="kav" d="M349.3 299.6l2.8 1.2 2.2-1.2-2.8-1.2z"/>
<path class="kaz" d="M352.9 307.3l2.7 1.2 0-3.8-2.8-1.2z"/>
<path class="kba" d="M355.6 308.5l2.2-1.3 0-3.8-2.2 1.3z"/>
<path class="kbb" d="M352.8 303.5l2.8 1.2 2.2-1.3-2.8-1.2z"/>
<path class="kaz" d="M356.3 308.8l2.8 1.3-.1-4.9-2.8-1.2z"/>
<path class="kba" d="M359.1 310.1l2.2-1.4-.1-4.8-2.2 1.3z"/>
<path class="kbb" d="M356.2 304l2.8 1.2 2.2-1.3-2.8-1.2z"/>
<path class="kaz" d="M359.8 310.4l2.7 1.2-.1-4.3-2.7-1.2z"/>
<path class="kba" d="M362.5 311.6l2.2-1.3-.1-4.3-2.2 1.3z"/>
<path class="kbb" d="M359.7 306.1l2.7 1.2 2.2-1.3-2.7-1.2z"/>
<path class="kat" d="M363.2 312l2.8 1.2-.1-5.6-2.8-1.3z"/>
<path class="kau" d="M366 313.2l2.1-1.4 0-5.6-2.2 1.4z"/>
<path class="kav" d="M363.1 306.3l2.8 1.3 2.2-1.4-2.8-1.2z"/>
<path class="kbc" d="M366.7 313.5l2.7 1.3 0-2.4-2.8-1.3z"/>
<path class="kbd" d="M369.4 314.8l2.2-1.4-.1-2.4-2.1 1.4z"/>
<path class="kbe" d="M366.6 311.1l2.8 1.3 2.1-1.4-2.7-1.2z"/>
<path class="kaz" d="M370.1 315.1l2.8 1.2-.1-4.2-2.8-1.2z"/>
<path class="kba" d="M372.9 316.3l2.1-1.4 0-4.2-2.2 1.4z"/>
<path class="kbb" d="M370 310.9l2.8 1.2 2.2-1.4-2.8-1.2z"/>
<path class="kaz" d="M373.6 316.6l2.7 1.3-.1-4.8-2.7-1.2z"/>
<path class="kba" d="M376.3 317.9l2.2-1.5-.1-4.8-2.2 1.5z"/>
<path class="kbb" d="M373.5 311.9l2.7 1.2 2.2-1.5-2.8-1.2z"/>
<path class="kat" d="M377 318.2l2.8 1.3-.1-5.4-2.8-1.2z"/>
<path class="kau" d="M379.8 319.5l2.1-1.5-.1-5.4-2.1 1.5z"/>
<path class="kav" d="M376.9 312.9l2.8 1.2 2.1-1.5-2.7-1.2z"/>
<path class="kat" d="M380.4 319.8l2.8 1.2-.1-5.5-2.7-1.3z"/>
<path class="kau" d="M383.2 321l2.1-1.5 0-5.5-2.2 1.5z"/>
<path class="kav" d="M380.4 314.2l2.7 1.3 2.2-1.5-2.8-1.2z"/>
<path class="kan" d="M383.9 321.3l2.8 1.3-.1-7.3-2.8-1.2z"/>
<path class="kao" d="M386.7 322.6l2.1-1.6-.1-7.2-2.1 1.5z"/>
<path class="kap" d="M383.8 314.1l2.8 1.2 2.1-1.5-2.8-1.2z"/>
<path class="kah" d="M387.3 322.9l2.8 1.2 0-2.9-2.8-1.2z"/>
<path class="kai" d="M390.1 324.1l2.1-1.5 0-2.9-2.1 1.5z"/>
<path class="kaj" d="M387.3 320l2.8 1.2 2.1-1.5-2.8-1.3z"/>
<path class="kah" d="M332.8 300.9l2.8 1.3-.1-3.2-2.8-1.3z"/>
<path class="kai" d="M335.6 302.2l2.2-1.2-.1-3.2-2.2 1.2z"/>
<path class="kaj" d="M332.7 297.7l2.8 1.3 2.2-1.2-2.7-1.2z"/>
<path class="kah" d="M339.7 304.1l2.8 1.3-.1-2.9-2.8-1.3z"/>
<path class="kai" d="M342.5 305.4l2.2-1.3 0-2.8-2.3 1.2z"/>
<path class="kaj" d="M339.6 301.2l2.8 1.3 2.3-1.2-2.8-1.3z"/>
<path class="kah" d="M346.6 307.3l2.8 1.3-.1-3.3-2.7-1.2z"/>
<path class="kai" d="M349.4 308.6l2.2-1.3 0-3.2-2.3 1.2z"/>
<path class="kaj" d="M346.6 304.1l2.7 1.2 2.3-1.2-2.8-1.3z"/>
<path class="kah" d="M353.6 310.5l2.7 1.3 0-2.8-2.8-1.2z"/>
<path class="kai" d="M356.3 311.8l2.2-1.4 0-2.7-2.2 1.3z"/>
<path class="kaj" d="M353.5 307.8l2.8 1.2 2.2-1.3-2.8-1.2z"/>
<path class="kah" d="M360.5 313.7l2.7 1.2 0-2.8-2.8-1.2z"/>
<path class="kai" d="M363.2 314.9l2.2-1.3 0-2.8-2.2 1.3z"/>
<path class="kaj" d="M360.4 310.9l2.8 1.2 2.2-1.3-2.8-1.3z"/>
<path class="kah" d="M367.4 316.9l2.8 1.2-.1-3.2-2.8-1.3z"/>
<path class="kai" d="M370.2 318.1l2.1-1.4 0-3.2-2.2 1.4z"/>
<path class="kaj" d="M367.3 313.6l2.8 1.3 2.2-1.4-2.8-1.3z"/>
<path class="kah" d="M374.3 320l2.8 1.3-.1-3.3-2.7-1.3z"/>
<path class="kai" d="M377.1 321.3l2.1-1.5 0-3.3-2.2 1.5z"/>
<path class="kaj" d="M374.3 316.7l2.7 1.3 2.2-1.5-2.8-1.2z"/>
<path class="kah" d="M381.2 323.2l2.8 1.3 0-3.3-2.8-1.3z"/>
<path class="kai" d="M384 324.5l2.1-1.5 0-3.3-2.1 1.5z"/>
<path class="kaj" d="M381.2 319.9l2.8 1.3 2.1-1.5-2.8-1.3z"/>
</g>
<line x1="331.4" y1="303.3" x2="328.9" y2="210.9" stroke="#333" stroke-width="0.6"/>
<line x1="331.4" y1="303.3" x2="388.1" y2="329.8" stroke="#333" stroke-width="0.6"/>
<line x1="388.1" y1="329.8" x2="430.9" y2="297.2" stroke="#333" stroke-width="0.6"/>
<line x1="331.4" y1="303.3" x2="329.8" y2="303.3" stroke="#333" stroke-width="0.4"/>
<text x="329.6" y="306.7" font-family="'Liberation Serif',serif" font-size="3.9" font-style="italic" text-anchor="end" fill="#333">0.00</text>
<line x1="331.2" y1="297.5" x2="329.6" y2="297.5" stroke="#333" stroke-width="0.4"/>
<text x="329.4" y="300.9" font-family="'Liberation Serif',serif" font-size="3.9" font-style="italic" text-anchor="end" fill="#333">0.05</text>
<line x1="331.1" y1="291.8" x2="329.5" y2="291.8" stroke="#333" stroke-width="0.4"/>
<text x="329.3" y="295.1" font-family="'Liberation Serif',serif" font-size="3.9" font-style="italic" text-anchor="end" fill="#333">0.10</text>
<line x1="330.9" y1="286" x2="329.3" y2="286" stroke="#333" stroke-width="0.4"/>
<text x="329.1" y="289.4" font-family="'Liberation Serif',serif" font-size="3.9" font-style="italic" text-anchor="end" fill="#333">0.15</text>
<line x1="330.8" y1="280.2" x2="329.2" y2="280.2" stroke="#333" stroke-width="0.4"/>
<text x="329" y="283.6" font-family="'Liberation Serif',serif" font-size="3.9" font-style="italic" text-anchor="end" fill="#333">0.20</text>
<line x1="330.6" y1="274.4" x2="329" y2="274.4" stroke="#333" stroke-width="0.4"/>
<text x="328.8" y="277.8" font-family="'Liberation Serif',serif" font-size="3.9" font-style="italic" text-anchor="end" fill="#333">0.25</text>
<line x1="330.5" y1="268.6" x2="328.9" y2="268.6" stroke="#333" stroke-width="0.4"/>
<text x="328.7" y="272" font-family="'Liberation Serif',serif" font-size="3.9" font-style="italic" text-anchor="end" fill="#333">0.30</text>
<line x1="330.3" y1="262.9" x2="328.7" y2="262.9" stroke="#333" stroke-width="0.4"/>
<text x="328.5" y="266.3" font-family="'Liberation Serif',serif" font-size="3.9" font-style="italic" text-anchor="end" fill="#333">0.35</text>
<line x1="330.1" y1="257.1" x2="328.5" y2="257.1" stroke="#333" stroke-width="0.4"/>
<text x="328.3" y="260.5" font-family="'Liberation Serif',serif" font-size="3.9" font-style="italic" text-anchor="end" fill="#333">0.40</text>
<line x1="330" y1="251.3" x2="328.4" y2="251.3" stroke="#333" stroke-width="0.4"/>
<text x="328.2" y="254.7" font-family="'Liberation Serif',serif" font-size="3.9" font-style="italic" text-anchor="end" fill="#333">0.45</text>
<line x1="329.8" y1="245.6" x2="328.2" y2="245.6" stroke="#333" stroke-width="0.4"/>
<text x="328" y="249" font-family="'Liberation Serif',serif" font-size="3.9" font-style="italic" text-anchor="end" fill="#333">0.50</text>
<line x1="329.7" y1="239.8" x2="328.1" y2="239.8" stroke="#333" stroke-width="0.4"/>
<text x="327.9" y="243.2" font-family="'Liberation Serif',serif" font-size="3.9" font-style="italic" text-anchor="end" fill="#333">0.55</text>
<line x1="329.5" y1="234" x2="327.9" y2="234" stroke="#333" stroke-width="0.4"/>
<text x="327.7" y="237.4" font-family="'Liberation Serif',serif" font-size="3.9" font-style="italic" text-anchor="end" fill="#333">0.60</text>
<line x1="329.4" y1="228.2" x2="327.8" y2="228.2" stroke="#333" stroke-width="0.4"/>
<text x="327.6" y="231.6" font-family="'Liberation Serif',serif" font-size="3.9" font-style="italic" text-anchor="end" fill="#333">0.65</text>
<line x1="329.2" y1="222.4" x2="327.6" y2="222.4" stroke="#333" stroke-width="0.4"/>
<text x="327.4" y="225.8" font-family="'Liberation Serif',serif" font-size="3.9" font-style="italic" text-anchor="end" fill="#333">0.70</text>
<line x1="329.1" y1="216.7" x2="327.5" y2="216.7" stroke="#333" stroke-width="0.4"/>
<text x="327.3" y="220.1" font-family="'Liberation Serif',serif" font-size="3.9" font-style="italic" text-anchor="end" fill="#333">0.75</text>
<line x1="328.9" y1="210.9" x2="327.3" y2="210.9" stroke="#333" stroke-width="0.4"/>
<text x="327.1" y="214.3" font-family="'Liberation Serif',serif" font-size="3.9" font-style="italic" text-anchor="end" fill="#333">0.80</text>
<text font-family="'Liberation Serif',serif" font-size="7.2" font-weight="bold" text-anchor="middle" transform="translate(314.7 262) rotate(90)">Z (m)</text>
<line x1="333.1" y1="304.1" x2="332.3" y2="305.7" stroke="#333" stroke-width="0.4"/>
<text font-family="'Liberation Serif',serif" font-size="3.6" font-style="italic" text-anchor="middle" fill="#333" transform="translate(330.1 309.1) rotate(28)">0.0</text>
<line x1="343.8" y1="309.1" x2="343" y2="310.7" stroke="#333" stroke-width="0.4"/>
<text font-family="'Liberation Serif',serif" font-size="3.6" font-style="italic" text-anchor="middle" fill="#333" transform="translate(340.8 314.1) rotate(28)">0.1</text>
<line x1="354.4" y1="314.1" x2="353.6" y2="315.7" stroke="#333" stroke-width="0.4"/>
<text font-family="'Liberation Serif',serif" font-size="3.6" font-style="italic" text-anchor="middle" fill="#333" transform="translate(351.4 319.1) rotate(28)">0.2</text>
<line x1="365.1" y1="319" x2="364.3" y2="320.6" stroke="#333" stroke-width="0.4"/>
<text font-family="'Liberation Serif',serif" font-size="3.6" font-style="italic" text-anchor="middle" fill="#333" transform="translate(362.1 324) rotate(28)">0.3</text>
<line x1="375.7" y1="324" x2="374.9" y2="325.6" stroke="#333" stroke-width="0.4"/>
<text font-family="'Liberation Serif',serif" font-size="3.6" font-style="italic" text-anchor="middle" fill="#333" transform="translate(372.7 329) rotate(28)">0.4</text>
<line x1="386.4" y1="329" x2="385.6" y2="330.6" stroke="#333" stroke-width="0.4"/>
<text font-family="'Liberation Serif',serif" font-size="3.6" font-style="italic" text-anchor="middle" fill="#333" transform="translate(383.4 334) rotate(28)">0.5</text>
<line x1="389.4" y1="328.8" x2="390.4" y2="330.2" stroke="#333" stroke-width="0.4"/>
<text font-family="'Liberation Serif',serif" font-size="3.6" font-style="italic" text-anchor="middle" fill="#333" transform="translate(393.2 332.4) rotate(-35)">0.0</text>
<line x1="397.4" y1="322.7" x2="398.4" y2="324.1" stroke="#333" stroke-width="0.4"/>
<text font-family="'Liberation Serif',serif" font-size="3.6" font-style="italic" text-anchor="middle" fill="#333" transform="translate(401.2 326.3) rotate(-35)">0.1</text>
<line x1="405.5" y1="316.6" x2="406.5" y2="318" stroke="#333" stroke-width="0.4"/>
<text font-family="'Liberation Serif',serif" font-size="3.6" font-style="italic" text-anchor="middle" fill="#333" transform="translate(409.3 320.2) rotate(-35)">0.2</text>
<line x1="413.5" y1="310.4" x2="414.5" y2="311.8" stroke="#333" stroke-width="0.4"/>
<text font-family="'Liberation Serif',serif" font-size="3.6" font-style="italic" text-anchor="middle" fill="#333" transform="translate(417.3 314) rotate(-35)">0.3</text>
<line x1="421.6" y1="304.3" x2="422.6" y2="305.7" stroke="#333" stroke-width="0.4"/>
<text font-family="'Liberation Serif',serif" font-size="3.6" font-style="italic" text-anchor="middle" fill="#333" transform="translate(425.4 307.9) rotate(-35)">0.4</text>
<line x1="429.6" y1="298.2" x2="430.6" y2="299.6" stroke="#333" stroke-width="0.4"/>
<text font-family="'Liberation Serif',serif" font-size="3.6" font-style="italic" text-anchor="middle" fill="#333" transform="translate(433.4 301.8) rotate(-35)">0.5</text>
<text font-family="'Liberation Serif',serif" font-size="5.4" font-weight="bold" font-style="italic" text-anchor="middle" transform="translate(346.1 323.2) rotate(30)">X (m)</text>
<text font-family="'Liberation Serif',serif" font-size="5.4" font-weight="bold" font-style="italic" text-anchor="middle" transform="translate(420.8 320) rotate(-38)">Y (m)</text>
<rect x="437.4" y="202.1" width="5.9" height="13.3" fill="#c0c0c0"/>
<rect x="437.4" y="215.2" width="5.9" height="13.3" fill="#0000ff"/>
<rect x="437.4" y="228.4" width="5.9" height="13.3" fill="#0080ff"/>
<rect x="437.4" y="241.5" width="5.9" height="13.3" fill="#00ffff"/>
<rect x="437.4" y="254.7" width="5.9" height="13.3" fill="#00ff00"/>
<rect x="437.4" y="267.8" width="5.9" height="13.3" fill="#80ff00"/>
<rect x="437.4" y="280.9" width="5.9" height="13.3" fill="#ffff00"/>
<rect x="437.4" y="294.1" width="5.9" height="13.3" fill="#ff8000"/>
<rect x="437.4" y="307.2" width="5.9" height="13.3" fill="#ff0000"/>
<rect x="437.4" y="320.4" width="5.9" height="13.3" fill="#000000"/>
<rect x="437.4" y="202.1" width="5.9" height="13.1" fill="none" stroke="#999" stroke-width="0.4"/>
<line x1="443.3" y1="215.2" x2="445" y2="215.2" stroke="#444" stroke-width="0.4"/>
<text x="446.8" y="217.1" font-family="'Liberation Serif',serif" font-size="5.6" fill="#222">1.000</text>
<line x1="443.3" y1="228.4" x2="445" y2="228.4" stroke="#444" stroke-width="0.4"/>
<text x="446.8" y="230.3" font-family="'Liberation Serif',serif" font-size="5.6" fill="#222">0.8750</text>
<line x1="443.3" y1="241.5" x2="445" y2="241.5" stroke="#444" stroke-width="0.4"/>
<text x="446.8" y="243.4" font-family="'Liberation Serif',serif" font-size="5.6" fill="#222">0.7500</text>
<line x1="443.3" y1="254.7" x2="445" y2="254.7" stroke="#444" stroke-width="0.4"/>
<text x="446.8" y="256.6" font-family="'Liberation Serif',serif" font-size="5.6" fill="#222">0.6250</text>
<line x1="443.3" y1="267.8" x2="445" y2="267.8" stroke="#444" stroke-width="0.4"/>
<text x="446.8" y="269.7" font-family="'Liberation Serif',serif" font-size="5.6" fill="#222">0.5000</text>
<line x1="443.3" y1="280.9" x2="445" y2="280.9" stroke="#444" stroke-width="0.4"/>
<text x="446.8" y="282.8" font-family="'Liberation Serif',serif" font-size="5.6" fill="#222">0.3750</text>
<line x1="443.3" y1="294.1" x2="445" y2="294.1" stroke="#444" stroke-width="0.4"/>
<text x="446.8" y="296" font-family="'Liberation Serif',serif" font-size="5.6" fill="#222">0.2500</text>
<line x1="443.3" y1="307.2" x2="445" y2="307.2" stroke="#444" stroke-width="0.4"/>
<text x="446.8" y="309.1" font-family="'Liberation Serif',serif" font-size="5.6" fill="#222">0.1250</text>
<line x1="443.3" y1="320.4" x2="445" y2="320.4" stroke="#444" stroke-width="0.4"/>
<text x="446.8" y="322.3" font-family="'Liberation Serif',serif" font-size="5.6" fill="#222">0.000</text>
<text x="321.5" y="194.5" font-family="'Liberation Serif',serif" font-size="19.5" font-weight="bold" text-anchor="middle">e</text>
</g>
</svg>
</body></html>
